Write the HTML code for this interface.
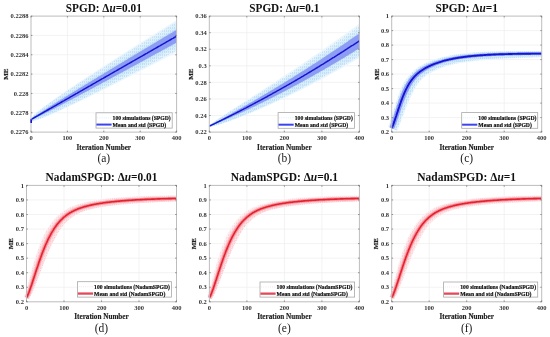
<!DOCTYPE html>
<html><head><meta charset="utf-8"><title>Figure</title><style>
html,body{margin:0;padding:0;background:#fff;}
svg{display:block;}
text{font-family:"Liberation Serif", serif;fill:#222;}
.tk{font-size:6.5px;font-weight:bold;fill:#333;}
.xl{font-size:7.2px;font-weight:bold;fill:#222;stroke:#222;stroke-width:0.15px;}
.yl{font-size:7px;font-weight:bold;fill:#222;stroke:#222;stroke-width:0.2px;}
.ti{font-size:11.9px;font-weight:bold;fill:#111;}
.lg{font-size:5.7px;font-weight:bold;fill:#111;stroke:#111;stroke-width:0.18px;}
.sc{font-size:11.5px;fill:#1a1a1a;}
</style></head>
<body><svg width="550" height="337" viewBox="0 0 550 337">
<defs><pattern id="dotblue" width="2" height="3" patternUnits="userSpaceOnUse"><rect x="0" y="0" width="1" height="2" fill="#8ec6ee"/></pattern><pattern id="dotred" width="2" height="3" patternUnits="userSpaceOnUse"><rect x="0" y="0" width="1" height="2" fill="#f4a6ae"/></pattern></defs>
<rect width="550" height="337" fill="#fff"/>
<rect x="31.0" y="16.1" width="145.60" height="116.00" fill="#fff"/>
<path d="M67.40,16.1V132.1M103.80,16.1V132.1M140.20,16.1V132.1M31.0,112.77H176.6M31.0,93.43H176.6M31.0,74.10H176.6M31.0,54.77H176.6M31.0,35.43H176.6" stroke="#eeeeee" stroke-width="0.7" fill="none"/>
<polygon points="31.0,122.8 31.7,117.6 32.5,116.7 33.2,115.9 33.9,115.1 34.6,114.4 35.4,113.7 36.1,113.1 36.8,112.4 37.6,111.8 38.3,111.2 39.0,110.6 39.7,110.0 40.5,109.4 41.2,108.9 41.9,108.3 42.6,107.7 43.4,107.2 44.1,106.6 44.8,106.1 45.6,105.5 46.3,105.0 47.0,104.4 47.7,103.9 48.5,103.4 49.2,102.8 49.9,102.3 50.7,101.8 51.4,101.2 52.1,100.7 52.8,100.2 53.6,99.7 54.3,99.2 55.0,98.7 55.8,98.1 56.5,97.6 57.2,97.1 57.9,96.6 58.7,96.1 59.4,95.6 60.1,95.1 60.8,94.6 61.6,94.1 62.3,93.6 63.0,93.1 63.8,92.6 64.5,92.1 65.2,91.6 65.9,91.1 66.7,90.6 67.4,90.1 68.1,89.6 68.9,89.1 69.6,88.6 70.3,88.1 71.0,87.6 71.8,87.2 72.5,86.7 73.2,86.2 74.0,85.7 74.7,85.2 75.4,84.7 76.1,84.2 76.9,83.7 77.6,83.3 78.3,82.8 79.0,82.3 79.8,81.8 80.5,81.3 81.2,80.8 82.0,80.4 82.7,79.9 83.4,79.4 84.1,78.9 84.9,78.4 85.6,78.0 86.3,77.5 87.1,77.0 87.8,76.5 88.5,76.1 89.2,75.6 90.0,75.1 90.7,74.6 91.4,74.2 92.2,73.7 92.9,73.2 93.6,72.7 94.3,72.3 95.1,71.8 95.8,71.3 96.5,70.8 97.2,70.4 98.0,69.9 98.7,69.4 99.4,68.9 100.2,68.5 100.9,68.0 101.6,67.5 102.3,67.1 103.1,66.6 103.8,66.1 104.5,65.7 105.3,65.2 106.0,64.7 106.7,64.2 107.4,63.8 108.2,63.3 108.9,62.8 109.6,62.4 110.4,61.9 111.1,61.4 111.8,61.0 112.5,60.5 113.3,60.0 114.0,59.6 114.7,59.1 115.4,58.6 116.2,58.2 116.9,57.7 117.6,57.3 118.4,56.8 119.1,56.3 119.8,55.9 120.5,55.4 121.3,54.9 122.0,54.5 122.7,54.0 123.5,53.5 124.2,53.1 124.9,52.6 125.6,52.2 126.4,51.7 127.1,51.2 127.8,50.8 128.6,50.3 129.3,49.8 130.0,49.4 130.7,48.9 131.5,48.5 132.2,48.0 132.9,47.5 133.6,47.1 134.4,46.6 135.1,46.2 135.8,45.7 136.6,45.2 137.3,44.8 138.0,44.3 138.7,43.9 139.5,43.4 140.2,42.9 140.9,42.5 141.7,42.0 142.4,41.6 143.1,41.1 143.8,40.6 144.6,40.2 145.3,39.7 146.0,39.3 146.8,38.8 147.5,38.4 148.2,37.9 148.9,37.4 149.7,37.0 150.4,36.5 151.1,36.1 151.8,35.6 152.6,35.2 153.3,34.7 154.0,34.2 154.8,33.8 155.5,33.3 156.2,32.9 156.9,32.4 157.7,32.0 158.4,31.5 159.1,31.1 159.9,30.6 160.6,30.1 161.3,29.7 162.0,29.2 162.8,28.8 163.5,28.3 164.2,27.9 165.0,27.4 165.7,27.0 166.4,26.5 167.1,26.1 167.9,25.6 168.6,25.1 169.3,24.7 170.0,24.2 170.8,23.8 171.5,23.3 172.2,22.9 173.0,22.4 173.7,22.0 174.4,21.5 175.1,21.1 175.9,20.6 176.6,20.2 176.6,52.3 175.9,52.6 175.1,53.0 174.4,53.4 173.7,53.8 173.0,54.2 172.2,54.5 171.5,54.9 170.8,55.3 170.0,55.7 169.3,56.1 168.6,56.4 167.9,56.8 167.1,57.2 166.4,57.6 165.7,57.9 165.0,58.3 164.2,58.7 163.5,59.1 162.8,59.5 162.0,59.8 161.3,60.2 160.6,60.6 159.9,61.0 159.1,61.4 158.4,61.7 157.7,62.1 156.9,62.5 156.2,62.9 155.5,63.2 154.8,63.6 154.0,64.0 153.3,64.4 152.6,64.8 151.8,65.1 151.1,65.5 150.4,65.9 149.7,66.3 148.9,66.6 148.2,67.0 147.5,67.4 146.8,67.8 146.0,68.1 145.3,68.5 144.6,68.9 143.8,69.3 143.1,69.6 142.4,70.0 141.7,70.4 140.9,70.8 140.2,71.1 139.5,71.5 138.7,71.9 138.0,72.3 137.3,72.6 136.6,73.0 135.8,73.4 135.1,73.8 134.4,74.1 133.6,74.5 132.9,74.9 132.2,75.2 131.5,75.6 130.7,76.0 130.0,76.4 129.3,76.7 128.6,77.1 127.8,77.5 127.1,77.8 126.4,78.2 125.6,78.6 124.9,79.0 124.2,79.3 123.5,79.7 122.7,80.1 122.0,80.4 121.3,80.8 120.5,81.2 119.8,81.6 119.1,81.9 118.4,82.3 117.6,82.7 116.9,83.0 116.2,83.4 115.4,83.8 114.7,84.1 114.0,84.5 113.3,84.9 112.5,85.2 111.8,85.6 111.1,86.0 110.4,86.3 109.6,86.7 108.9,87.1 108.2,87.4 107.4,87.8 106.7,88.2 106.0,88.5 105.3,88.9 104.5,89.3 103.8,89.6 103.1,90.0 102.3,90.3 101.6,90.7 100.9,91.1 100.2,91.4 99.4,91.8 98.7,92.2 98.0,92.5 97.2,92.9 96.5,93.2 95.8,93.6 95.1,94.0 94.3,94.3 93.6,94.7 92.9,95.0 92.2,95.4 91.4,95.8 90.7,96.1 90.0,96.5 89.2,96.8 88.5,97.2 87.8,97.5 87.1,97.9 86.3,98.3 85.6,98.6 84.9,99.0 84.1,99.3 83.4,99.7 82.7,100.0 82.0,100.4 81.2,100.7 80.5,101.1 79.8,101.4 79.0,101.8 78.3,102.1 77.6,102.5 76.9,102.8 76.1,103.2 75.4,103.5 74.7,103.9 74.0,104.2 73.2,104.6 72.5,104.9 71.8,105.3 71.0,105.6 70.3,105.9 69.6,106.3 68.9,106.6 68.1,107.0 67.4,107.3 66.7,107.6 65.9,108.0 65.2,108.3 64.5,108.7 63.8,109.0 63.0,109.3 62.3,109.7 61.6,110.0 60.8,110.3 60.1,110.6 59.4,111.0 58.7,111.3 57.9,111.6 57.2,112.0 56.5,112.3 55.8,112.6 55.0,112.9 54.3,113.2 53.6,113.6 52.8,113.9 52.1,114.2 51.4,114.5 50.7,114.8 49.9,115.1 49.2,115.4 48.5,115.7 47.7,116.0 47.0,116.3 46.3,116.6 45.6,116.9 44.8,117.2 44.1,117.5 43.4,117.7 42.6,118.0 41.9,118.3 41.2,118.5 40.5,118.8 39.7,119.1 39.0,119.3 38.3,119.5 37.6,119.8 36.8,120.0 36.1,120.2 35.4,120.3 34.6,120.5 33.9,120.6 33.2,120.7 32.5,120.7 31.7,120.6 31.0,122.8" fill="#ebf6fd"/>
<polygon points="31.0,122.8 31.7,118.0 32.5,117.2 33.2,116.5 33.9,115.8 34.6,115.2 35.4,114.6 36.1,114.0 36.8,113.4 37.6,112.8 38.3,112.3 39.0,111.7 39.7,111.2 40.5,110.6 41.2,110.1 41.9,109.6 42.6,109.1 43.4,108.5 44.1,108.0 44.8,107.5 45.6,107.0 46.3,106.5 47.0,106.0 47.7,105.5 48.5,105.0 49.2,104.5 49.9,104.0 50.7,103.5 51.4,103.0 52.1,102.5 52.8,102.0 53.6,101.5 54.3,101.0 55.0,100.5 55.8,100.0 56.5,99.5 57.2,99.0 57.9,98.6 58.7,98.1 59.4,97.6 60.1,97.1 60.8,96.6 61.6,96.2 62.3,95.7 63.0,95.2 63.8,94.7 64.5,94.2 65.2,93.8 65.9,93.3 66.7,92.8 67.4,92.3 68.1,91.9 68.9,91.4 69.6,90.9 70.3,90.4 71.0,90.0 71.8,89.5 72.5,89.0 73.2,88.6 74.0,88.1 74.7,87.6 75.4,87.2 76.1,86.7 76.9,86.2 77.6,85.8 78.3,85.3 79.0,84.8 79.8,84.4 80.5,83.9 81.2,83.4 82.0,83.0 82.7,82.5 83.4,82.0 84.1,81.6 84.9,81.1 85.6,80.6 86.3,80.2 87.1,79.7 87.8,79.3 88.5,78.8 89.2,78.3 90.0,77.9 90.7,77.4 91.4,77.0 92.2,76.5 92.9,76.0 93.6,75.6 94.3,75.1 95.1,74.7 95.8,74.2 96.5,73.7 97.2,73.3 98.0,72.8 98.7,72.4 99.4,71.9 100.2,71.5 100.9,71.0 101.6,70.5 102.3,70.1 103.1,69.6 103.8,69.2 104.5,68.7 105.3,68.3 106.0,67.8 106.7,67.4 107.4,66.9 108.2,66.4 108.9,66.0 109.6,65.5 110.4,65.1 111.1,64.6 111.8,64.2 112.5,63.7 113.3,63.3 114.0,62.8 114.7,62.4 115.4,61.9 116.2,61.5 116.9,61.0 117.6,60.6 118.4,60.1 119.1,59.6 119.8,59.2 120.5,58.7 121.3,58.3 122.0,57.8 122.7,57.4 123.5,56.9 124.2,56.5 124.9,56.0 125.6,55.6 126.4,55.1 127.1,54.7 127.8,54.2 128.6,53.8 129.3,53.3 130.0,52.9 130.7,52.4 131.5,52.0 132.2,51.5 132.9,51.1 133.6,50.6 134.4,50.2 135.1,49.7 135.8,49.3 136.6,48.8 137.3,48.4 138.0,48.0 138.7,47.5 139.5,47.1 140.2,46.6 140.9,46.2 141.7,45.7 142.4,45.3 143.1,44.8 143.8,44.4 144.6,43.9 145.3,43.5 146.0,43.0 146.8,42.6 147.5,42.1 148.2,41.7 148.9,41.2 149.7,40.8 150.4,40.3 151.1,39.9 151.8,39.5 152.6,39.0 153.3,38.6 154.0,38.1 154.8,37.7 155.5,37.2 156.2,36.8 156.9,36.3 157.7,35.9 158.4,35.4 159.1,35.0 159.9,34.5 160.6,34.1 161.3,33.7 162.0,33.2 162.8,32.8 163.5,32.3 164.2,31.9 165.0,31.4 165.7,31.0 166.4,30.5 167.1,30.1 167.9,29.7 168.6,29.2 169.3,28.8 170.0,28.3 170.8,27.9 171.5,27.4 172.2,27.0 173.0,26.5 173.7,26.1 174.4,25.7 175.1,25.2 175.9,24.8 176.6,24.3 176.6,48.1 175.9,48.5 175.1,48.9 174.4,49.3 173.7,49.6 173.0,50.0 172.2,50.4 171.5,50.8 170.8,51.2 170.0,51.6 169.3,52.0 168.6,52.4 167.9,52.8 167.1,53.1 166.4,53.5 165.7,53.9 165.0,54.3 164.2,54.7 163.5,55.1 162.8,55.5 162.0,55.9 161.3,56.3 160.6,56.6 159.9,57.0 159.1,57.4 158.4,57.8 157.7,58.2 156.9,58.6 156.2,59.0 155.5,59.4 154.8,59.7 154.0,60.1 153.3,60.5 152.6,60.9 151.8,61.3 151.1,61.7 150.4,62.1 149.7,62.5 148.9,62.8 148.2,63.2 147.5,63.6 146.8,64.0 146.0,64.4 145.3,64.8 144.6,65.2 143.8,65.5 143.1,65.9 142.4,66.3 141.7,66.7 140.9,67.1 140.2,67.5 139.5,67.9 138.7,68.2 138.0,68.6 137.3,69.0 136.6,69.4 135.8,69.8 135.1,70.2 134.4,70.5 133.6,70.9 132.9,71.3 132.2,71.7 131.5,72.1 130.7,72.5 130.0,72.9 129.3,73.2 128.6,73.6 127.8,74.0 127.1,74.4 126.4,74.8 125.6,75.2 124.9,75.5 124.2,75.9 123.5,76.3 122.7,76.7 122.0,77.1 121.3,77.4 120.5,77.8 119.8,78.2 119.1,78.6 118.4,79.0 117.6,79.4 116.9,79.7 116.2,80.1 115.4,80.5 114.7,80.9 114.0,81.3 113.3,81.6 112.5,82.0 111.8,82.4 111.1,82.8 110.4,83.2 109.6,83.5 108.9,83.9 108.2,84.3 107.4,84.7 106.7,85.1 106.0,85.4 105.3,85.8 104.5,86.2 103.8,86.6 103.1,86.9 102.3,87.3 101.6,87.7 100.9,88.1 100.2,88.4 99.4,88.8 98.7,89.2 98.0,89.6 97.2,90.0 96.5,90.3 95.8,90.7 95.1,91.1 94.3,91.5 93.6,91.8 92.9,92.2 92.2,92.6 91.4,92.9 90.7,93.3 90.0,93.7 89.2,94.1 88.5,94.4 87.8,94.8 87.1,95.2 86.3,95.6 85.6,95.9 84.9,96.3 84.1,96.7 83.4,97.0 82.7,97.4 82.0,97.8 81.2,98.1 80.5,98.5 79.8,98.9 79.0,99.2 78.3,99.6 77.6,100.0 76.9,100.3 76.1,100.7 75.4,101.1 74.7,101.4 74.0,101.8 73.2,102.2 72.5,102.5 71.8,102.9 71.0,103.3 70.3,103.6 69.6,104.0 68.9,104.3 68.1,104.7 67.4,105.1 66.7,105.4 65.9,105.8 65.2,106.1 64.5,106.5 63.8,106.9 63.0,107.2 62.3,107.6 61.6,107.9 60.8,108.3 60.1,108.6 59.4,109.0 58.7,109.3 57.9,109.7 57.2,110.0 56.5,110.4 55.8,110.7 55.0,111.1 54.3,111.4 53.6,111.7 52.8,112.1 52.1,112.4 51.4,112.8 50.7,113.1 49.9,113.4 49.2,113.8 48.5,114.1 47.7,114.4 47.0,114.8 46.3,115.1 45.6,115.4 44.8,115.7 44.1,116.1 43.4,116.4 42.6,116.7 41.9,117.0 41.2,117.3 40.5,117.6 39.7,117.9 39.0,118.2 38.3,118.5 37.6,118.7 36.8,119.0 36.1,119.2 35.4,119.5 34.6,119.7 33.9,119.9 33.2,120.1 32.5,120.2 31.7,120.2 31.0,122.8" fill="#ddeffb"/>
<polygon points="31.0,122.8 31.7,118.4 32.5,117.7 33.2,117.1 33.9,116.5 34.6,115.9 35.4,115.4 36.1,114.8 36.8,114.3 37.6,113.8 38.3,113.3 39.0,112.8 39.7,112.3 40.5,111.8 41.2,111.3 41.9,110.8 42.6,110.3 43.4,109.8 44.1,109.3 44.8,108.8 45.6,108.4 46.3,107.9 47.0,107.4 47.7,106.9 48.5,106.4 49.2,106.0 49.9,105.5 50.7,105.0 51.4,104.6 52.1,104.1 52.8,103.6 53.6,103.2 54.3,102.7 55.0,102.2 55.8,101.8 56.5,101.3 57.2,100.8 57.9,100.4 58.7,99.9 59.4,99.4 60.1,99.0 60.8,98.5 61.6,98.1 62.3,97.6 63.0,97.1 63.8,96.7 64.5,96.2 65.2,95.8 65.9,95.3 66.7,94.9 67.4,94.4 68.1,93.9 68.9,93.5 69.6,93.0 70.3,92.6 71.0,92.1 71.8,91.7 72.5,91.2 73.2,90.8 74.0,90.3 74.7,89.9 75.4,89.4 76.1,89.0 76.9,88.5 77.6,88.1 78.3,87.6 79.0,87.2 79.8,86.7 80.5,86.3 81.2,85.8 82.0,85.4 82.7,84.9 83.4,84.5 84.1,84.0 84.9,83.6 85.6,83.1 86.3,82.7 87.1,82.2 87.8,81.8 88.5,81.3 89.2,80.9 90.0,80.4 90.7,80.0 91.4,79.6 92.2,79.1 92.9,78.7 93.6,78.2 94.3,77.8 95.1,77.3 95.8,76.9 96.5,76.4 97.2,76.0 98.0,75.5 98.7,75.1 99.4,74.7 100.2,74.2 100.9,73.8 101.6,73.3 102.3,72.9 103.1,72.4 103.8,72.0 104.5,71.6 105.3,71.1 106.0,70.7 106.7,70.2 107.4,69.8 108.2,69.3 108.9,68.9 109.6,68.5 110.4,68.0 111.1,67.6 111.8,67.1 112.5,66.7 113.3,66.2 114.0,65.8 114.7,65.4 115.4,64.9 116.2,64.5 116.9,64.0 117.6,63.6 118.4,63.2 119.1,62.7 119.8,62.3 120.5,61.8 121.3,61.4 122.0,61.0 122.7,60.5 123.5,60.1 124.2,59.6 124.9,59.2 125.6,58.8 126.4,58.3 127.1,57.9 127.8,57.4 128.6,57.0 129.3,56.6 130.0,56.1 130.7,55.7 131.5,55.2 132.2,54.8 132.9,54.4 133.6,53.9 134.4,53.5 135.1,53.1 135.8,52.6 136.6,52.2 137.3,51.7 138.0,51.3 138.7,50.9 139.5,50.4 140.2,50.0 140.9,49.6 141.7,49.1 142.4,48.7 143.1,48.2 143.8,47.8 144.6,47.4 145.3,46.9 146.0,46.5 146.8,46.1 147.5,45.6 148.2,45.2 148.9,44.7 149.7,44.3 150.4,43.9 151.1,43.4 151.8,43.0 152.6,42.6 153.3,42.1 154.0,41.7 154.8,41.2 155.5,40.8 156.2,40.4 156.9,39.9 157.7,39.5 158.4,39.1 159.1,38.6 159.9,38.2 160.6,37.8 161.3,37.3 162.0,36.9 162.8,36.5 163.5,36.0 164.2,35.6 165.0,35.1 165.7,34.7 166.4,34.3 167.1,33.8 167.9,33.4 168.6,33.0 169.3,32.5 170.0,32.1 170.8,31.7 171.5,31.2 172.2,30.8 173.0,30.4 173.7,29.9 174.4,29.5 175.1,29.1 175.9,28.6 176.6,28.2 176.6,44.2 175.9,44.6 175.1,45.0 174.4,45.4 173.7,45.8 173.0,46.2 172.2,46.6 171.5,47.0 170.8,47.4 170.0,47.8 169.3,48.2 168.6,48.6 167.9,49.0 167.1,49.4 166.4,49.8 165.7,50.2 165.0,50.6 164.2,51.0 163.5,51.4 162.8,51.8 162.0,52.2 161.3,52.6 160.6,53.0 159.9,53.4 159.1,53.8 158.4,54.2 157.7,54.6 156.9,55.0 156.2,55.4 155.5,55.8 154.8,56.2 154.0,56.6 153.3,57.0 152.6,57.4 151.8,57.8 151.1,58.1 150.4,58.5 149.7,58.9 148.9,59.3 148.2,59.7 147.5,60.1 146.8,60.5 146.0,60.9 145.3,61.3 144.6,61.7 143.8,62.1 143.1,62.5 142.4,62.9 141.7,63.3 140.9,63.7 140.2,64.1 139.5,64.5 138.7,64.9 138.0,65.3 137.3,65.7 136.6,66.1 135.8,66.5 135.1,66.9 134.4,67.2 133.6,67.6 132.9,68.0 132.2,68.4 131.5,68.8 130.7,69.2 130.0,69.6 129.3,70.0 128.6,70.4 127.8,70.8 127.1,71.2 126.4,71.6 125.6,72.0 124.9,72.4 124.2,72.8 123.5,73.2 122.7,73.6 122.0,73.9 121.3,74.3 120.5,74.7 119.8,75.1 119.1,75.5 118.4,75.9 117.6,76.3 116.9,76.7 116.2,77.1 115.4,77.5 114.7,77.9 114.0,78.3 113.3,78.7 112.5,79.1 111.8,79.4 111.1,79.8 110.4,80.2 109.6,80.6 108.9,81.0 108.2,81.4 107.4,81.8 106.7,82.2 106.0,82.6 105.3,83.0 104.5,83.4 103.8,83.7 103.1,84.1 102.3,84.5 101.6,84.9 100.9,85.3 100.2,85.7 99.4,86.1 98.7,86.5 98.0,86.9 97.2,87.2 96.5,87.6 95.8,88.0 95.1,88.4 94.3,88.8 93.6,89.2 92.9,89.6 92.2,90.0 91.4,90.4 90.7,90.7 90.0,91.1 89.2,91.5 88.5,91.9 87.8,92.3 87.1,92.7 86.3,93.1 85.6,93.4 84.9,93.8 84.1,94.2 83.4,94.6 82.7,95.0 82.0,95.4 81.2,95.8 80.5,96.1 79.8,96.5 79.0,96.9 78.3,97.3 77.6,97.7 76.9,98.1 76.1,98.4 75.4,98.8 74.7,99.2 74.0,99.6 73.2,100.0 72.5,100.3 71.8,100.7 71.0,101.1 70.3,101.5 69.6,101.9 68.9,102.2 68.1,102.6 67.4,103.0 66.7,103.4 65.9,103.8 65.2,104.1 64.5,104.5 63.8,104.9 63.0,105.3 62.3,105.6 61.6,106.0 60.8,106.4 60.1,106.8 59.4,107.1 58.7,107.5 57.9,107.9 57.2,108.2 56.5,108.6 55.8,109.0 55.0,109.4 54.3,109.7 53.6,110.1 52.8,110.5 52.1,110.8 51.4,111.2 50.7,111.5 49.9,111.9 49.2,112.3 48.5,112.6 47.7,113.0 47.0,113.3 46.3,113.7 45.6,114.0 44.8,114.4 44.1,114.7 43.4,115.1 42.6,115.4 41.9,115.8 41.2,116.1 40.5,116.5 39.7,116.8 39.0,117.1 38.3,117.5 37.6,117.8 36.8,118.1 36.1,118.4 35.4,118.7 34.6,119.0 33.9,119.2 33.2,119.5 32.5,119.7 31.7,119.9 31.0,122.8" fill="#cfe7f9"/>
<polygon points="31.0,122.8 31.7,117.8 32.5,116.9 33.2,116.1 33.9,115.4 34.6,114.7 35.4,114.1 36.1,113.4 36.8,112.8 37.6,112.2 38.3,111.6 39.0,111.0 39.7,110.5 40.5,109.9 41.2,109.3 41.9,108.8 42.6,108.2 43.4,107.7 44.1,107.1 44.8,106.6 45.6,106.1 46.3,105.5 47.0,105.0 47.7,104.5 48.5,104.0 49.2,103.5 49.9,102.9 50.7,102.4 51.4,101.9 52.1,101.4 52.8,100.9 53.6,100.4 54.3,99.9 55.0,99.4 55.8,98.9 56.5,98.4 57.2,97.9 57.9,97.4 58.7,96.9 59.4,96.4 60.1,95.9 60.8,95.4 61.6,94.9 62.3,94.4 63.0,93.9 63.8,93.4 64.5,92.9 65.2,92.4 65.9,91.9 66.7,91.4 67.4,91.0 68.1,90.5 68.9,90.0 69.6,89.5 70.3,89.0 71.0,88.5 71.8,88.1 72.5,87.6 73.2,87.1 74.0,86.6 74.7,86.1 75.4,85.7 76.1,85.2 76.9,84.7 77.6,84.2 78.3,83.7 79.0,83.3 79.8,82.8 80.5,82.3 81.2,81.8 82.0,81.4 82.7,80.9 83.4,80.4 84.1,79.9 84.9,79.5 85.6,79.0 86.3,78.5 87.1,78.1 87.8,77.6 88.5,77.1 89.2,76.6 90.0,76.2 90.7,75.7 91.4,75.2 92.2,74.8 92.9,74.3 93.6,73.8 94.3,73.4 95.1,72.9 95.8,72.4 96.5,72.0 97.2,71.5 98.0,71.0 98.7,70.6 99.4,70.1 100.2,69.6 100.9,69.2 101.6,68.7 102.3,68.2 103.1,67.8 103.8,67.3 104.5,66.8 105.3,66.4 106.0,65.9 106.7,65.4 107.4,65.0 108.2,64.5 108.9,64.1 109.6,63.6 110.4,63.1 111.1,62.7 111.8,62.2 112.5,61.7 113.3,61.3 114.0,60.8 114.7,60.4 115.4,59.9 116.2,59.4 116.9,59.0 117.6,58.5 118.4,58.1 119.1,57.6 119.8,57.1 120.5,56.7 121.3,56.2 122.0,55.8 122.7,55.3 123.5,54.8 124.2,54.4 124.9,53.9 125.6,53.5 126.4,53.0 127.1,52.6 127.8,52.1 128.6,51.6 129.3,51.2 130.0,50.7 130.7,50.3 131.5,49.8 132.2,49.4 132.9,48.9 133.6,48.4 134.4,48.0 135.1,47.5 135.8,47.1 136.6,46.6 137.3,46.2 138.0,45.7 138.7,45.3 139.5,44.8 140.2,44.3 140.9,43.9 141.7,43.4 142.4,43.0 143.1,42.5 143.8,42.1 144.6,41.6 145.3,41.2 146.0,40.7 146.8,40.3 147.5,39.8 148.2,39.4 148.9,38.9 149.7,38.5 150.4,38.0 151.1,37.5 151.8,37.1 152.6,36.6 153.3,36.2 154.0,35.7 154.8,35.3 155.5,34.8 156.2,34.4 156.9,33.9 157.7,33.5 158.4,33.0 159.1,32.6 159.9,32.1 160.6,31.7 161.3,31.2 162.0,30.8 162.8,30.3 163.5,29.9 164.2,29.4 165.0,29.0 165.7,28.5 166.4,28.1 167.1,27.6 167.9,27.2 168.6,26.7 169.3,26.3 170.0,25.8 170.8,25.4 171.5,24.9 172.2,24.5 173.0,24.0 173.7,23.6 174.4,23.1 175.1,22.7 175.9,22.2 176.6,21.8 176.6,50.6 175.9,51.0 175.1,51.4 174.4,51.8 173.7,52.2 173.0,52.6 172.2,53.0 171.5,53.3 170.8,53.7 170.0,54.1 169.3,54.5 168.6,54.9 167.9,55.3 167.1,55.6 166.4,56.0 165.7,56.4 165.0,56.8 164.2,57.2 163.5,57.5 162.8,57.9 162.0,58.3 161.3,58.7 160.6,59.1 159.9,59.5 159.1,59.8 158.4,60.2 157.7,60.6 156.9,61.0 156.2,61.4 155.5,61.7 154.8,62.1 154.0,62.5 153.3,62.9 152.6,63.3 151.8,63.7 151.1,64.0 150.4,64.4 149.7,64.8 148.9,65.2 148.2,65.6 147.5,65.9 146.8,66.3 146.0,66.7 145.3,67.1 144.6,67.5 143.8,67.8 143.1,68.2 142.4,68.6 141.7,69.0 140.9,69.3 140.2,69.7 139.5,70.1 138.7,70.5 138.0,70.9 137.3,71.2 136.6,71.6 135.8,72.0 135.1,72.4 134.4,72.8 133.6,73.1 132.9,73.5 132.2,73.9 131.5,74.3 130.7,74.6 130.0,75.0 129.3,75.4 128.6,75.8 127.8,76.1 127.1,76.5 126.4,76.9 125.6,77.3 124.9,77.6 124.2,78.0 123.5,78.4 122.7,78.8 122.0,79.1 121.3,79.5 120.5,79.9 119.8,80.3 119.1,80.6 118.4,81.0 117.6,81.4 116.9,81.8 116.2,82.1 115.4,82.5 114.7,82.9 114.0,83.3 113.3,83.6 112.5,84.0 111.8,84.4 111.1,84.7 110.4,85.1 109.6,85.5 108.9,85.9 108.2,86.2 107.4,86.6 106.7,87.0 106.0,87.3 105.3,87.7 104.5,88.1 103.8,88.4 103.1,88.8 102.3,89.2 101.6,89.5 100.9,89.9 100.2,90.3 99.4,90.7 98.7,91.0 98.0,91.4 97.2,91.8 96.5,92.1 95.8,92.5 95.1,92.9 94.3,93.2 93.6,93.6 92.9,93.9 92.2,94.3 91.4,94.7 90.7,95.0 90.0,95.4 89.2,95.8 88.5,96.1 87.8,96.5 87.1,96.9 86.3,97.2 85.6,97.6 84.9,97.9 84.1,98.3 83.4,98.7 82.7,99.0 82.0,99.4 81.2,99.7 80.5,100.1 79.8,100.4 79.0,100.8 78.3,101.2 77.6,101.5 76.9,101.9 76.1,102.2 75.4,102.6 74.7,102.9 74.0,103.3 73.2,103.6 72.5,104.0 71.8,104.3 71.0,104.7 70.3,105.0 69.6,105.4 68.9,105.7 68.1,106.1 67.4,106.4 66.7,106.8 65.9,107.1 65.2,107.5 64.5,107.8 63.8,108.2 63.0,108.5 62.3,108.8 61.6,109.2 60.8,109.5 60.1,109.9 59.4,110.2 58.7,110.5 57.9,110.9 57.2,111.2 56.5,111.5 55.8,111.9 55.0,112.2 54.3,112.5 53.6,112.9 52.8,113.2 52.1,113.5 51.4,113.8 50.7,114.1 49.9,114.5 49.2,114.8 48.5,115.1 47.7,115.4 47.0,115.7 46.3,116.0 45.6,116.3 44.8,116.6 44.1,116.9 43.4,117.2 42.6,117.5 41.9,117.8 41.2,118.1 40.5,118.3 39.7,118.6 39.0,118.9 38.3,119.1 37.6,119.4 36.8,119.6 36.1,119.8 35.4,120.0 34.6,120.2 33.9,120.4 33.2,120.5 32.5,120.5 31.7,120.4 31.0,122.8" fill="url(#dotblue)" opacity="0.35"/>
<polyline points="31.0,122.8 32.8,117.8 34.6,116.5 36.5,115.3 38.3,114.1 40.1,112.9 41.9,111.7 43.7,110.6 45.6,109.4 47.4,108.3 49.2,107.1 51.0,106.0 52.8,104.9 54.7,103.8 56.5,102.7 58.3,101.5 60.1,100.4 61.9,99.3 63.8,98.2 65.6,97.1 67.4,96.0 69.2,94.9 71.0,93.8 72.9,92.7 74.7,91.6 76.5,90.5 78.3,89.4 80.1,88.3 82.0,87.2 83.8,86.1 85.6,85.0 87.4,84.0 89.2,82.9 91.1,81.8 92.9,80.7 94.7,79.6 96.5,78.5 98.3,77.4 100.2,76.4 102.0,75.3 103.8,74.2 105.6,73.1 107.4,72.0 109.3,70.9 111.1,69.9 112.9,68.8 114.7,67.7 116.5,66.6 118.4,65.5 120.2,64.5 122.0,63.4 123.8,62.3 125.6,61.2 127.5,60.1 129.3,59.1 131.1,58.0 132.9,56.9 134.7,55.8 136.6,54.8 138.4,53.7 140.2,52.6 142.0,51.5 143.8,50.5 145.7,49.4 147.5,48.3 149.3,47.2 151.1,46.2 152.9,45.1 154.8,44.0 156.6,43.0 158.4,41.9 160.2,40.8 162.0,39.7 163.9,38.7 165.7,37.6 167.5,36.5 169.3,35.5 171.1,34.4 173.0,33.3 174.8,32.2 176.6,31.2" fill="none" stroke="#a8d6f4" stroke-width="0.5" stroke-dasharray="0.6 1.2"/>
<polyline points="31.0,122.8 32.8,118.8 34.6,117.8 36.5,116.9 38.3,115.9 40.1,114.9 41.9,113.9 43.7,112.9 45.6,111.9 47.4,110.9 49.2,109.9 51.0,108.9 52.8,107.9 54.7,106.9 56.5,105.8 58.3,104.8 60.1,103.8 61.9,102.8 63.8,101.8 65.6,100.8 67.4,99.7 69.2,98.7 71.0,97.7 72.9,96.7 74.7,95.7 76.5,94.7 78.3,93.6 80.1,92.6 82.0,91.6 83.8,90.6 85.6,89.5 87.4,88.5 89.2,87.5 91.1,86.5 92.9,85.4 94.7,84.4 96.5,83.4 98.3,82.4 100.2,81.4 102.0,80.3 103.8,79.3 105.6,78.3 107.4,77.2 109.3,76.2 111.1,75.2 112.9,74.2 114.7,73.1 116.5,72.1 118.4,71.1 120.2,70.1 122.0,69.0 123.8,68.0 125.6,67.0 127.5,66.0 129.3,64.9 131.1,63.9 132.9,62.9 134.7,61.8 136.6,60.8 138.4,59.8 140.2,58.8 142.0,57.7 143.8,56.7 145.7,55.7 147.5,54.6 149.3,53.6 151.1,52.6 152.9,51.6 154.8,50.5 156.6,49.5 158.4,48.5 160.2,47.4 162.0,46.4 163.9,45.4 165.7,44.3 167.5,43.3 169.3,42.3 171.1,41.3 173.0,40.2 174.8,39.2 176.6,38.2" fill="none" stroke="#a8d6f4" stroke-width="0.5" stroke-dasharray="0.6 1.2"/>
<polyline points="31.0,122.8 32.8,118.4 34.6,117.3 36.5,116.3 38.3,115.2 40.1,114.2 41.9,113.1 43.7,112.1 45.6,111.0 47.4,109.9 49.2,108.9 51.0,107.8 52.8,106.8 54.7,105.7 56.5,104.7 58.3,103.6 60.1,102.6 61.9,101.5 63.8,100.5 65.6,99.4 67.4,98.4 69.2,97.4 71.0,96.3 72.9,95.3 74.7,94.2 76.5,93.2 78.3,92.1 80.1,91.1 82.0,90.0 83.8,89.0 85.6,87.9 87.4,86.9 89.2,85.8 91.1,84.8 92.9,83.7 94.7,82.7 96.5,81.6 98.3,80.6 100.2,79.6 102.0,78.5 103.8,77.5 105.6,76.4 107.4,75.4 109.3,74.3 111.1,73.3 112.9,72.2 114.7,71.2 116.5,70.1 118.4,69.1 120.2,68.0 122.0,67.0 123.8,66.0 125.6,64.9 127.5,63.9 129.3,62.8 131.1,61.8 132.9,60.7 134.7,59.7 136.6,58.6 138.4,57.6 140.2,56.5 142.0,55.5 143.8,54.5 145.7,53.4 147.5,52.4 149.3,51.3 151.1,50.3 152.9,49.2 154.8,48.2 156.6,47.1 158.4,46.1 160.2,45.0 162.0,44.0 163.9,43.0 165.7,41.9 167.5,40.9 169.3,39.8 171.1,38.8 173.0,37.7 174.8,36.7 176.6,35.6" fill="none" stroke="#a8d6f4" stroke-width="0.5" stroke-dasharray="0.6 1.2"/>
<polyline points="31.0,122.8 32.8,116.6 34.6,114.8 36.5,113.3 38.3,111.8 40.1,110.4 41.9,109.0 43.7,107.6 45.6,106.3 47.4,105.0 49.2,103.7 51.0,102.4 52.8,101.1 54.7,99.9 56.5,98.6 58.3,97.4 60.1,96.2 61.9,94.9 63.8,93.7 65.6,92.5 67.4,91.3 69.2,90.1 71.0,88.9 72.9,87.7 74.7,86.5 76.5,85.3 78.3,84.1 80.1,82.9 82.0,81.8 83.8,80.6 85.6,79.4 87.4,78.2 89.2,77.1 91.1,75.9 92.9,74.7 94.7,73.6 96.5,72.4 98.3,71.2 100.2,70.1 102.0,68.9 103.8,67.8 105.6,66.6 107.4,65.4 109.3,64.3 111.1,63.1 112.9,62.0 114.7,60.8 116.5,59.7 118.4,58.6 120.2,57.4 122.0,56.3 123.8,55.1 125.6,54.0 127.5,52.8 129.3,51.7 131.1,50.6 132.9,49.4 134.7,48.3 136.6,47.2 138.4,46.0 140.2,44.9 142.0,43.8 143.8,42.6 145.7,41.5 147.5,40.4 149.3,39.2 151.1,38.1 152.9,37.0 154.8,35.9 156.6,34.7 158.4,33.6 160.2,32.5 162.0,31.4 163.9,30.2 165.7,29.1 167.5,28.0 169.3,26.9 171.1,25.7 173.0,24.6 174.8,23.5 176.6,22.4" fill="none" stroke="#a8d6f4" stroke-width="0.5" stroke-dasharray="0.6 1.2"/>
<polyline points="31.0,122.8 32.8,119.8 34.6,119.2 36.5,118.5 38.3,117.8 40.1,117.0 41.9,116.2 43.7,115.3 45.6,114.5 47.4,113.6 49.2,112.7 51.0,111.9 52.8,111.0 54.7,110.1 56.5,109.2 58.3,108.3 60.1,107.3 61.9,106.4 63.8,105.5 65.6,104.6 67.4,103.7 69.2,102.7 71.0,101.8 72.9,100.9 74.7,99.9 76.5,99.0 78.3,98.0 80.1,97.1 82.0,96.1 83.8,95.2 85.6,94.2 87.4,93.3 89.2,92.3 91.1,91.4 92.9,90.4 94.7,89.5 96.5,88.5 98.3,87.5 100.2,86.6 102.0,85.6 103.8,84.6 105.6,83.7 107.4,82.7 109.3,81.7 111.1,80.8 112.9,79.8 114.7,78.8 116.5,77.9 118.4,76.9 120.2,75.9 122.0,74.9 123.8,74.0 125.6,73.0 127.5,72.0 129.3,71.0 131.1,70.1 132.9,69.1 134.7,68.1 136.6,67.1 138.4,66.1 140.2,65.2 142.0,64.2 143.8,63.2 145.7,62.2 147.5,61.2 149.3,60.3 151.1,59.3 152.9,58.3 154.8,57.3 156.6,56.3 158.4,55.3 160.2,54.3 162.0,53.4 163.9,52.4 165.7,51.4 167.5,50.4 169.3,49.4 171.1,48.4 173.0,47.4 174.8,46.4 176.6,45.5" fill="none" stroke="#a8d6f4" stroke-width="0.5" stroke-dasharray="0.6 1.2"/>
<polyline points="31.0,122.8 32.8,117.5 34.6,116.1 36.5,114.8 38.3,113.5 40.1,112.3 41.9,111.1 43.7,109.9 45.6,108.7 47.4,107.5 49.2,106.3 51.0,105.2 52.8,104.0 54.7,102.8 56.5,101.7 58.3,100.6 60.1,99.4 61.9,98.3 63.8,97.1 65.6,96.0 67.4,94.9 69.2,93.8 71.0,92.6 72.9,91.5 74.7,90.4 76.5,89.3 78.3,88.2 80.1,87.0 82.0,85.9 83.8,84.8 85.6,83.7 87.4,82.6 89.2,81.5 91.1,80.4 92.9,79.3 94.7,78.2 96.5,77.1 98.3,76.0 100.2,74.9 102.0,73.8 103.8,72.7 105.6,71.6 107.4,70.5 109.3,69.4 111.1,68.3 112.9,67.2 114.7,66.1 116.5,65.0 118.4,63.9 120.2,62.8 122.0,61.7 123.8,60.6 125.6,59.5 127.5,58.4 129.3,57.3 131.1,56.2 132.9,55.1 134.7,54.0 136.6,53.0 138.4,51.9 140.2,50.8 142.0,49.7 143.8,48.6 145.7,47.5 147.5,46.4 149.3,45.3 151.1,44.3 152.9,43.2 154.8,42.1 156.6,41.0 158.4,39.9 160.2,38.8 162.0,37.7 163.9,36.7 165.7,35.6 167.5,34.5 169.3,33.4 171.1,32.3 173.0,31.2 174.8,30.2 176.6,29.1" fill="none" stroke="#a8d6f4" stroke-width="0.5" stroke-dasharray="0.6 1.2"/>
<polyline points="31.0,122.8 32.8,120.4 34.6,120.0 36.5,119.5 38.3,118.9 40.1,118.2 41.9,117.5 43.7,116.7 45.6,116.0 47.4,115.2 49.2,114.4 51.0,113.6 52.8,112.8 54.7,111.9 56.5,111.1 58.3,110.3 60.1,109.4 61.9,108.5 63.8,107.7 65.6,106.8 67.4,105.9 69.2,105.0 71.0,104.2 72.9,103.3 74.7,102.4 76.5,101.5 78.3,100.6 80.1,99.7 82.0,98.8 83.8,97.9 85.6,97.0 87.4,96.0 89.2,95.1 91.1,94.2 92.9,93.3 94.7,92.4 96.5,91.4 98.3,90.5 100.2,89.6 102.0,88.7 103.8,87.7 105.6,86.8 107.4,85.9 109.3,84.9 111.1,84.0 112.9,83.1 114.7,82.1 116.5,81.2 118.4,80.2 120.2,79.3 122.0,78.4 123.8,77.4 125.6,76.5 127.5,75.5 129.3,74.6 131.1,73.6 132.9,72.7 134.7,71.7 136.6,70.8 138.4,69.8 140.2,68.9 142.0,67.9 143.8,67.0 145.7,66.0 147.5,65.1 149.3,64.1 151.1,63.2 152.9,62.2 154.8,61.2 156.6,60.3 158.4,59.3 160.2,58.4 162.0,57.4 163.9,56.4 165.7,55.5 167.5,54.5 169.3,53.5 171.1,52.6 173.0,51.6 174.8,50.7 176.6,49.7" fill="none" stroke="#a8d6f4" stroke-width="0.5" stroke-dasharray="0.6 1.2"/>
<polyline points="31.0,122.8 32.8,120.3 34.6,119.9 36.5,119.4 38.3,118.8 40.1,118.1 41.9,117.3 43.7,116.6 45.6,115.8 47.4,115.0 49.2,114.2 51.0,113.4 52.8,112.6 54.7,111.7 56.5,110.9 58.3,110.0 60.1,109.2 61.9,108.3 63.8,107.4 65.6,106.6 67.4,105.7 69.2,104.8 71.0,103.9 72.9,103.0 74.7,102.1 76.5,101.2 78.3,100.3 80.1,99.4 82.0,98.5 83.8,97.6 85.6,96.7 87.4,95.7 89.2,94.8 91.1,93.9 92.9,93.0 94.7,92.1 96.5,91.1 98.3,90.2 100.2,89.3 102.0,88.3 103.8,87.4 105.6,86.5 107.4,85.5 109.3,84.6 111.1,83.7 112.9,82.7 114.7,81.8 116.5,80.8 118.4,79.9 120.2,78.9 122.0,78.0 123.8,77.1 125.6,76.1 127.5,75.2 129.3,74.2 131.1,73.3 132.9,72.3 134.7,71.3 136.6,70.4 138.4,69.4 140.2,68.5 142.0,67.5 143.8,66.6 145.7,65.6 147.5,64.7 149.3,63.7 151.1,62.7 152.9,61.8 154.8,60.8 156.6,59.9 158.4,58.9 160.2,57.9 162.0,57.0 163.9,56.0 165.7,55.0 167.5,54.1 169.3,53.1 171.1,52.1 173.0,51.2 174.8,50.2 176.6,49.2" fill="none" stroke="#a8d6f4" stroke-width="0.5" stroke-dasharray="0.6 1.2"/>
<polyline points="31.0,122.8 32.8,119.1 34.6,118.3 36.5,117.4 38.3,116.5 40.1,115.6 41.9,114.6 43.7,113.7 45.6,112.7 47.4,111.8 49.2,110.8 51.0,109.8 52.8,108.9 54.7,107.9 56.5,106.9 58.3,105.9 60.1,105.0 61.9,104.0 63.8,103.0 65.6,102.0 67.4,101.0 69.2,100.0 71.0,99.0 72.9,98.0 74.7,97.1 76.5,96.1 78.3,95.1 80.1,94.1 82.0,93.1 83.8,92.1 85.6,91.1 87.4,90.1 89.2,89.1 91.1,88.1 92.9,87.1 94.7,86.1 96.5,85.1 98.3,84.1 100.2,83.1 102.0,82.0 103.8,81.0 105.6,80.0 107.4,79.0 109.3,78.0 111.1,77.0 112.9,76.0 114.7,75.0 116.5,74.0 118.4,73.0 120.2,72.0 122.0,71.0 123.8,69.9 125.6,68.9 127.5,67.9 129.3,66.9 131.1,65.9 132.9,64.9 134.7,63.9 136.6,62.9 138.4,61.9 140.2,60.8 142.0,59.8 143.8,58.8 145.7,57.8 147.5,56.8 149.3,55.8 151.1,54.8 152.9,53.7 154.8,52.7 156.6,51.7 158.4,50.7 160.2,49.7 162.0,48.7 163.9,47.7 165.7,46.6 167.5,45.6 169.3,44.6 171.1,43.6 173.0,42.6 174.8,41.6 176.6,40.5" fill="none" stroke="#a8d6f4" stroke-width="0.5" stroke-dasharray="0.6 1.2"/>
<polyline points="31.0,122.8 32.8,117.7 34.6,116.4 36.5,115.2 38.3,114.0 40.1,112.8 41.9,111.6 43.7,110.4 45.6,109.3 47.4,108.1 49.2,107.0 51.0,105.9 52.8,104.7 54.7,103.6 56.5,102.5 58.3,101.4 60.1,100.2 61.9,99.1 63.8,98.0 65.6,96.9 67.4,95.8 69.2,94.7 71.0,93.6 72.9,92.5 74.7,91.4 76.5,90.3 78.3,89.2 80.1,88.1 82.0,87.0 83.8,85.9 85.6,84.8 87.4,83.7 89.2,82.6 91.1,81.5 92.9,80.4 94.7,79.4 96.5,78.3 98.3,77.2 100.2,76.1 102.0,75.0 103.8,73.9 105.6,72.8 107.4,71.7 109.3,70.7 111.1,69.6 112.9,68.5 114.7,67.4 116.5,66.3 118.4,65.2 120.2,64.2 122.0,63.1 123.8,62.0 125.6,60.9 127.5,59.8 129.3,58.8 131.1,57.7 132.9,56.6 134.7,55.5 136.6,54.4 138.4,53.4 140.2,52.3 142.0,51.2 143.8,50.1 145.7,49.1 147.5,48.0 149.3,46.9 151.1,45.8 152.9,44.8 154.8,43.7 156.6,42.6 158.4,41.5 160.2,40.5 162.0,39.4 163.9,38.3 165.7,37.2 167.5,36.2 169.3,35.1 171.1,34.0 173.0,32.9 174.8,31.9 176.6,30.8" fill="none" stroke="#a8d6f4" stroke-width="0.5" stroke-dasharray="0.6 1.2"/>
<polyline points="31.0,122.8 32.8,116.7 34.6,115.0 36.5,113.5 38.3,112.0 40.1,110.7 41.9,109.3 43.7,108.0 45.6,106.7 47.4,105.4 49.2,104.1 51.0,102.8 52.8,101.6 54.7,100.3 56.5,99.1 58.3,97.9 60.1,96.7 61.9,95.5 63.8,94.2 65.6,93.0 67.4,91.8 69.2,90.7 71.0,89.5 72.9,88.3 74.7,87.1 76.5,85.9 78.3,84.7 80.1,83.6 82.0,82.4 83.8,81.2 85.6,80.1 87.4,78.9 89.2,77.7 91.1,76.6 92.9,75.4 94.7,74.3 96.5,73.1 98.3,72.0 100.2,70.8 102.0,69.7 103.8,68.5 105.6,67.4 107.4,66.2 109.3,65.1 111.1,63.9 112.9,62.8 114.7,61.7 116.5,60.5 118.4,59.4 120.2,58.2 122.0,57.1 123.8,56.0 125.6,54.8 127.5,53.7 129.3,52.6 131.1,51.4 132.9,50.3 134.7,49.2 136.6,48.1 138.4,46.9 140.2,45.8 142.0,44.7 143.8,43.6 145.7,42.4 147.5,41.3 149.3,40.2 151.1,39.1 152.9,37.9 154.8,36.8 156.6,35.7 158.4,34.6 160.2,33.5 162.0,32.3 163.9,31.2 165.7,30.1 167.5,29.0 169.3,27.9 171.1,26.8 173.0,25.6 174.8,24.5 176.6,23.4" fill="none" stroke="#a8d6f4" stroke-width="0.5" stroke-dasharray="0.6 1.2"/>
<polyline points="31.0,122.8 32.8,119.8 34.6,119.3 36.5,118.6 38.3,117.9 40.1,117.1 41.9,116.3 43.7,115.4 45.6,114.6 47.4,113.7 49.2,112.9 51.0,112.0 52.8,111.1 54.7,110.2 56.5,109.3 58.3,108.4 60.1,107.5 61.9,106.6 63.8,105.7 65.6,104.7 67.4,103.8 69.2,102.9 71.0,102.0 72.9,101.0 74.7,100.1 76.5,99.2 78.3,98.2 80.1,97.3 82.0,96.3 83.8,95.4 85.6,94.4 87.4,93.5 89.2,92.5 91.1,91.6 92.9,90.6 94.7,89.7 96.5,88.7 98.3,87.8 100.2,86.8 102.0,85.8 103.8,84.9 105.6,83.9 107.4,82.9 109.3,82.0 111.1,81.0 112.9,80.0 114.7,79.1 116.5,78.1 118.4,77.1 120.2,76.2 122.0,75.2 123.8,74.2 125.6,73.2 127.5,72.3 129.3,71.3 131.1,70.3 132.9,69.3 134.7,68.4 136.6,67.4 138.4,66.4 140.2,65.4 142.0,64.5 143.8,63.5 145.7,62.5 147.5,61.5 149.3,60.5 151.1,59.6 152.9,58.6 154.8,57.6 156.6,56.6 158.4,55.6 160.2,54.6 162.0,53.7 163.9,52.7 165.7,51.7 167.5,50.7 169.3,49.7 171.1,48.7 173.0,47.7 174.8,46.8 176.6,45.8" fill="none" stroke="#a8d6f4" stroke-width="0.5" stroke-dasharray="0.6 1.2"/>
<polygon points="31.0,122.8 31.7,118.8 32.5,118.2 33.2,117.7 33.9,117.1 34.6,116.6 35.4,116.1 36.1,115.6 36.8,115.1 37.6,114.6 38.3,114.1 39.0,113.7 39.7,113.2 40.5,112.7 41.2,112.2 41.9,111.7 42.6,111.3 43.4,110.8 44.1,110.3 44.8,109.9 45.6,109.4 46.3,108.9 47.0,108.5 47.7,108.0 48.5,107.5 49.2,107.1 49.9,106.6 50.7,106.2 51.4,105.7 52.1,105.2 52.8,104.8 53.6,104.3 54.3,103.9 55.0,103.4 55.8,103.0 56.5,102.5 57.2,102.1 57.9,101.6 58.7,101.1 59.4,100.7 60.1,100.2 60.8,99.8 61.6,99.3 62.3,98.9 63.0,98.4 63.8,98.0 64.5,97.5 65.2,97.1 65.9,96.6 66.7,96.2 67.4,95.7 68.1,95.3 68.9,94.8 69.6,94.4 70.3,93.9 71.0,93.5 71.8,93.0 72.5,92.6 73.2,92.1 74.0,91.7 74.7,91.2 75.4,90.8 76.1,90.4 76.9,89.9 77.6,89.5 78.3,89.0 79.0,88.6 79.8,88.1 80.5,87.7 81.2,87.2 82.0,86.8 82.7,86.3 83.4,85.9 84.1,85.5 84.9,85.0 85.6,84.6 86.3,84.1 87.1,83.7 87.8,83.2 88.5,82.8 89.2,82.3 90.0,81.9 90.7,81.5 91.4,81.0 92.2,80.6 92.9,80.1 93.6,79.7 94.3,79.2 95.1,78.8 95.8,78.4 96.5,77.9 97.2,77.5 98.0,77.0 98.7,76.6 99.4,76.2 100.2,75.7 100.9,75.3 101.6,74.8 102.3,74.4 103.1,74.0 103.8,73.5 104.5,73.1 105.3,72.6 106.0,72.2 106.7,71.8 107.4,71.3 108.2,70.9 108.9,70.4 109.6,70.0 110.4,69.6 111.1,69.1 111.8,68.7 112.5,68.2 113.3,67.8 114.0,67.4 114.7,66.9 115.4,66.5 116.2,66.0 116.9,65.6 117.6,65.2 118.4,64.7 119.1,64.3 119.8,63.8 120.5,63.4 121.3,63.0 122.0,62.5 122.7,62.1 123.5,61.7 124.2,61.2 124.9,60.8 125.6,60.3 126.4,59.9 127.1,59.5 127.8,59.0 128.6,58.6 129.3,58.1 130.0,57.7 130.7,57.3 131.5,56.8 132.2,56.4 132.9,56.0 133.6,55.5 134.4,55.1 135.1,54.6 135.8,54.2 136.6,53.8 137.3,53.3 138.0,52.9 138.7,52.5 139.5,52.0 140.2,51.6 140.9,51.2 141.7,50.7 142.4,50.3 143.1,49.8 143.8,49.4 144.6,49.0 145.3,48.5 146.0,48.1 146.8,47.7 147.5,47.2 148.2,46.8 148.9,46.4 149.7,45.9 150.4,45.5 151.1,45.0 151.8,44.6 152.6,44.2 153.3,43.7 154.0,43.3 154.8,42.9 155.5,42.4 156.2,42.0 156.9,41.6 157.7,41.1 158.4,40.7 159.1,40.3 159.9,39.8 160.6,39.4 161.3,39.0 162.0,38.5 162.8,38.1 163.5,37.6 164.2,37.2 165.0,36.8 165.7,36.3 166.4,35.9 167.1,35.5 167.9,35.0 168.6,34.6 169.3,34.2 170.0,33.7 170.8,33.3 171.5,32.9 172.2,32.4 173.0,32.0 173.7,31.6 174.4,31.1 175.1,30.7 175.9,30.3 176.6,29.8 176.6,42.6 175.9,43.0 175.1,43.4 174.4,43.8 173.7,44.2 173.0,44.6 172.2,45.0 171.5,45.4 170.8,45.8 170.0,46.2 169.3,46.6 168.6,47.0 167.9,47.4 167.1,47.8 166.4,48.2 165.7,48.6 165.0,49.0 164.2,49.4 163.5,49.8 162.8,50.2 162.0,50.6 161.3,51.0 160.6,51.4 159.9,51.8 159.1,52.2 158.4,52.6 157.7,52.9 156.9,53.3 156.2,53.7 155.5,54.1 154.8,54.5 154.0,54.9 153.3,55.3 152.6,55.7 151.8,56.1 151.1,56.5 150.4,56.9 149.7,57.3 148.9,57.7 148.2,58.1 147.5,58.5 146.8,58.9 146.0,59.3 145.3,59.7 144.6,60.1 143.8,60.5 143.1,60.9 142.4,61.3 141.7,61.7 140.9,62.1 140.2,62.5 139.5,62.9 138.7,63.3 138.0,63.7 137.3,64.1 136.6,64.5 135.8,64.9 135.1,65.3 134.4,65.7 133.6,66.1 132.9,66.4 132.2,66.8 131.5,67.2 130.7,67.6 130.0,68.0 129.3,68.4 128.6,68.8 127.8,69.2 127.1,69.6 126.4,70.0 125.6,70.4 124.9,70.8 124.2,71.2 123.5,71.6 122.7,72.0 122.0,72.4 121.3,72.8 120.5,73.2 119.8,73.6 119.1,74.0 118.4,74.4 117.6,74.7 116.9,75.1 116.2,75.5 115.4,75.9 114.7,76.3 114.0,76.7 113.3,77.1 112.5,77.5 111.8,77.9 111.1,78.3 110.4,78.7 109.6,79.1 108.9,79.5 108.2,79.9 107.4,80.3 106.7,80.7 106.0,81.0 105.3,81.4 104.5,81.8 103.8,82.2 103.1,82.6 102.3,83.0 101.6,83.4 100.9,83.8 100.2,84.2 99.4,84.6 98.7,85.0 98.0,85.4 97.2,85.8 96.5,86.1 95.8,86.5 95.1,86.9 94.3,87.3 93.6,87.7 92.9,88.1 92.2,88.5 91.4,88.9 90.7,89.3 90.0,89.7 89.2,90.1 88.5,90.4 87.8,90.8 87.1,91.2 86.3,91.6 85.6,92.0 84.9,92.4 84.1,92.8 83.4,93.2 82.7,93.6 82.0,94.0 81.2,94.3 80.5,94.7 79.8,95.1 79.0,95.5 78.3,95.9 77.6,96.3 76.9,96.7 76.1,97.1 75.4,97.4 74.7,97.8 74.0,98.2 73.2,98.6 72.5,99.0 71.8,99.4 71.0,99.8 70.3,100.1 69.6,100.5 68.9,100.9 68.1,101.3 67.4,101.7 66.7,102.1 65.9,102.4 65.2,102.8 64.5,103.2 63.8,103.6 63.0,104.0 62.3,104.4 61.6,104.7 60.8,105.1 60.1,105.5 59.4,105.9 58.7,106.3 57.9,106.6 57.2,107.0 56.5,107.4 55.8,107.8 55.0,108.2 54.3,108.5 53.6,108.9 52.8,109.3 52.1,109.7 51.4,110.0 50.7,110.4 49.9,110.8 49.2,111.2 48.5,111.5 47.7,111.9 47.0,112.3 46.3,112.6 45.6,113.0 44.8,113.4 44.1,113.7 43.4,114.1 42.6,114.5 41.9,114.8 41.2,115.2 40.5,115.5 39.7,115.9 39.0,116.2 38.3,116.6 37.6,116.9 36.8,117.3 36.1,117.6 35.4,118.0 34.6,118.3 33.9,118.6 33.2,118.9 32.5,119.2 31.7,119.5 31.0,122.8" fill="#8e9df4"/>
<polyline points="31.0,122.8 31.0,119.5 31.7,119.1 32.5,118.7 33.2,118.3 33.9,117.9 34.6,117.5 35.4,117.0 36.1,116.6 36.8,116.2 37.6,115.8 38.3,115.4 39.0,115.0 39.7,114.5 40.5,114.1 41.2,113.7 41.9,113.3 42.6,112.9 43.4,112.5 44.1,112.0 44.8,111.6 45.6,111.2 46.3,110.8 47.0,110.4 47.7,110.0 48.5,109.5 49.2,109.1 49.9,108.7 50.7,108.3 51.4,107.9 52.1,107.5 52.8,107.0 53.6,106.6 54.3,106.2 55.0,105.8 55.8,105.4 56.5,105.0 57.2,104.5 57.9,104.1 58.7,103.7 59.4,103.3 60.1,102.9 60.8,102.5 61.6,102.0 62.3,101.6 63.0,101.2 63.8,100.8 64.5,100.4 65.2,100.0 65.9,99.5 66.7,99.1 67.4,98.7 68.1,98.3 68.9,97.9 69.6,97.5 70.3,97.0 71.0,96.6 71.8,96.2 72.5,95.8 73.2,95.4 74.0,95.0 74.7,94.5 75.4,94.1 76.1,93.7 76.9,93.3 77.6,92.9 78.3,92.5 79.0,92.0 79.8,91.6 80.5,91.2 81.2,90.8 82.0,90.4 82.7,90.0 83.4,89.5 84.1,89.1 84.9,88.7 85.6,88.3 86.3,87.9 87.1,87.5 87.8,87.0 88.5,86.6 89.2,86.2 90.0,85.8 90.7,85.4 91.4,85.0 92.2,84.5 92.9,84.1 93.6,83.7 94.3,83.3 95.1,82.9 95.8,82.5 96.5,82.0 97.2,81.6 98.0,81.2 98.7,80.8 99.4,80.4 100.2,80.0 100.9,79.5 101.6,79.1 102.3,78.7 103.1,78.3 103.8,77.9 104.5,77.5 105.3,77.0 106.0,76.6 106.7,76.2 107.4,75.8 108.2,75.4 108.9,75.0 109.6,74.5 110.4,74.1 111.1,73.7 111.8,73.3 112.5,72.9 113.3,72.5 114.0,72.0 114.7,71.6 115.4,71.2 116.2,70.8 116.9,70.4 117.6,70.0 118.4,69.5 119.1,69.1 119.8,68.7 120.5,68.3 121.3,67.9 122.0,67.5 122.7,67.0 123.5,66.6 124.2,66.2 124.9,65.8 125.6,65.4 126.4,65.0 127.1,64.5 127.8,64.1 128.6,63.7 129.3,63.3 130.0,62.9 130.7,62.5 131.5,62.0 132.2,61.6 132.9,61.2 133.6,60.8 134.4,60.4 135.1,60.0 135.8,59.5 136.6,59.1 137.3,58.7 138.0,58.3 138.7,57.9 139.5,57.5 140.2,57.0 140.9,56.6 141.7,56.2 142.4,55.8 143.1,55.4 143.8,55.0 144.6,54.5 145.3,54.1 146.0,53.7 146.8,53.3 147.5,52.9 148.2,52.5 148.9,52.0 149.7,51.6 150.4,51.2 151.1,50.8 151.8,50.4 152.6,50.0 153.3,49.5 154.0,49.1 154.8,48.7 155.5,48.3 156.2,47.9 156.9,47.5 157.7,47.0 158.4,46.6 159.1,46.2 159.9,45.8 160.6,45.4 161.3,45.0 162.0,44.5 162.8,44.1 163.5,43.7 164.2,43.3 165.0,42.9 165.7,42.5 166.4,42.0 167.1,41.6 167.9,41.2 168.6,40.8 169.3,40.4 170.0,40.0 170.8,39.5 171.5,39.1 172.2,38.7 173.0,38.3 173.7,37.9 174.4,37.5 175.1,37.0 175.9,36.6 176.6,36.2" fill="none" stroke="#1414d2" stroke-width="1.5" stroke-linejoin="round"/>
<rect x="31.0" y="16.1" width="145.60" height="116.00" fill="none" stroke="#bdbdbd" stroke-width="1"/>
<path d="M31.30,123.12V119.53" stroke="#1414d2" stroke-width="1.4"/>
<path d="M31.00,132.1v-1.4M31.00,16.1v1.4M67.40,132.1v-1.4M67.40,16.1v1.4M103.80,132.1v-1.4M103.80,16.1v1.4M140.20,132.1v-1.4M140.20,16.1v1.4M176.60,132.1v-1.4M176.60,16.1v1.4M31.0,132.10h1.4M176.6,132.10h-1.4M31.0,112.77h1.4M176.6,112.77h-1.4M31.0,93.43h1.4M176.6,93.43h-1.4M31.0,74.10h1.4M176.6,74.10h-1.4M31.0,54.77h1.4M176.6,54.77h-1.4M31.0,35.43h1.4M176.6,35.43h-1.4M31.0,16.10h1.4M176.6,16.10h-1.4" stroke="#555" stroke-width="0.6" fill="none"/>
<text x="28.40" y="134.30" text-anchor="end" class="tk">0.2276</text>
<text x="28.40" y="114.97" text-anchor="end" class="tk">0.2278</text>
<text x="28.40" y="95.63" text-anchor="end" class="tk">0.228</text>
<text x="28.40" y="76.30" text-anchor="end" class="tk">0.2282</text>
<text x="28.40" y="56.97" text-anchor="end" class="tk">0.2284</text>
<text x="28.40" y="37.63" text-anchor="end" class="tk">0.2286</text>
<text x="28.40" y="18.30" text-anchor="end" class="tk">0.2288</text>
<text x="31.00" y="140.30" text-anchor="middle" class="tk">0</text>
<text x="67.40" y="140.30" text-anchor="middle" class="tk">100</text>
<text x="103.80" y="140.30" text-anchor="middle" class="tk">200</text>
<text x="140.20" y="140.30" text-anchor="middle" class="tk">300</text>
<text x="176.60" y="140.30" text-anchor="middle" class="tk">400</text>
<text x="103.80" y="149.50" text-anchor="middle" class="xl">Iteration Number</text>
<text transform="translate(7.60,74.10) rotate(-90)" text-anchor="middle" class="yl">ME</text>
<text x="103.80" y="11.70" text-anchor="middle" class="ti" textLength="76.0" lengthAdjust="spacingAndGlyphs">SPGD: Δ<tspan font-style="italic">u</tspan>=0.01</text>
<rect x="96.0" y="112.8" width="76.20" height="15.30" fill="#fff" stroke="#a8a8a8" stroke-width="0.8"/>
<path d="M97.20,117.85h14" stroke="#cde6f8" stroke-width="0.8" stroke-dasharray="0.8 1.4"/>
<path d="M96.40,124.58h15.2" stroke="#3c44ee" stroke-width="2.0"/>
<text x="112.60" y="119.75" class="lg">100 simulations (SPGD)</text>
<text x="112.60" y="126.88" class="lg">Mean and std (SPGD)</text>
<text x="103.80" y="161.80" text-anchor="middle" class="sc">(a)</text>
<rect x="209.3" y="16.1" width="150.10" height="116.00" fill="#fff"/>
<path d="M246.82,16.1V132.1M284.35,16.1V132.1M321.88,16.1V132.1M209.3,115.53H359.4M209.3,98.96H359.4M209.3,82.39H359.4M209.3,65.81H359.4M209.3,49.24H359.4M209.3,32.67H359.4" stroke="#eeeeee" stroke-width="0.7" fill="none"/>
<polygon points="209.3,126.1 210.1,125.1 210.8,124.4 211.6,123.8 212.3,123.2 213.1,122.6 213.8,122.0 214.6,121.4 215.3,120.9 216.1,120.4 216.8,119.8 217.6,119.3 218.3,118.8 219.1,118.3 219.8,117.7 220.6,117.2 221.3,116.7 222.1,116.2 222.8,115.7 223.6,115.2 224.3,114.7 225.1,114.2 225.8,113.7 226.6,113.2 227.3,112.7 228.1,112.2 228.8,111.7 229.6,111.3 230.3,110.8 231.1,110.3 231.8,109.8 232.6,109.3 233.3,108.8 234.1,108.3 234.8,107.8 235.6,107.4 236.3,106.9 237.1,106.4 237.8,105.9 238.6,105.4 239.3,104.9 240.1,104.5 240.8,104.0 241.6,103.5 242.3,103.0 243.1,102.5 243.8,102.1 244.6,101.6 245.3,101.1 246.1,100.6 246.8,100.1 247.6,99.6 248.3,99.2 249.1,98.7 249.8,98.2 250.6,97.7 251.3,97.2 252.1,96.8 252.8,96.3 253.6,95.8 254.3,95.3 255.1,94.8 255.8,94.3 256.6,93.9 257.3,93.4 258.1,92.9 258.8,92.4 259.6,91.9 260.3,91.4 261.1,91.0 261.8,90.5 262.6,90.0 263.3,89.5 264.1,89.0 264.8,88.5 265.6,88.0 266.3,87.6 267.1,87.1 267.8,86.6 268.6,86.1 269.3,85.6 270.1,85.1 270.8,84.6 271.6,84.1 272.3,83.6 273.1,83.2 273.8,82.7 274.6,82.2 275.3,81.7 276.1,81.2 276.8,80.7 277.6,80.2 278.3,79.7 279.1,79.2 279.8,78.7 280.6,78.2 281.3,77.7 282.1,77.3 282.8,76.8 283.6,76.3 284.4,75.8 285.1,75.3 285.9,74.8 286.6,74.3 287.4,73.8 288.1,73.3 288.9,72.8 289.6,72.3 290.4,71.8 291.1,71.3 291.9,70.8 292.6,70.3 293.4,69.8 294.1,69.3 294.9,68.8 295.6,68.3 296.4,67.8 297.1,67.3 297.9,66.8 298.6,66.3 299.4,65.8 300.1,65.3 300.9,64.8 301.6,64.2 302.4,63.7 303.1,63.2 303.9,62.7 304.6,62.2 305.4,61.7 306.1,61.2 306.9,60.7 307.6,60.2 308.4,59.7 309.1,59.2 309.9,58.7 310.6,58.1 311.4,57.6 312.1,57.1 312.9,56.6 313.6,56.1 314.4,55.6 315.1,55.1 315.9,54.5 316.6,54.0 317.4,53.5 318.1,53.0 318.9,52.5 319.6,52.0 320.4,51.4 321.1,50.9 321.9,50.4 322.6,49.9 323.4,49.4 324.1,48.8 324.9,48.3 325.6,47.8 326.4,47.3 327.1,46.7 327.9,46.2 328.6,45.7 329.4,45.2 330.1,44.6 330.9,44.1 331.6,43.6 332.4,43.1 333.1,42.5 333.9,42.0 334.6,41.5 335.4,40.9 336.1,40.4 336.9,39.9 337.6,39.3 338.4,38.8 339.1,38.3 339.9,37.7 340.6,37.2 341.4,36.7 342.1,36.1 342.9,35.6 343.6,35.1 344.4,34.5 345.1,34.0 345.9,33.5 346.6,32.9 347.4,32.4 348.1,31.8 348.9,31.3 349.6,30.8 350.4,30.2 351.1,29.7 351.9,29.1 352.6,28.6 353.4,28.0 354.1,27.5 354.9,27.0 355.6,26.4 356.4,25.9 357.1,25.3 357.9,24.8 358.6,24.2 359.4,23.7 359.4,58.0 358.6,58.4 357.9,58.9 357.1,59.3 356.4,59.7 355.6,60.2 354.9,60.6 354.1,61.1 353.4,61.5 352.6,61.9 351.9,62.4 351.1,62.8 350.4,63.2 349.6,63.7 348.9,64.1 348.1,64.5 347.4,65.0 346.6,65.4 345.9,65.8 345.1,66.2 344.4,66.7 343.6,67.1 342.9,67.5 342.1,67.9 341.4,68.4 340.6,68.8 339.9,69.2 339.1,69.6 338.4,70.1 337.6,70.5 336.9,70.9 336.1,71.3 335.4,71.7 334.6,72.1 333.9,72.6 333.1,73.0 332.4,73.4 331.6,73.8 330.9,74.2 330.1,74.6 329.4,75.0 328.6,75.4 327.9,75.9 327.1,76.3 326.4,76.7 325.6,77.1 324.9,77.5 324.1,77.9 323.4,78.3 322.6,78.7 321.9,79.1 321.1,79.5 320.4,79.9 319.6,80.3 318.9,80.7 318.1,81.1 317.4,81.5 316.6,81.9 315.9,82.3 315.1,82.7 314.4,83.1 313.6,83.5 312.9,83.9 312.1,84.2 311.4,84.6 310.6,85.0 309.9,85.4 309.1,85.8 308.4,86.2 307.6,86.6 306.9,87.0 306.1,87.3 305.4,87.7 304.6,88.1 303.9,88.5 303.1,88.9 302.4,89.2 301.6,89.6 300.9,90.0 300.1,90.4 299.4,90.8 298.6,91.1 297.9,91.5 297.1,91.9 296.4,92.3 295.6,92.6 294.9,93.0 294.1,93.4 293.4,93.7 292.6,94.1 291.9,94.5 291.1,94.8 290.4,95.2 289.6,95.6 288.9,95.9 288.1,96.3 287.4,96.7 286.6,97.0 285.9,97.4 285.1,97.7 284.4,98.1 283.6,98.4 282.8,98.8 282.1,99.2 281.3,99.5 280.6,99.9 279.8,100.2 279.1,100.6 278.3,100.9 277.6,101.3 276.8,101.6 276.1,102.0 275.3,102.3 274.6,102.7 273.8,103.0 273.1,103.3 272.3,103.7 271.6,104.0 270.8,104.4 270.1,104.7 269.3,105.0 268.6,105.4 267.8,105.7 267.1,106.0 266.3,106.4 265.6,106.7 264.8,107.0 264.1,107.4 263.3,107.7 262.6,108.0 261.8,108.4 261.1,108.7 260.3,109.0 259.6,109.3 258.8,109.7 258.1,110.0 257.3,110.3 256.6,110.6 255.8,110.9 255.1,111.2 254.3,111.6 253.6,111.9 252.8,112.2 252.1,112.5 251.3,112.8 250.6,113.1 249.8,113.4 249.1,113.7 248.3,114.0 247.6,114.3 246.8,114.6 246.1,114.9 245.3,115.2 244.6,115.5 243.8,115.8 243.1,116.1 242.3,116.4 241.6,116.7 240.8,117.0 240.1,117.3 239.3,117.6 238.6,117.9 237.8,118.2 237.1,118.4 236.3,118.7 235.6,119.0 234.8,119.3 234.1,119.6 233.3,119.8 232.6,120.1 231.8,120.4 231.1,120.6 230.3,120.9 229.6,121.2 228.8,121.4 228.1,121.7 227.3,121.9 226.6,122.2 225.8,122.5 225.1,122.7 224.3,122.9 223.6,123.2 222.8,123.4 222.1,123.7 221.3,123.9 220.6,124.1 219.8,124.3 219.1,124.6 218.3,124.8 217.6,125.0 216.8,125.2 216.1,125.4 215.3,125.6 214.6,125.7 213.8,125.9 213.1,126.1 212.3,126.2 211.6,126.3 210.8,126.4 210.1,126.4 209.3,126.1" fill="#ebf6fd"/>
<polygon points="209.3,126.1 210.1,125.3 210.8,124.7 211.6,124.1 212.3,123.6 213.1,123.0 213.8,122.5 214.6,122.0 215.3,121.5 216.1,121.0 216.8,120.5 217.6,120.0 218.3,119.6 219.1,119.1 219.8,118.6 220.6,118.1 221.3,117.7 222.1,117.2 222.8,116.7 223.6,116.3 224.3,115.8 225.1,115.3 225.8,114.9 226.6,114.4 227.3,113.9 228.1,113.5 228.8,113.0 229.6,112.5 230.3,112.1 231.1,111.6 231.8,111.2 232.6,110.7 233.3,110.3 234.1,109.8 234.8,109.3 235.6,108.9 236.3,108.4 237.1,108.0 237.8,107.5 238.6,107.0 239.3,106.6 240.1,106.1 240.8,105.7 241.6,105.2 242.3,104.8 243.1,104.3 243.8,103.8 244.6,103.4 245.3,102.9 246.1,102.5 246.8,102.0 247.6,101.6 248.3,101.1 249.1,100.6 249.8,100.2 250.6,99.7 251.3,99.3 252.1,98.8 252.8,98.3 253.6,97.9 254.3,97.4 255.1,97.0 255.8,96.5 256.6,96.0 257.3,95.6 258.1,95.1 258.8,94.6 259.6,94.2 260.3,93.7 261.1,93.3 261.8,92.8 262.6,92.3 263.3,91.9 264.1,91.4 264.8,90.9 265.6,90.5 266.3,90.0 267.1,89.5 267.8,89.1 268.6,88.6 269.3,88.1 270.1,87.7 270.8,87.2 271.6,86.7 272.3,86.3 273.1,85.8 273.8,85.3 274.6,84.8 275.3,84.4 276.1,83.9 276.8,83.4 277.6,83.0 278.3,82.5 279.1,82.0 279.8,81.5 280.6,81.1 281.3,80.6 282.1,80.1 282.8,79.6 283.6,79.1 284.4,78.7 285.1,78.2 285.9,77.7 286.6,77.2 287.4,76.8 288.1,76.3 288.9,75.8 289.6,75.3 290.4,74.8 291.1,74.4 291.9,73.9 292.6,73.4 293.4,72.9 294.1,72.4 294.9,71.9 295.6,71.4 296.4,71.0 297.1,70.5 297.9,70.0 298.6,69.5 299.4,69.0 300.1,68.5 300.9,68.0 301.6,67.5 302.4,67.1 303.1,66.6 303.9,66.1 304.6,65.6 305.4,65.1 306.1,64.6 306.9,64.1 307.6,63.6 308.4,63.1 309.1,62.6 309.9,62.1 310.6,61.6 311.4,61.1 312.1,60.6 312.9,60.1 313.6,59.6 314.4,59.1 315.1,58.6 315.9,58.1 316.6,57.6 317.4,57.1 318.1,56.6 318.9,56.1 319.6,55.6 320.4,55.1 321.1,54.6 321.9,54.1 322.6,53.6 323.4,53.1 324.1,52.6 324.9,52.1 325.6,51.6 326.4,51.1 327.1,50.6 327.9,50.1 328.6,49.6 329.4,49.0 330.1,48.5 330.9,48.0 331.6,47.5 332.4,47.0 333.1,46.5 333.9,46.0 334.6,45.5 335.4,44.9 336.1,44.4 336.9,43.9 337.6,43.4 338.4,42.9 339.1,42.4 339.9,41.8 340.6,41.3 341.4,40.8 342.1,40.3 342.9,39.8 343.6,39.2 344.4,38.7 345.1,38.2 345.9,37.7 346.6,37.1 347.4,36.6 348.1,36.1 348.9,35.6 349.6,35.0 350.4,34.5 351.1,34.0 351.9,33.5 352.6,32.9 353.4,32.4 354.1,31.9 354.9,31.3 355.6,30.8 356.4,30.3 357.1,29.7 357.9,29.2 358.6,28.7 359.4,28.1 359.4,53.5 358.6,54.0 357.9,54.4 357.1,54.9 356.4,55.3 355.6,55.8 354.9,56.2 354.1,56.7 353.4,57.1 352.6,57.6 351.9,58.0 351.1,58.5 350.4,58.9 349.6,59.4 348.9,59.8 348.1,60.3 347.4,60.7 346.6,61.2 345.9,61.6 345.1,62.0 344.4,62.5 343.6,62.9 342.9,63.4 342.1,63.8 341.4,64.2 340.6,64.7 339.9,65.1 339.1,65.6 338.4,66.0 337.6,66.4 336.9,66.9 336.1,67.3 335.4,67.7 334.6,68.2 333.9,68.6 333.1,69.0 332.4,69.4 331.6,69.9 330.9,70.3 330.1,70.7 329.4,71.1 328.6,71.6 327.9,72.0 327.1,72.4 326.4,72.8 325.6,73.3 324.9,73.7 324.1,74.1 323.4,74.5 322.6,74.9 321.9,75.4 321.1,75.8 320.4,76.2 319.6,76.6 318.9,77.0 318.1,77.4 317.4,77.8 316.6,78.3 315.9,78.7 315.1,79.1 314.4,79.5 313.6,79.9 312.9,80.3 312.1,80.7 311.4,81.1 310.6,81.5 309.9,81.9 309.1,82.3 308.4,82.7 307.6,83.1 306.9,83.5 306.1,83.9 305.4,84.3 304.6,84.7 303.9,85.1 303.1,85.5 302.4,85.9 301.6,86.3 300.9,86.7 300.1,87.1 299.4,87.5 298.6,87.9 297.9,88.3 297.1,88.7 296.4,89.1 295.6,89.5 294.9,89.8 294.1,90.2 293.4,90.6 292.6,91.0 291.9,91.4 291.1,91.8 290.4,92.2 289.6,92.5 288.9,92.9 288.1,93.3 287.4,93.7 286.6,94.1 285.9,94.4 285.1,94.8 284.4,95.2 283.6,95.6 282.8,95.9 282.1,96.3 281.3,96.7 280.6,97.1 279.8,97.4 279.1,97.8 278.3,98.2 277.6,98.5 276.8,98.9 276.1,99.3 275.3,99.6 274.6,100.0 273.8,100.4 273.1,100.7 272.3,101.1 271.6,101.4 270.8,101.8 270.1,102.2 269.3,102.5 268.6,102.9 267.8,103.2 267.1,103.6 266.3,103.9 265.6,104.3 264.8,104.6 264.1,105.0 263.3,105.3 262.6,105.7 261.8,106.0 261.1,106.4 260.3,106.7 259.6,107.1 258.8,107.4 258.1,107.8 257.3,108.1 256.6,108.4 255.8,108.8 255.1,109.1 254.3,109.4 253.6,109.8 252.8,110.1 252.1,110.5 251.3,110.8 250.6,111.1 249.8,111.4 249.1,111.8 248.3,112.1 247.6,112.4 246.8,112.8 246.1,113.1 245.3,113.4 244.6,113.7 243.8,114.1 243.1,114.4 242.3,114.7 241.6,115.0 240.8,115.3 240.1,115.6 239.3,115.9 238.6,116.3 237.8,116.6 237.1,116.9 236.3,117.2 235.6,117.5 234.8,117.8 234.1,118.1 233.3,118.4 232.6,118.7 231.8,119.0 231.1,119.3 230.3,119.6 229.6,119.9 228.8,120.2 228.1,120.5 227.3,120.7 226.6,121.0 225.8,121.3 225.1,121.6 224.3,121.9 223.6,122.1 222.8,122.4 222.1,122.7 221.3,123.0 220.6,123.2 219.8,123.5 219.1,123.7 218.3,124.0 217.6,124.2 216.8,124.5 216.1,124.7 215.3,125.0 214.6,125.2 213.8,125.4 213.1,125.6 212.3,125.8 211.6,126.0 210.8,126.1 210.1,126.2 209.3,126.1" fill="#ddeffb"/>
<polygon points="209.3,126.1 210.1,125.4 210.8,124.9 211.6,124.4 212.3,123.9 213.1,123.4 213.8,123.0 214.6,122.5 215.3,122.1 216.1,121.6 216.8,121.2 217.6,120.7 218.3,120.3 219.1,119.8 219.8,119.4 220.6,119.0 221.3,118.5 222.1,118.1 222.8,117.6 223.6,117.2 224.3,116.8 225.1,116.3 225.8,115.9 226.6,115.5 227.3,115.0 228.1,114.6 228.8,114.2 229.6,113.7 230.3,113.3 231.1,112.9 231.8,112.4 232.6,112.0 233.3,111.6 234.1,111.1 234.8,110.7 235.6,110.3 236.3,109.8 237.1,109.4 237.8,109.0 238.6,108.5 239.3,108.1 240.1,107.7 240.8,107.2 241.6,106.8 242.3,106.4 243.1,105.9 243.8,105.5 244.6,105.1 245.3,104.6 246.1,104.2 246.8,103.8 247.6,103.3 248.3,102.9 249.1,102.4 249.8,102.0 250.6,101.6 251.3,101.1 252.1,100.7 252.8,100.2 253.6,99.8 254.3,99.4 255.1,98.9 255.8,98.5 256.6,98.0 257.3,97.6 258.1,97.2 258.8,96.7 259.6,96.3 260.3,95.8 261.1,95.4 261.8,94.9 262.6,94.5 263.3,94.0 264.1,93.6 264.8,93.2 265.6,92.7 266.3,92.3 267.1,91.8 267.8,91.4 268.6,90.9 269.3,90.5 270.1,90.0 270.8,89.6 271.6,89.1 272.3,88.7 273.1,88.2 273.8,87.8 274.6,87.3 275.3,86.8 276.1,86.4 276.8,85.9 277.6,85.5 278.3,85.0 279.1,84.6 279.8,84.1 280.6,83.6 281.3,83.2 282.1,82.7 282.8,82.3 283.6,81.8 284.4,81.3 285.1,80.9 285.9,80.4 286.6,80.0 287.4,79.5 288.1,79.0 288.9,78.6 289.6,78.1 290.4,77.6 291.1,77.2 291.9,76.7 292.6,76.2 293.4,75.8 294.1,75.3 294.9,74.8 295.6,74.4 296.4,73.9 297.1,73.4 297.9,73.0 298.6,72.5 299.4,72.0 300.1,71.5 300.9,71.1 301.6,70.6 302.4,70.1 303.1,69.6 303.9,69.2 304.6,68.7 305.4,68.2 306.1,67.7 306.9,67.3 307.6,66.8 308.4,66.3 309.1,65.8 309.9,65.3 310.6,64.9 311.4,64.4 312.1,63.9 312.9,63.4 313.6,62.9 314.4,62.4 315.1,62.0 315.9,61.5 316.6,61.0 317.4,60.5 318.1,60.0 318.9,59.5 319.6,59.0 320.4,58.5 321.1,58.1 321.9,57.6 322.6,57.1 323.4,56.6 324.1,56.1 324.9,55.6 325.6,55.1 326.4,54.6 327.1,54.1 327.9,53.6 328.6,53.1 329.4,52.6 330.1,52.1 330.9,51.6 331.6,51.1 332.4,50.6 333.1,50.1 333.9,49.6 334.6,49.1 335.4,48.6 336.1,48.1 336.9,47.6 337.6,47.1 338.4,46.6 339.1,46.1 339.9,45.6 340.6,45.1 341.4,44.6 342.1,44.1 342.9,43.6 343.6,43.1 344.4,42.6 345.1,42.1 345.9,41.5 346.6,41.0 347.4,40.5 348.1,40.0 348.9,39.5 349.6,39.0 350.4,38.5 351.1,38.0 351.9,37.4 352.6,36.9 353.4,36.4 354.1,35.9 354.9,35.4 355.6,34.9 356.4,34.3 357.1,33.8 357.9,33.3 358.6,32.8 359.4,32.2 359.4,49.4 358.6,49.9 357.9,50.3 357.1,50.8 356.4,51.3 355.6,51.7 354.9,52.2 354.1,52.7 353.4,53.1 352.6,53.6 351.9,54.1 351.1,54.5 350.4,55.0 349.6,55.4 348.9,55.9 348.1,56.4 347.4,56.8 346.6,57.3 345.9,57.7 345.1,58.2 344.4,58.6 343.6,59.1 342.9,59.5 342.1,60.0 341.4,60.4 340.6,60.9 339.9,61.3 339.1,61.8 338.4,62.2 337.6,62.7 336.9,63.1 336.1,63.6 335.4,64.0 334.6,64.5 333.9,64.9 333.1,65.4 332.4,65.8 331.6,66.2 330.9,66.7 330.1,67.1 329.4,67.6 328.6,68.0 327.9,68.4 327.1,68.9 326.4,69.3 325.6,69.8 324.9,70.2 324.1,70.6 323.4,71.1 322.6,71.5 321.9,71.9 321.1,72.3 320.4,72.8 319.6,73.2 318.9,73.6 318.1,74.1 317.4,74.5 316.6,74.9 315.9,75.3 315.1,75.8 314.4,76.2 313.6,76.6 312.9,77.0 312.1,77.5 311.4,77.9 310.6,78.3 309.9,78.7 309.1,79.1 308.4,79.6 307.6,80.0 306.9,80.4 306.1,80.8 305.4,81.2 304.6,81.6 303.9,82.0 303.1,82.5 302.4,82.9 301.6,83.3 300.9,83.7 300.1,84.1 299.4,84.5 298.6,84.9 297.9,85.3 297.1,85.7 296.4,86.1 295.6,86.5 294.9,86.9 294.1,87.3 293.4,87.7 292.6,88.1 291.9,88.6 291.1,88.9 290.4,89.3 289.6,89.7 288.9,90.1 288.1,90.5 287.4,90.9 286.6,91.3 285.9,91.7 285.1,92.1 284.4,92.5 283.6,92.9 282.8,93.3 282.1,93.7 281.3,94.1 280.6,94.5 279.8,94.8 279.1,95.2 278.3,95.6 277.6,96.0 276.8,96.4 276.1,96.8 275.3,97.2 274.6,97.5 273.8,97.9 273.1,98.3 272.3,98.7 271.6,99.1 270.8,99.4 270.1,99.8 269.3,100.2 268.6,100.6 267.8,100.9 267.1,101.3 266.3,101.7 265.6,102.0 264.8,102.4 264.1,102.8 263.3,103.2 262.6,103.5 261.8,103.9 261.1,104.2 260.3,104.6 259.6,105.0 258.8,105.3 258.1,105.7 257.3,106.1 256.6,106.4 255.8,106.8 255.1,107.1 254.3,107.5 253.6,107.9 252.8,108.2 252.1,108.6 251.3,108.9 250.6,109.3 249.8,109.6 249.1,110.0 248.3,110.3 247.6,110.7 246.8,111.0 246.1,111.4 245.3,111.7 244.6,112.1 243.8,112.4 243.1,112.7 242.3,113.1 241.6,113.4 240.8,113.8 240.1,114.1 239.3,114.4 238.6,114.8 237.8,115.1 237.1,115.4 236.3,115.8 235.6,116.1 234.8,116.4 234.1,116.8 233.3,117.1 232.6,117.4 231.8,117.7 231.1,118.1 230.3,118.4 229.6,118.7 228.8,119.0 228.1,119.3 227.3,119.6 226.6,120.0 225.8,120.3 225.1,120.6 224.3,120.9 223.6,121.2 222.8,121.5 222.1,121.8 221.3,122.1 220.6,122.4 219.8,122.7 219.1,123.0 218.3,123.3 217.6,123.6 216.8,123.8 216.1,124.1 215.3,124.4 214.6,124.7 213.8,124.9 213.1,125.2 212.3,125.4 211.6,125.7 210.8,125.9 210.1,126.1 209.3,126.1" fill="#cfe7f9"/>
<polygon points="209.3,126.1 210.1,125.2 210.8,124.5 211.6,123.9 212.3,123.3 213.1,122.7 213.8,122.2 214.6,121.7 215.3,121.1 216.1,120.6 216.8,120.1 217.6,119.6 218.3,119.1 219.1,118.6 219.8,118.1 220.6,117.6 221.3,117.1 222.1,116.6 222.8,116.1 223.6,115.6 224.3,115.1 225.1,114.6 225.8,114.2 226.6,113.7 227.3,113.2 228.1,112.7 228.8,112.2 229.6,111.8 230.3,111.3 231.1,110.8 231.8,110.3 232.6,109.8 233.3,109.4 234.1,108.9 234.8,108.4 235.6,107.9 236.3,107.5 237.1,107.0 237.8,106.5 238.6,106.1 239.3,105.6 240.1,105.1 240.8,104.6 241.6,104.2 242.3,103.7 243.1,103.2 243.8,102.7 244.6,102.3 245.3,101.8 246.1,101.3 246.8,100.9 247.6,100.4 248.3,99.9 249.1,99.4 249.8,99.0 250.6,98.5 251.3,98.0 252.1,97.5 252.8,97.1 253.6,96.6 254.3,96.1 255.1,95.6 255.8,95.2 256.6,94.7 257.3,94.2 258.1,93.7 258.8,93.3 259.6,92.8 260.3,92.3 261.1,91.8 261.8,91.4 262.6,90.9 263.3,90.4 264.1,89.9 264.8,89.4 265.6,89.0 266.3,88.5 267.1,88.0 267.8,87.5 268.6,87.1 269.3,86.6 270.1,86.1 270.8,85.6 271.6,85.1 272.3,84.6 273.1,84.2 273.8,83.7 274.6,83.2 275.3,82.7 276.1,82.2 276.8,81.8 277.6,81.3 278.3,80.8 279.1,80.3 279.8,79.8 280.6,79.3 281.3,78.8 282.1,78.3 282.8,77.9 283.6,77.4 284.4,76.9 285.1,76.4 285.9,75.9 286.6,75.4 287.4,74.9 288.1,74.4 288.9,73.9 289.6,73.5 290.4,73.0 291.1,72.5 291.9,72.0 292.6,71.5 293.4,71.0 294.1,70.5 294.9,70.0 295.6,69.5 296.4,69.0 297.1,68.5 297.9,68.0 298.6,67.5 299.4,67.0 300.1,66.5 300.9,66.0 301.6,65.5 302.4,65.0 303.1,64.5 303.9,64.0 304.6,63.5 305.4,63.0 306.1,62.5 306.9,62.0 307.6,61.5 308.4,61.0 309.1,60.5 309.9,60.0 310.6,59.5 311.4,59.0 312.1,58.5 312.9,58.0 313.6,57.5 314.4,56.9 315.1,56.4 315.9,55.9 316.6,55.4 317.4,54.9 318.1,54.4 318.9,53.9 319.6,53.4 320.4,52.9 321.1,52.3 321.9,51.8 322.6,51.3 323.4,50.8 324.1,50.3 324.9,49.8 325.6,49.2 326.4,48.7 327.1,48.2 327.9,47.7 328.6,47.2 329.4,46.7 330.1,46.1 330.9,45.6 331.6,45.1 332.4,44.6 333.1,44.0 333.9,43.5 334.6,43.0 335.4,42.5 336.1,42.0 336.9,41.4 337.6,40.9 338.4,40.4 339.1,39.8 339.9,39.3 340.6,38.8 341.4,38.3 342.1,37.7 342.9,37.2 343.6,36.7 344.4,36.1 345.1,35.6 345.9,35.1 346.6,34.5 347.4,34.0 348.1,33.5 348.9,32.9 349.6,32.4 350.4,31.9 351.1,31.3 351.9,30.8 352.6,30.3 353.4,29.7 354.1,29.2 354.9,28.6 355.6,28.1 356.4,27.6 357.1,27.0 357.9,26.5 358.6,25.9 359.4,25.4 359.4,56.3 358.6,56.7 357.9,57.2 357.1,57.6 356.4,58.0 355.6,58.5 354.9,58.9 354.1,59.4 353.4,59.8 352.6,60.3 351.9,60.7 351.1,61.1 350.4,61.6 349.6,62.0 348.9,62.5 348.1,62.9 347.4,63.3 346.6,63.8 345.9,64.2 345.1,64.6 344.4,65.1 343.6,65.5 342.9,65.9 342.1,66.4 341.4,66.8 340.6,67.2 339.9,67.6 339.1,68.1 338.4,68.5 337.6,68.9 336.9,69.3 336.1,69.8 335.4,70.2 334.6,70.6 333.9,71.0 333.1,71.4 332.4,71.9 331.6,72.3 330.9,72.7 330.1,73.1 329.4,73.5 328.6,74.0 327.9,74.4 327.1,74.8 326.4,75.2 325.6,75.6 324.9,76.0 324.1,76.4 323.4,76.8 322.6,77.2 321.9,77.7 321.1,78.1 320.4,78.5 319.6,78.9 318.9,79.3 318.1,79.7 317.4,80.1 316.6,80.5 315.9,80.9 315.1,81.3 314.4,81.7 313.6,82.1 312.9,82.5 312.1,82.9 311.4,83.3 310.6,83.7 309.9,84.1 309.1,84.5 308.4,84.9 307.6,85.3 306.9,85.6 306.1,86.0 305.4,86.4 304.6,86.8 303.9,87.2 303.1,87.6 302.4,88.0 301.6,88.4 300.9,88.7 300.1,89.1 299.4,89.5 298.6,89.9 297.9,90.3 297.1,90.7 296.4,91.0 295.6,91.4 294.9,91.8 294.1,92.2 293.4,92.5 292.6,92.9 291.9,93.3 291.1,93.7 290.4,94.0 289.6,94.4 288.9,94.8 288.1,95.1 287.4,95.5 286.6,95.9 285.9,96.2 285.1,96.6 284.4,97.0 283.6,97.3 282.8,97.7 282.1,98.1 281.3,98.4 280.6,98.8 279.8,99.1 279.1,99.5 278.3,99.9 277.6,100.2 276.8,100.6 276.1,100.9 275.3,101.3 274.6,101.6 273.8,102.0 273.1,102.3 272.3,102.7 271.6,103.0 270.8,103.4 270.1,103.7 269.3,104.1 268.6,104.4 267.8,104.8 267.1,105.1 266.3,105.4 265.6,105.8 264.8,106.1 264.1,106.5 263.3,106.8 262.6,107.1 261.8,107.5 261.1,107.8 260.3,108.1 259.6,108.5 258.8,108.8 258.1,109.1 257.3,109.4 256.6,109.8 255.8,110.1 255.1,110.4 254.3,110.8 253.6,111.1 252.8,111.4 252.1,111.7 251.3,112.0 250.6,112.4 249.8,112.7 249.1,113.0 248.3,113.3 247.6,113.6 246.8,113.9 246.1,114.2 245.3,114.5 244.6,114.8 243.8,115.2 243.1,115.5 242.3,115.8 241.6,116.1 240.8,116.4 240.1,116.7 239.3,117.0 238.6,117.3 237.8,117.6 237.1,117.8 236.3,118.1 235.6,118.4 234.8,118.7 234.1,119.0 233.3,119.3 232.6,119.6 231.8,119.8 231.1,120.1 230.3,120.4 229.6,120.7 228.8,120.9 228.1,121.2 227.3,121.5 226.6,121.8 225.8,122.0 225.1,122.3 224.3,122.5 223.6,122.8 222.8,123.0 222.1,123.3 221.3,123.5 220.6,123.8 219.8,124.0 219.1,124.2 218.3,124.5 217.6,124.7 216.8,124.9 216.1,125.1 215.3,125.3 214.6,125.5 213.8,125.7 213.1,125.9 212.3,126.0 211.6,126.2 210.8,126.3 210.1,126.3 209.3,126.1" fill="url(#dotblue)" opacity="0.35"/>
<polyline points="209.3,126.1 211.2,124.3 213.1,122.9 214.9,121.6 216.8,120.4 218.7,119.1 220.6,117.9 222.4,116.7 224.3,115.5 226.2,114.4 228.1,113.2 229.9,112.0 231.8,110.9 233.7,109.7 235.6,108.5 237.4,107.4 239.3,106.2 241.2,105.1 243.1,103.9 244.9,102.7 246.8,101.6 248.7,100.4 250.6,99.3 252.5,98.1 254.3,96.9 256.2,95.8 258.1,94.6 260.0,93.4 261.8,92.3 263.7,91.1 265.6,89.9 267.5,88.7 269.3,87.6 271.2,86.4 273.1,85.2 275.0,84.0 276.8,82.8 278.7,81.6 280.6,80.4 282.5,79.2 284.4,78.0 286.2,76.8 288.1,75.6 290.0,74.4 291.9,73.2 293.7,72.0 295.6,70.7 297.5,69.5 299.4,68.3 301.2,67.1 303.1,65.8 305.0,64.6 306.9,63.3 308.7,62.1 310.6,60.8 312.5,59.6 314.4,58.3 316.2,57.1 318.1,55.8 320.0,54.6 321.9,53.3 323.8,52.0 325.6,50.7 327.5,49.5 329.4,48.2 331.3,46.9 333.1,45.6 335.0,44.3 336.9,43.0 338.8,41.7 340.6,40.4 342.5,39.1 344.4,37.8 346.3,36.5 348.1,35.1 350.0,33.8 351.9,32.5 353.8,31.1 355.6,29.8 357.5,28.5 359.4,27.1" fill="none" stroke="#a8d6f4" stroke-width="0.5" stroke-dasharray="0.6 1.2"/>
<polyline points="209.3,126.1 211.2,124.5 213.1,123.2 214.9,122.0 216.8,120.8 218.7,119.6 220.6,118.5 222.4,117.4 224.3,116.2 226.2,115.1 228.1,114.0 229.9,112.9 231.8,111.7 233.7,110.6 235.6,109.5 237.4,108.4 239.3,107.3 241.2,106.2 243.1,105.0 244.9,103.9 246.8,102.8 248.7,101.7 250.6,100.5 252.5,99.4 254.3,98.3 256.2,97.2 258.1,96.0 260.0,94.9 261.8,93.8 263.7,92.6 265.6,91.5 267.5,90.3 269.3,89.2 271.2,88.0 273.1,86.9 275.0,85.7 276.8,84.5 278.7,83.4 280.6,82.2 282.5,81.0 284.4,79.9 286.2,78.7 288.1,77.5 290.0,76.3 291.9,75.1 293.7,74.0 295.6,72.8 297.5,71.6 299.4,70.4 301.2,69.2 303.1,67.9 305.0,66.7 306.9,65.5 308.7,64.3 310.6,63.1 312.5,61.9 314.4,60.6 316.2,59.4 318.1,58.2 320.0,56.9 321.9,55.7 323.8,54.4 325.6,53.2 327.5,51.9 329.4,50.7 331.3,49.4 333.1,48.1 335.0,46.9 336.9,45.6 338.8,44.3 340.6,43.0 342.5,41.7 344.4,40.4 346.3,39.1 348.1,37.8 350.0,36.5 351.9,35.2 353.8,33.9 355.6,32.6 357.5,31.3 359.4,30.0" fill="none" stroke="#a8d6f4" stroke-width="0.5" stroke-dasharray="0.6 1.2"/>
<polyline points="209.3,126.1 211.2,126.1 213.1,125.7 214.9,125.1 216.8,124.6 218.7,124.0 220.6,123.3 222.4,122.7 224.3,122.0 226.2,121.3 228.1,120.6 229.9,119.9 231.8,119.2 233.7,118.4 235.6,117.7 237.4,116.9 239.3,116.1 241.2,115.4 243.1,114.6 244.9,113.8 246.8,113.0 248.7,112.2 250.6,111.4 252.5,110.5 254.3,109.7 256.2,108.9 258.1,108.0 260.0,107.2 261.8,106.3 263.7,105.4 265.6,104.6 267.5,103.7 269.3,102.8 271.2,101.9 273.1,101.0 275.0,100.1 276.8,99.2 278.7,98.3 280.6,97.4 282.5,96.5 284.4,95.5 286.2,94.6 288.1,93.6 290.0,92.7 291.9,91.7 293.7,90.8 295.6,89.8 297.5,88.9 299.4,87.9 301.2,86.9 303.1,85.9 305.0,84.9 306.9,83.9 308.7,82.9 310.6,81.9 312.5,80.9 314.4,79.9 316.2,78.9 318.1,77.9 320.0,76.8 321.9,75.8 323.8,74.8 325.6,73.7 327.5,72.7 329.4,71.6 331.3,70.5 333.1,69.5 335.0,68.4 336.9,67.3 338.8,66.2 340.6,65.2 342.5,64.1 344.4,63.0 346.3,61.9 348.1,60.8 350.0,59.7 351.9,58.5 353.8,57.4 355.6,56.3 357.5,55.2 359.4,54.0" fill="none" stroke="#a8d6f4" stroke-width="0.5" stroke-dasharray="0.6 1.2"/>
<polyline points="209.3,126.1 211.2,125.6 213.1,125.0 214.9,124.3 216.8,123.5 218.7,122.7 220.6,122.0 222.4,121.2 224.3,120.4 226.2,119.6 228.1,118.7 229.9,117.9 231.8,117.1 233.7,116.2 235.6,115.4 237.4,114.5 239.3,113.6 241.2,112.8 243.1,111.9 244.9,111.0 246.8,110.1 248.7,109.2 250.6,108.3 252.5,107.4 254.3,106.5 256.2,105.6 258.1,104.6 260.0,103.7 261.8,102.8 263.7,101.8 265.6,100.9 267.5,99.9 269.3,99.0 271.2,98.0 273.1,97.0 275.0,96.1 276.8,95.1 278.7,94.1 280.6,93.1 282.5,92.1 284.4,91.1 286.2,90.1 288.1,89.1 290.0,88.1 291.9,87.1 293.7,86.1 295.6,85.0 297.5,84.0 299.4,83.0 301.2,81.9 303.1,80.9 305.0,79.8 306.9,78.8 308.7,77.7 310.6,76.6 312.5,75.6 314.4,74.5 316.2,73.4 318.1,72.3 320.0,71.2 321.9,70.1 323.8,69.0 325.6,67.9 327.5,66.8 329.4,65.7 331.3,64.6 333.1,63.5 335.0,62.3 336.9,61.2 338.8,60.1 340.6,58.9 342.5,57.8 344.4,56.6 346.3,55.5 348.1,54.3 350.0,53.2 351.9,52.0 353.8,50.8 355.6,49.6 357.5,48.5 359.4,47.3" fill="none" stroke="#a8d6f4" stroke-width="0.5" stroke-dasharray="0.6 1.2"/>
<polyline points="209.3,126.1 211.2,126.1 213.1,125.6 214.9,125.1 216.8,124.5 218.7,123.9 220.6,123.2 222.4,122.6 224.3,121.9 226.2,121.2 228.1,120.5 229.9,119.8 231.8,119.0 233.7,118.3 235.6,117.5 237.4,116.7 239.3,116.0 241.2,115.2 243.1,114.4 244.9,113.6 246.8,112.8 248.7,112.0 250.6,111.1 252.5,110.3 254.3,109.5 256.2,108.6 258.1,107.8 260.0,106.9 261.8,106.1 263.7,105.2 265.6,104.3 267.5,103.4 269.3,102.5 271.2,101.7 273.1,100.8 275.0,99.8 276.8,98.9 278.7,98.0 280.6,97.1 282.5,96.2 284.4,95.2 286.2,94.3 288.1,93.3 290.0,92.4 291.9,91.4 293.7,90.5 295.6,89.5 297.5,88.5 299.4,87.6 301.2,86.6 303.1,85.6 305.0,84.6 306.9,83.6 308.7,82.6 310.6,81.6 312.5,80.6 314.4,79.5 316.2,78.5 318.1,77.5 320.0,76.5 321.9,75.4 323.8,74.4 325.6,73.3 327.5,72.3 329.4,71.2 331.3,70.1 333.1,69.1 335.0,68.0 336.9,66.9 338.8,65.8 340.6,64.7 342.5,63.6 344.4,62.6 346.3,61.4 348.1,60.3 350.0,59.2 351.9,58.1 353.8,57.0 355.6,55.9 357.5,54.7 359.4,53.6" fill="none" stroke="#a8d6f4" stroke-width="0.5" stroke-dasharray="0.6 1.2"/>
<polyline points="209.3,126.1 211.2,125.5 213.1,124.8 214.9,124.0 216.8,123.2 218.7,122.4 220.6,121.6 222.4,120.8 224.3,119.9 226.2,119.1 228.1,118.2 229.9,117.4 231.8,116.5 233.7,115.6 235.6,114.8 237.4,113.9 239.3,113.0 241.2,112.1 243.1,111.2 244.9,110.3 246.8,109.3 248.7,108.4 250.6,107.5 252.5,106.6 254.3,105.6 256.2,104.7 258.1,103.7 260.0,102.8 261.8,101.8 263.7,100.9 265.6,99.9 267.5,98.9 269.3,97.9 271.2,97.0 273.1,96.0 275.0,95.0 276.8,94.0 278.7,93.0 280.6,92.0 282.5,91.0 284.4,89.9 286.2,88.9 288.1,87.9 290.0,86.9 291.9,85.8 293.7,84.8 295.6,83.7 297.5,82.7 299.4,81.6 301.2,80.6 303.1,79.5 305.0,78.4 306.9,77.4 308.7,76.3 310.6,75.2 312.5,74.1 314.4,73.0 316.2,71.9 318.1,70.8 320.0,69.7 321.9,68.6 323.8,67.5 325.6,66.4 327.5,65.3 329.4,64.1 331.3,63.0 333.1,61.9 335.0,60.7 336.9,59.6 338.8,58.4 340.6,57.3 342.5,56.1 344.4,54.9 346.3,53.8 348.1,52.6 350.0,51.4 351.9,50.2 353.8,49.0 355.6,47.9 357.5,46.7 359.4,45.5" fill="none" stroke="#a8d6f4" stroke-width="0.5" stroke-dasharray="0.6 1.2"/>
<polyline points="209.3,126.1 211.2,125.7 213.1,125.0 214.9,124.3 216.8,123.6 218.7,122.8 220.6,122.0 222.4,121.3 224.3,120.5 226.2,119.7 228.1,118.8 229.9,118.0 231.8,117.2 233.7,116.3 235.6,115.5 237.4,114.6 239.3,113.8 241.2,112.9 243.1,112.0 244.9,111.2 246.8,110.3 248.7,109.4 250.6,108.5 252.5,107.6 254.3,106.7 256.2,105.7 258.1,104.8 260.0,103.9 261.8,103.0 263.7,102.0 265.6,101.1 267.5,100.1 269.3,99.2 271.2,98.2 273.1,97.2 275.0,96.3 276.8,95.3 278.7,94.3 280.6,93.3 282.5,92.4 284.4,91.4 286.2,90.4 288.1,89.4 290.0,88.3 291.9,87.3 293.7,86.3 295.6,85.3 297.5,84.3 299.4,83.2 301.2,82.2 303.1,81.1 305.0,80.1 306.9,79.0 308.7,78.0 310.6,76.9 312.5,75.8 314.4,74.8 316.2,73.7 318.1,72.6 320.0,71.5 321.9,70.4 323.8,69.3 325.6,68.2 327.5,67.1 329.4,66.0 331.3,64.9 333.1,63.8 335.0,62.7 336.9,61.5 338.8,60.4 340.6,59.3 342.5,58.1 344.4,57.0 346.3,55.8 348.1,54.7 350.0,53.5 351.9,52.3 353.8,51.2 355.6,50.0 357.5,48.8 359.4,47.6" fill="none" stroke="#a8d6f4" stroke-width="0.5" stroke-dasharray="0.6 1.2"/>
<polyline points="209.3,126.1 211.2,126.1 213.1,125.7 214.9,125.2 216.8,124.7 218.7,124.1 220.6,123.5 222.4,122.9 224.3,122.2 226.2,121.5 228.1,120.8 229.9,120.1 231.8,119.4 233.7,118.7 235.6,117.9 237.4,117.2 239.3,116.4 241.2,115.7 243.1,114.9 244.9,114.1 246.8,113.3 248.7,112.5 250.6,111.7 252.5,110.9 254.3,110.1 256.2,109.3 258.1,108.4 260.0,107.6 261.8,106.7 263.7,105.9 265.6,105.0 267.5,104.1 269.3,103.3 271.2,102.4 273.1,101.5 275.0,100.6 276.8,99.7 278.7,98.8 280.6,97.9 282.5,97.0 284.4,96.1 286.2,95.1 288.1,94.2 290.0,93.3 291.9,92.3 293.7,91.4 295.6,90.4 297.5,89.4 299.4,88.5 301.2,87.5 303.1,86.5 305.0,85.5 306.9,84.6 308.7,83.6 310.6,82.6 312.5,81.6 314.4,80.6 316.2,79.5 318.1,78.5 320.0,77.5 321.9,76.5 323.8,75.4 325.6,74.4 327.5,73.4 329.4,72.3 331.3,71.3 333.1,70.2 335.0,69.1 336.9,68.1 338.8,67.0 340.6,65.9 342.5,64.8 344.4,63.7 346.3,62.6 348.1,61.5 350.0,60.4 351.9,59.3 353.8,58.2 355.6,57.1 357.5,56.0 359.4,54.8" fill="none" stroke="#a8d6f4" stroke-width="0.5" stroke-dasharray="0.6 1.2"/>
<polyline points="209.3,126.1 211.2,125.6 213.1,125.0 214.9,124.3 216.8,123.5 218.7,122.8 220.6,122.0 222.4,121.2 224.3,120.4 226.2,119.6 228.1,118.7 229.9,117.9 231.8,117.1 233.7,116.2 235.6,115.4 237.4,114.5 239.3,113.7 241.2,112.8 243.1,111.9 244.9,111.0 246.8,110.1 248.7,109.2 250.6,108.3 252.5,107.4 254.3,106.5 256.2,105.6 258.1,104.7 260.0,103.7 261.8,102.8 263.7,101.8 265.6,100.9 267.5,99.9 269.3,99.0 271.2,98.0 273.1,97.1 275.0,96.1 276.8,95.1 278.7,94.1 280.6,93.1 282.5,92.1 284.4,91.1 286.2,90.1 288.1,89.1 290.0,88.1 291.9,87.1 293.7,86.1 295.6,85.0 297.5,84.0 299.4,83.0 301.2,81.9 303.1,80.9 305.0,79.8 306.9,78.8 308.7,77.7 310.6,76.6 312.5,75.6 314.4,74.5 316.2,73.4 318.1,72.3 320.0,71.2 321.9,70.2 323.8,69.1 325.6,68.0 327.5,66.8 329.4,65.7 331.3,64.6 333.1,63.5 335.0,62.4 336.9,61.2 338.8,60.1 340.6,59.0 342.5,57.8 344.4,56.7 346.3,55.5 348.1,54.3 350.0,53.2 351.9,52.0 353.8,50.8 355.6,49.7 357.5,48.5 359.4,47.3" fill="none" stroke="#a8d6f4" stroke-width="0.5" stroke-dasharray="0.6 1.2"/>
<polyline points="209.3,126.1 211.2,125.4 213.1,124.6 214.9,123.8 216.8,123.0 218.7,122.2 220.6,121.3 222.4,120.5 224.3,119.6 226.2,118.7 228.1,117.9 229.9,117.0 231.8,116.1 233.7,115.2 235.6,114.3 237.4,113.4 239.3,112.5 241.2,111.6 243.1,110.6 244.9,109.7 246.8,108.8 248.7,107.8 250.6,106.9 252.5,105.9 254.3,105.0 256.2,104.0 258.1,103.1 260.0,102.1 261.8,101.1 263.7,100.1 265.6,99.2 267.5,98.2 269.3,97.2 271.2,96.2 273.1,95.2 275.0,94.2 276.8,93.2 278.7,92.1 280.6,91.1 282.5,90.1 284.4,89.1 286.2,88.0 288.1,87.0 290.0,85.9 291.9,84.9 293.7,83.8 295.6,82.8 297.5,81.7 299.4,80.6 301.2,79.6 303.1,78.5 305.0,77.4 306.9,76.3 308.7,75.2 310.6,74.1 312.5,73.0 314.4,71.9 316.2,70.8 318.1,69.7 320.0,68.6 321.9,67.5 323.8,66.3 325.6,65.2 327.5,64.1 329.4,62.9 331.3,61.8 333.1,60.6 335.0,59.5 336.9,58.3 338.8,57.2 340.6,56.0 342.5,54.8 344.4,53.7 346.3,52.5 348.1,51.3 350.0,50.1 351.9,48.9 353.8,47.7 355.6,46.5 357.5,45.3 359.4,44.1" fill="none" stroke="#a8d6f4" stroke-width="0.5" stroke-dasharray="0.6 1.2"/>
<polyline points="209.3,126.1 211.2,125.9 213.1,125.4 214.9,124.8 216.8,124.2 218.7,123.5 220.6,122.8 222.4,122.1 224.3,121.4 226.2,120.6 228.1,119.9 229.9,119.1 231.8,118.4 233.7,117.6 235.6,116.8 237.4,116.0 239.3,115.2 241.2,114.4 243.1,113.6 244.9,112.7 246.8,111.9 248.7,111.1 250.6,110.2 252.5,109.3 254.3,108.5 256.2,107.6 258.1,106.7 260.0,105.9 261.8,105.0 263.7,104.1 265.6,103.2 267.5,102.3 269.3,101.4 271.2,100.4 273.1,99.5 275.0,98.6 276.8,97.7 278.7,96.7 280.6,95.8 282.5,94.8 284.4,93.9 286.2,92.9 288.1,91.9 290.0,91.0 291.9,90.0 293.7,89.0 295.6,88.0 297.5,87.0 299.4,86.0 301.2,85.0 303.1,84.0 305.0,83.0 306.9,82.0 308.7,81.0 310.6,79.9 312.5,78.9 314.4,77.9 316.2,76.8 318.1,75.8 320.0,74.7 321.9,73.7 323.8,72.6 325.6,71.5 327.5,70.5 329.4,69.4 331.3,68.3 333.1,67.2 335.0,66.1 336.9,65.0 338.8,63.9 340.6,62.8 342.5,61.7 344.4,60.6 346.3,59.5 348.1,58.3 350.0,57.2 351.9,56.1 353.8,54.9 355.6,53.8 357.5,52.6 359.4,51.5" fill="none" stroke="#a8d6f4" stroke-width="0.5" stroke-dasharray="0.6 1.2"/>
<polyline points="209.3,126.1 211.2,126.2 213.1,125.8 214.9,125.3 216.8,124.8 218.7,124.2 220.6,123.6 222.4,123.0 224.3,122.4 226.2,121.7 228.1,121.0 229.9,120.3 231.8,119.6 233.7,118.9 235.6,118.2 237.4,117.4 239.3,116.7 241.2,115.9 243.1,115.2 244.9,114.4 246.8,113.6 248.7,112.8 250.6,112.0 252.5,111.2 254.3,110.4 256.2,109.6 258.1,108.8 260.0,107.9 261.8,107.1 263.7,106.2 265.6,105.4 267.5,104.5 269.3,103.7 271.2,102.8 273.1,101.9 275.0,101.0 276.8,100.1 278.7,99.2 280.6,98.3 282.5,97.4 284.4,96.5 286.2,95.6 288.1,94.7 290.0,93.7 291.9,92.8 293.7,91.8 295.6,90.9 297.5,89.9 299.4,89.0 301.2,88.0 303.1,87.0 305.0,86.1 306.9,85.1 308.7,84.1 310.6,83.1 312.5,82.1 314.4,81.1 316.2,80.1 318.1,79.1 320.0,78.1 321.9,77.0 323.8,76.0 325.6,75.0 327.5,74.0 329.4,72.9 331.3,71.9 333.1,70.8 335.0,69.7 336.9,68.7 338.8,67.6 340.6,66.5 342.5,65.5 344.4,64.4 346.3,63.3 348.1,62.2 350.0,61.1 351.9,60.0 353.8,58.9 355.6,57.8 357.5,56.7 359.4,55.5" fill="none" stroke="#a8d6f4" stroke-width="0.5" stroke-dasharray="0.6 1.2"/>
<polygon points="209.3,126.1 210.1,125.6 210.8,125.2 211.6,124.7 212.3,124.3 213.1,123.9 213.8,123.5 214.6,123.0 215.3,122.6 216.1,122.2 216.8,121.8 217.6,121.3 218.3,120.9 219.1,120.5 219.8,120.1 220.6,119.7 221.3,119.2 222.1,118.8 222.8,118.4 223.6,118.0 224.3,117.6 225.1,117.1 225.8,116.7 226.6,116.3 227.3,115.9 228.1,115.5 228.8,115.0 229.6,114.6 230.3,114.2 231.1,113.8 231.8,113.4 232.6,112.9 233.3,112.5 234.1,112.1 234.8,111.7 235.6,111.2 236.3,110.8 237.1,110.4 237.8,110.0 238.6,109.5 239.3,109.1 240.1,108.7 240.8,108.3 241.6,107.8 242.3,107.4 243.1,107.0 243.8,106.5 244.6,106.1 245.3,105.7 246.1,105.3 246.8,104.8 247.6,104.4 248.3,104.0 249.1,103.5 249.8,103.1 250.6,102.7 251.3,102.2 252.1,101.8 252.8,101.4 253.6,100.9 254.3,100.5 255.1,100.0 255.8,99.6 256.6,99.2 257.3,98.7 258.1,98.3 258.8,97.9 259.6,97.4 260.3,97.0 261.1,96.5 261.8,96.1 262.6,95.6 263.3,95.2 264.1,94.8 264.8,94.3 265.6,93.9 266.3,93.4 267.1,93.0 267.8,92.5 268.6,92.1 269.3,91.6 270.1,91.2 270.8,90.7 271.6,90.3 272.3,89.8 273.1,89.4 273.8,88.9 274.6,88.5 275.3,88.0 276.1,87.6 276.8,87.1 277.6,86.7 278.3,86.2 279.1,85.8 279.8,85.3 280.6,84.8 281.3,84.4 282.1,83.9 282.8,83.5 283.6,83.0 284.4,82.6 285.1,82.1 285.9,81.6 286.6,81.2 287.4,80.7 288.1,80.2 288.9,79.8 289.6,79.3 290.4,78.9 291.1,78.4 291.9,77.9 292.6,77.5 293.4,77.0 294.1,76.5 294.9,76.1 295.6,75.6 296.4,75.1 297.1,74.6 297.9,74.2 298.6,73.7 299.4,73.2 300.1,72.8 300.9,72.3 301.6,71.8 302.4,71.3 303.1,70.9 303.9,70.4 304.6,69.9 305.4,69.4 306.1,69.0 306.9,68.5 307.6,68.0 308.4,67.5 309.1,67.0 309.9,66.6 310.6,66.1 311.4,65.6 312.1,65.1 312.9,64.6 313.6,64.1 314.4,63.7 315.1,63.2 315.9,62.7 316.6,62.2 317.4,61.7 318.1,61.2 318.9,60.7 319.6,60.2 320.4,59.7 321.1,59.3 321.9,58.8 322.6,58.3 323.4,57.8 324.1,57.3 324.9,56.8 325.6,56.3 326.4,55.8 327.1,55.3 327.9,54.8 328.6,54.3 329.4,53.8 330.1,53.3 330.9,52.8 331.6,52.3 332.4,51.8 333.1,51.3 333.9,50.8 334.6,50.3 335.4,49.8 336.1,49.3 336.9,48.8 337.6,48.3 338.4,47.8 339.1,47.3 339.9,46.8 340.6,46.3 341.4,45.8 342.1,45.3 342.9,44.7 343.6,44.2 344.4,43.7 345.1,43.2 345.9,42.7 346.6,42.2 347.4,41.7 348.1,41.2 348.9,40.6 349.6,40.1 350.4,39.6 351.1,39.1 351.9,38.6 352.6,38.1 353.4,37.5 354.1,37.0 354.9,36.5 355.6,36.0 356.4,35.5 357.1,34.9 357.9,34.4 358.6,33.9 359.4,33.4 359.4,48.3 358.6,48.7 357.9,49.2 357.1,49.7 356.4,50.1 355.6,50.6 354.9,51.1 354.1,51.5 353.4,52.0 352.6,52.5 351.9,52.9 351.1,53.4 350.4,53.8 349.6,54.3 348.9,54.7 348.1,55.2 347.4,55.7 346.6,56.1 345.9,56.6 345.1,57.0 344.4,57.5 343.6,57.9 342.9,58.4 342.1,58.8 341.4,59.3 340.6,59.7 339.9,60.2 339.1,60.6 338.4,61.1 337.6,61.5 336.9,62.0 336.1,62.4 335.4,62.9 334.6,63.3 333.9,63.7 333.1,64.2 332.4,64.6 331.6,65.1 330.9,65.5 330.1,65.9 329.4,66.4 328.6,66.8 327.9,67.3 327.1,67.7 326.4,68.1 325.6,68.6 324.9,69.0 324.1,69.4 323.4,69.9 322.6,70.3 321.9,70.7 321.1,71.1 320.4,71.6 319.6,72.0 318.9,72.4 318.1,72.9 317.4,73.3 316.6,73.7 315.9,74.1 315.1,74.6 314.4,75.0 313.6,75.4 312.9,75.8 312.1,76.2 311.4,76.7 310.6,77.1 309.9,77.5 309.1,77.9 308.4,78.3 307.6,78.8 306.9,79.2 306.1,79.6 305.4,80.0 304.6,80.4 303.9,80.8 303.1,81.2 302.4,81.7 301.6,82.1 300.9,82.5 300.1,82.9 299.4,83.3 298.6,83.7 297.9,84.1 297.1,84.5 296.4,84.9 295.6,85.3 294.9,85.7 294.1,86.1 293.4,86.5 292.6,86.9 291.9,87.3 291.1,87.7 290.4,88.1 289.6,88.5 288.9,88.9 288.1,89.3 287.4,89.7 286.6,90.1 285.9,90.5 285.1,90.9 284.4,91.3 283.6,91.7 282.8,92.1 282.1,92.5 281.3,92.9 280.6,93.3 279.8,93.6 279.1,94.0 278.3,94.4 277.6,94.8 276.8,95.2 276.1,95.6 275.3,96.0 274.6,96.3 273.8,96.7 273.1,97.1 272.3,97.5 271.6,97.9 270.8,98.2 270.1,98.6 269.3,99.0 268.6,99.4 267.8,99.8 267.1,100.1 266.3,100.5 265.6,100.9 264.8,101.3 264.1,101.6 263.3,102.0 262.6,102.4 261.8,102.7 261.1,103.1 260.3,103.5 259.6,103.8 258.8,104.2 258.1,104.6 257.3,104.9 256.6,105.3 255.8,105.7 255.1,106.0 254.3,106.4 253.6,106.7 252.8,107.1 252.1,107.5 251.3,107.8 250.6,108.2 249.8,108.5 249.1,108.9 248.3,109.2 247.6,109.6 246.8,110.0 246.1,110.3 245.3,110.7 244.6,111.0 243.8,111.4 243.1,111.7 242.3,112.0 241.6,112.4 240.8,112.7 240.1,113.1 239.3,113.4 238.6,113.8 237.8,114.1 237.1,114.5 236.3,114.8 235.6,115.1 234.8,115.5 234.1,115.8 233.3,116.1 232.6,116.5 231.8,116.8 231.1,117.1 230.3,117.5 229.6,117.8 228.8,118.1 228.1,118.5 227.3,118.8 226.6,119.1 225.8,119.4 225.1,119.8 224.3,120.1 223.6,120.4 222.8,120.7 222.1,121.1 221.3,121.4 220.6,121.7 219.8,122.0 219.1,122.3 218.3,122.6 217.6,122.9 216.8,123.2 216.1,123.6 215.3,123.9 214.6,124.2 213.8,124.5 213.1,124.8 212.3,125.0 211.6,125.3 210.8,125.6 210.1,125.9 209.3,126.1" fill="#8e9df4"/>
<polyline points="209.3,126.1 210.1,125.8 210.8,125.4 211.6,125.0 212.3,124.7 213.1,124.3 213.8,124.0 214.6,123.6 215.3,123.2 216.1,122.9 216.8,122.5 217.6,122.1 218.3,121.8 219.1,121.4 219.8,121.0 220.6,120.7 221.3,120.3 222.1,119.9 222.8,119.6 223.6,119.2 224.3,118.8 225.1,118.5 225.8,118.1 226.6,117.7 227.3,117.3 228.1,117.0 228.8,116.6 229.6,116.2 230.3,115.8 231.1,115.5 231.8,115.1 232.6,114.7 233.3,114.3 234.1,113.9 234.8,113.6 235.6,113.2 236.3,112.8 237.1,112.4 237.8,112.0 238.6,111.7 239.3,111.3 240.1,110.9 240.8,110.5 241.6,110.1 242.3,109.7 243.1,109.3 243.8,108.9 244.6,108.6 245.3,108.2 246.1,107.8 246.8,107.4 247.6,107.0 248.3,106.6 249.1,106.2 249.8,105.8 250.6,105.4 251.3,105.0 252.1,104.6 252.8,104.2 253.6,103.8 254.3,103.4 255.1,103.0 255.8,102.6 256.6,102.2 257.3,101.8 258.1,101.4 258.8,101.0 259.6,100.6 260.3,100.2 261.1,99.8 261.8,99.4 262.6,99.0 263.3,98.6 264.1,98.2 264.8,97.8 265.6,97.4 266.3,97.0 267.1,96.6 267.8,96.1 268.6,95.7 269.3,95.3 270.1,94.9 270.8,94.5 271.6,94.1 272.3,93.7 273.1,93.2 273.8,92.8 274.6,92.4 275.3,92.0 276.1,91.6 276.8,91.2 277.6,90.7 278.3,90.3 279.1,89.9 279.8,89.5 280.6,89.1 281.3,88.6 282.1,88.2 282.8,87.8 283.6,87.4 284.4,86.9 285.1,86.5 285.9,86.1 286.6,85.6 287.4,85.2 288.1,84.8 288.9,84.4 289.6,83.9 290.4,83.5 291.1,83.1 291.9,82.6 292.6,82.2 293.4,81.8 294.1,81.3 294.9,80.9 295.6,80.5 296.4,80.0 297.1,79.6 297.9,79.1 298.6,78.7 299.4,78.3 300.1,77.8 300.9,77.4 301.6,76.9 302.4,76.5 303.1,76.1 303.9,75.6 304.6,75.2 305.4,74.7 306.1,74.3 306.9,73.8 307.6,73.4 308.4,72.9 309.1,72.5 309.9,72.0 310.6,71.6 311.4,71.1 312.1,70.7 312.9,70.2 313.6,69.8 314.4,69.3 315.1,68.9 315.9,68.4 316.6,68.0 317.4,67.5 318.1,67.0 318.9,66.6 319.6,66.1 320.4,65.7 321.1,65.2 321.9,64.7 322.6,64.3 323.4,63.8 324.1,63.4 324.9,62.9 325.6,62.4 326.4,62.0 327.1,61.5 327.9,61.0 328.6,60.6 329.4,60.1 330.1,59.6 330.9,59.2 331.6,58.7 332.4,58.2 333.1,57.7 333.9,57.3 334.6,56.8 335.4,56.3 336.1,55.9 336.9,55.4 337.6,54.9 338.4,54.4 339.1,54.0 339.9,53.5 340.6,53.0 341.4,52.5 342.1,52.0 342.9,51.6 343.6,51.1 344.4,50.6 345.1,50.1 345.9,49.6 346.6,49.2 347.4,48.7 348.1,48.2 348.9,47.7 349.6,47.2 350.4,46.7 351.1,46.2 351.9,45.7 352.6,45.3 353.4,44.8 354.1,44.3 354.9,43.8 355.6,43.3 356.4,42.8 357.1,42.3 357.9,41.8 358.6,41.3 359.4,40.8" fill="none" stroke="#1414d2" stroke-width="1.5" stroke-linejoin="round"/>
<rect x="209.3" y="16.1" width="150.10" height="116.00" fill="none" stroke="#bdbdbd" stroke-width="1"/>
<path d="M209.30,132.1v-1.4M209.30,16.1v1.4M246.82,132.1v-1.4M246.82,16.1v1.4M284.35,132.1v-1.4M284.35,16.1v1.4M321.88,132.1v-1.4M321.88,16.1v1.4M359.40,132.1v-1.4M359.40,16.1v1.4M209.3,132.10h1.4M359.4,132.10h-1.4M209.3,115.53h1.4M359.4,115.53h-1.4M209.3,98.96h1.4M359.4,98.96h-1.4M209.3,82.39h1.4M359.4,82.39h-1.4M209.3,65.81h1.4M359.4,65.81h-1.4M209.3,49.24h1.4M359.4,49.24h-1.4M209.3,32.67h1.4M359.4,32.67h-1.4M209.3,16.10h1.4M359.4,16.10h-1.4" stroke="#555" stroke-width="0.6" fill="none"/>
<text x="206.70" y="134.30" text-anchor="end" class="tk">0.22</text>
<text x="206.70" y="117.73" text-anchor="end" class="tk">0.24</text>
<text x="206.70" y="101.16" text-anchor="end" class="tk">0.26</text>
<text x="206.70" y="84.59" text-anchor="end" class="tk">0.28</text>
<text x="206.70" y="68.01" text-anchor="end" class="tk">0.3</text>
<text x="206.70" y="51.44" text-anchor="end" class="tk">0.32</text>
<text x="206.70" y="34.87" text-anchor="end" class="tk">0.34</text>
<text x="206.70" y="18.30" text-anchor="end" class="tk">0.36</text>
<text x="209.30" y="140.30" text-anchor="middle" class="tk">0</text>
<text x="246.82" y="140.30" text-anchor="middle" class="tk">100</text>
<text x="284.35" y="140.30" text-anchor="middle" class="tk">200</text>
<text x="321.88" y="140.30" text-anchor="middle" class="tk">300</text>
<text x="359.40" y="140.30" text-anchor="middle" class="tk">400</text>
<text x="284.35" y="149.50" text-anchor="middle" class="xl">Iteration Number</text>
<text transform="translate(193.10,74.10) rotate(-90)" text-anchor="middle" class="yl">ME</text>
<text x="284.35" y="11.70" text-anchor="middle" class="ti" textLength="70.0" lengthAdjust="spacingAndGlyphs">SPGD: Δ<tspan font-style="italic">u</tspan>=0.1</text>
<rect x="278.1" y="112.6" width="76.40" height="15.70" fill="#fff" stroke="#a8a8a8" stroke-width="0.8"/>
<path d="M279.30,117.78h14" stroke="#cde6f8" stroke-width="0.8" stroke-dasharray="0.8 1.4"/>
<path d="M278.50,124.69h15.2" stroke="#3c44ee" stroke-width="2.0"/>
<text x="294.70" y="119.68" class="lg">100 simulations (SPGD)</text>
<text x="294.70" y="126.99" class="lg">Mean and std (SPGD)</text>
<text x="284.35" y="161.80" text-anchor="middle" class="sc">(b)</text>
<rect x="391.7" y="16.1" width="150.00" height="116.00" fill="#fff"/>
<path d="M429.20,16.1V132.1M466.70,16.1V132.1M504.20,16.1V132.1M391.7,117.60H541.7M391.7,103.10H541.7M391.7,88.60H541.7M391.7,74.10H541.7M391.7,59.60H541.7M391.7,45.10H541.7M391.7,30.60H541.7" stroke="#eeeeee" stroke-width="0.7" fill="none"/>
<polygon points="397.1,130.8 398.1,128.9 399.0,126.8 399.9,124.7 400.7,122.5 401.6,120.3 402.4,118.0 403.3,115.7 404.1,113.5 404.9,111.2 405.7,109.0 406.6,106.9 407.4,104.9 408.2,102.9 409.0,101.0 409.8,99.2 410.6,97.5 411.4,95.9 412.1,94.4 412.9,92.9 413.6,91.6 414.3,90.3 414.9,89.1 415.5,88.0 416.1,87.0 416.7,86.0 417.3,85.1 417.9,84.2 418.5,83.4 419.1,82.6 419.7,81.9 420.3,81.2 420.9,80.6 421.5,80.0 422.1,79.4 422.6,78.8 423.2,78.3 423.8,77.8 424.5,77.3 425.1,76.8 425.7,76.3 426.3,75.9 426.9,75.4 427.6,75.0 428.2,74.6 428.8,74.1 429.5,73.7 430.1,73.4 430.8,73.0 431.4,72.6 432.1,72.2 432.8,71.9 433.4,71.5 434.1,71.2 434.8,70.9 435.4,70.6 436.1,70.2 436.8,69.9 437.5,69.6 438.2,69.3 438.8,69.1 439.5,68.8 440.2,68.5 440.9,68.2 441.6,68.0 442.3,67.7 443.0,67.5 443.7,67.2 444.4,67.0 445.1,66.7 445.8,66.5 446.5,66.3 447.2,66.1 447.9,65.9 448.6,65.7 449.3,65.5 450.0,65.4 450.7,65.2 451.4,65.0 452.2,64.8 452.9,64.7 453.6,64.5 454.3,64.3 455.0,64.2 455.7,64.0 456.5,63.9 457.2,63.7 457.9,63.6 458.6,63.5 459.4,63.3 460.1,63.2 460.8,63.1 461.5,62.9 462.3,62.8 463.0,62.7 463.7,62.6 464.4,62.5 465.2,62.4 465.9,62.3 466.6,62.1 467.3,62.0 468.1,61.9 468.8,61.8 469.5,61.7 470.3,61.6 471.0,61.6 471.7,61.5 472.5,61.4 473.2,61.3 473.9,61.2 474.7,61.1 475.4,61.0 476.2,60.9 476.9,60.9 477.6,60.8 478.4,60.7 479.1,60.6 479.8,60.6 480.6,60.5 481.3,60.4 482.1,60.4 482.8,60.3 483.5,60.2 484.3,60.2 485.0,60.1 485.8,60.0 486.5,60.0 487.2,59.9 488.0,59.9 488.7,59.8 489.5,59.8 490.2,59.7 490.9,59.6 491.7,59.6 492.4,59.5 493.2,59.5 493.9,59.4 494.7,59.4 495.4,59.3 496.1,59.3 496.9,59.3 497.6,59.2 498.4,59.2 499.1,59.1 499.9,59.1 500.6,59.0 501.4,59.0 502.1,58.9 502.8,58.9 503.6,58.9 504.3,58.8 505.1,58.8 505.8,58.8 506.6,58.7 507.3,58.7 508.1,58.6 508.8,58.6 509.6,58.6 510.3,58.5 511.1,58.5 511.8,58.5 512.5,58.4 513.3,58.4 514.0,58.4 514.8,58.3 515.5,58.3 516.3,58.3 517.0,58.2 517.8,58.2 518.5,58.2 519.3,58.2 520.0,58.1 520.8,58.1 521.5,58.1 522.3,58.0 523.0,58.0 523.8,58.0 524.5,58.0 525.3,57.9 526.0,57.9 526.8,57.9 527.5,57.8 528.3,57.8 529.0,57.8 529.7,57.8 530.5,57.7 531.2,57.7 532.0,57.7 532.7,57.7 533.5,57.6 534.2,57.6 535.0,57.6 535.7,57.6 536.5,57.5 537.2,57.5 538.0,57.5 538.7,57.5 539.5,57.5 540.2,57.4 541.0,57.4 541.7,57.4 541.7,51.0 540.9,51.0 540.2,51.0 539.4,51.0 538.7,51.0 537.9,51.0 537.2,51.0 536.4,51.0 535.7,51.0 534.9,50.9 534.2,50.9 533.4,50.9 532.7,50.9 531.9,50.9 531.2,50.9 530.4,50.9 529.7,50.9 528.9,50.9 528.2,50.9 527.4,50.9 526.7,50.9 525.9,50.9 525.2,50.9 524.4,50.9 523.7,50.9 522.9,50.9 522.2,50.9 521.4,50.9 520.7,50.9 519.9,50.9 519.2,50.9 518.4,50.9 517.6,50.9 516.9,50.9 516.1,50.9 515.4,50.9 514.6,50.9 513.9,50.9 513.1,50.9 512.4,51.0 511.6,51.0 510.9,51.0 510.1,51.0 509.4,51.0 508.6,51.0 507.9,51.0 507.1,51.0 506.4,51.0 505.6,51.0 504.9,51.0 504.1,51.0 503.4,51.1 502.6,51.1 501.8,51.1 501.1,51.1 500.3,51.1 499.6,51.1 498.8,51.1 498.1,51.2 497.3,51.2 496.6,51.2 495.8,51.2 495.1,51.2 494.3,51.3 493.6,51.3 492.8,51.3 492.0,51.3 491.3,51.3 490.5,51.4 489.8,51.4 489.0,51.4 488.3,51.5 487.5,51.5 486.8,51.5 486.0,51.5 485.2,51.6 484.5,51.6 483.7,51.7 483.0,51.7 482.2,51.7 481.5,51.8 480.7,51.8 479.9,51.9 479.2,51.9 478.4,51.9 477.7,52.0 476.9,52.0 476.2,52.1 475.4,52.1 474.6,52.2 473.9,52.3 473.1,52.3 472.4,52.4 471.6,52.4 470.8,52.5 470.1,52.6 469.3,52.6 468.6,52.7 467.8,52.8 467.0,52.9 466.3,52.9 465.5,53.0 464.7,53.1 464.0,53.2 463.2,53.3 462.4,53.4 461.7,53.5 460.9,53.6 460.2,53.7 459.4,53.8 458.6,53.9 457.8,54.0 457.1,54.1 456.3,54.2 455.5,54.3 454.8,54.5 454.0,54.6 453.2,54.7 452.5,54.9 451.7,55.0 450.9,55.1 450.1,55.3 449.4,55.4 448.6,55.6 447.8,55.8 447.0,55.9 446.3,56.1 445.5,56.3 444.7,56.5 443.9,56.7 443.2,56.9 442.4,57.1 441.6,57.3 440.8,57.5 440.0,57.7 439.2,57.9 438.4,58.1 437.6,58.3 436.9,58.6 436.1,58.8 435.3,59.1 434.5,59.3 433.7,59.6 432.9,59.9 432.1,60.2 431.3,60.5 430.5,60.8 429.7,61.1 428.9,61.4 428.1,61.8 427.3,62.1 426.5,62.5 425.6,62.9 424.8,63.3 424.0,63.7 423.2,64.1 422.4,64.6 421.5,65.0 420.7,65.5 419.9,66.0 419.0,66.6 418.2,67.1 417.4,67.7 416.5,68.3 415.7,68.9 414.8,69.6 414.0,70.3 413.1,71.1 412.3,71.9 411.4,72.7 410.5,73.6 409.7,74.5 408.8,75.5 408.0,76.6 407.1,77.7 406.3,78.8 405.4,80.1 404.6,81.4 403.7,82.7 402.9,84.2 402.1,85.7 401.3,87.4 400.6,89.1 399.8,90.9 399.1,92.7 398.4,94.7 397.7,96.7 397.0,98.8 396.3,100.9 395.5,103.1 394.8,105.4 394.1,107.7 393.4,110.0 392.7,112.3 392.1,114.6 391.4,116.9 390.7,119.1 390.0,121.2 389.4,123.2 388.7,124.9 388.1,126.4" fill="#ebf6fd"/>
<polygon points="395.7,130.1 396.6,128.3 397.5,126.3 398.3,124.2 399.2,122.0 400.0,119.7 400.8,117.5 401.6,115.2 402.4,112.9 403.2,110.7 404.0,108.5 404.8,106.3 405.6,104.2 406.4,102.2 407.2,100.3 408.0,98.5 408.8,96.7 409.6,95.1 410.3,93.5 411.1,92.1 411.8,90.7 412.5,89.4 413.2,88.1 413.8,87.0 414.5,85.9 415.1,84.9 415.7,83.9 416.4,83.0 417.0,82.2 417.6,81.4 418.3,80.6 418.9,79.9 419.5,79.2 420.2,78.6 420.8,78.0 421.4,77.4 422.1,76.8 422.7,76.3 423.3,75.8 424.0,75.3 424.6,74.8 425.3,74.3 426.0,73.9 426.6,73.4 427.3,73.0 428.0,72.6 428.6,72.2 429.3,71.8 430.0,71.4 430.7,71.0 431.4,70.7 432.0,70.3 432.7,70.0 433.4,69.6 434.1,69.3 434.8,69.0 435.5,68.7 436.2,68.4 436.9,68.1 437.6,67.8 438.3,67.5 439.0,67.2 439.7,67.0 440.4,66.7 441.1,66.4 441.8,66.2 442.5,65.9 443.2,65.7 443.9,65.5 444.7,65.2 445.4,65.0 446.1,64.8 446.8,64.6 447.5,64.4 448.2,64.2 449.0,64.0 449.7,63.9 450.4,63.7 451.1,63.5 451.8,63.3 452.6,63.2 453.3,63.0 454.0,62.9 454.7,62.7 455.5,62.6 456.2,62.4 456.9,62.3 457.7,62.1 458.4,62.0 459.1,61.9 459.8,61.7 460.6,61.6 461.3,61.5 462.0,61.4 462.8,61.3 463.5,61.1 464.2,61.0 465.0,60.9 465.7,60.8 466.4,60.7 467.2,60.6 467.9,60.5 468.7,60.4 469.4,60.3 470.1,60.2 470.9,60.1 471.6,60.1 472.3,60.0 473.1,59.9 473.8,59.8 474.6,59.7 475.3,59.7 476.0,59.6 476.8,59.5 477.5,59.4 478.3,59.4 479.0,59.3 479.7,59.2 480.5,59.2 481.2,59.1 482.0,59.0 482.7,59.0 483.4,58.9 484.2,58.8 484.9,58.8 485.7,58.7 486.4,58.7 487.2,58.6 487.9,58.6 488.6,58.5 489.4,58.5 490.1,58.4 490.9,58.4 491.6,58.3 492.4,58.3 493.1,58.2 493.9,58.2 494.6,58.1 495.4,58.1 496.1,58.0 496.8,58.0 497.6,58.0 498.3,57.9 499.1,57.9 499.8,57.8 500.6,57.8 501.3,57.8 502.1,57.7 502.8,57.7 503.6,57.6 504.3,57.6 505.1,57.6 505.8,57.5 506.5,57.5 507.3,57.5 508.0,57.4 508.8,57.4 509.5,57.4 510.3,57.4 511.0,57.3 511.8,57.3 512.5,57.3 513.3,57.2 514.0,57.2 514.8,57.2 515.5,57.2 516.3,57.1 517.0,57.1 517.8,57.1 518.5,57.0 519.3,57.0 520.0,57.0 520.8,57.0 521.5,57.0 522.2,56.9 523.0,56.9 523.7,56.9 524.5,56.9 525.2,56.8 526.0,56.8 526.7,56.8 527.5,56.8 528.2,56.7 529.0,56.7 529.7,56.7 530.5,56.7 531.2,56.7 532.0,56.6 532.7,56.6 533.5,56.6 534.2,56.6 535.0,56.6 535.7,56.5 536.5,56.5 537.2,56.5 538.0,56.5 538.7,56.5 539.5,56.4 540.2,56.4 541.0,56.4 541.7,56.4 541.7,51.7 540.9,51.7 540.2,51.7 539.4,51.6 538.7,51.6 537.9,51.6 537.2,51.6 536.4,51.6 535.7,51.6 534.9,51.6 534.2,51.6 533.4,51.6 532.7,51.6 531.9,51.6 531.2,51.6 530.4,51.6 529.7,51.6 528.9,51.6 528.2,51.6 527.4,51.6 526.7,51.6 525.9,51.6 525.2,51.6 524.4,51.6 523.7,51.7 522.9,51.7 522.2,51.7 521.4,51.7 520.7,51.7 519.9,51.7 519.2,51.7 518.4,51.7 517.7,51.7 516.9,51.7 516.2,51.7 515.4,51.7 514.7,51.7 513.9,51.7 513.2,51.7 512.4,51.7 511.6,51.7 510.9,51.8 510.1,51.8 509.4,51.8 508.6,51.8 507.9,51.8 507.1,51.8 506.4,51.8 505.6,51.8 504.9,51.8 504.1,51.9 503.4,51.9 502.6,51.9 501.9,51.9 501.1,51.9 500.4,51.9 499.6,52.0 498.9,52.0 498.1,52.0 497.4,52.0 496.6,52.0 495.9,52.1 495.1,52.1 494.3,52.1 493.6,52.1 492.8,52.2 492.1,52.2 491.3,52.2 490.6,52.2 489.8,52.3 489.1,52.3 488.3,52.3 487.6,52.4 486.8,52.4 486.1,52.4 485.3,52.5 484.5,52.5 483.8,52.5 483.0,52.6 482.3,52.6 481.5,52.7 480.8,52.7 480.0,52.8 479.3,52.8 478.5,52.8 477.7,52.9 477.0,53.0 476.2,53.0 475.5,53.1 474.7,53.1 474.0,53.2 473.2,53.2 472.4,53.3 471.7,53.4 470.9,53.4 470.2,53.5 469.4,53.6 468.7,53.6 467.9,53.7 467.1,53.8 466.4,53.9 465.6,54.0 464.9,54.1 464.1,54.1 463.3,54.2 462.6,54.3 461.8,54.4 461.1,54.5 460.3,54.6 459.5,54.7 458.8,54.8 458.0,55.0 457.2,55.1 456.5,55.2 455.7,55.3 454.9,55.4 454.2,55.6 453.4,55.7 452.7,55.8 451.9,56.0 451.1,56.1 450.4,56.3 449.6,56.4 448.8,56.6 448.0,56.8 447.3,56.9 446.5,57.1 445.7,57.3 445.0,57.5 444.2,57.7 443.4,57.9 442.6,58.1 441.9,58.3 441.1,58.5 440.3,58.7 439.5,58.9 438.8,59.1 438.0,59.4 437.2,59.6 436.4,59.9 435.6,60.1 434.9,60.4 434.1,60.7 433.3,60.9 432.5,61.2 431.7,61.5 430.9,61.8 430.1,62.2 429.4,62.5 428.6,62.8 427.8,63.2 427.0,63.6 426.2,63.9 425.4,64.3 424.6,64.7 423.8,65.2 423.0,65.6 422.2,66.1 421.4,66.5 420.5,67.0 419.7,67.6 418.9,68.1 418.1,68.7 417.3,69.3 416.5,69.9 415.6,70.6 414.8,71.3 414.0,72.0 413.1,72.8 412.3,73.6 411.5,74.4 410.7,75.4 409.8,76.3 409.0,77.3 408.2,78.4 407.3,79.6 406.5,80.8 405.7,82.1 404.9,83.4 404.1,84.8 403.3,86.3 402.5,87.9 401.8,89.6 401.0,91.4 400.3,93.2 399.6,95.1 398.9,97.1 398.1,99.2 397.4,101.3 396.7,103.5 396.0,105.8 395.3,108.0 394.5,110.3 393.8,112.6 393.1,114.9 392.4,117.2 391.7,119.4 391.0,121.5 390.4,123.5 389.7,125.3 389.0,126.9" fill="#ddeffb"/>
<polygon points="394.4,129.5 395.3,127.7 396.1,125.7 396.9,123.6 397.7,121.5 398.5,119.2 399.3,117.0 400.1,114.7 400.9,112.4 401.7,110.2 402.5,107.9 403.3,105.8 404.0,103.7 404.8,101.6 405.6,99.7 406.4,97.8 407.1,96.1 407.9,94.4 408.7,92.8 409.4,91.3 410.2,89.9 410.9,88.5 411.6,87.2 412.2,86.0 412.9,84.9 413.6,83.8 414.3,82.8 414.9,81.9 415.6,81.0 416.3,80.2 417.0,79.4 417.6,78.7 418.3,78.0 419.0,77.3 419.6,76.7 420.3,76.1 421.0,75.5 421.6,74.9 422.3,74.4 423.0,73.9 423.7,73.4 424.4,72.9 425.1,72.4 425.8,72.0 426.4,71.6 427.1,71.1 427.8,70.7 428.5,70.3 429.2,70.0 429.9,69.6 430.7,69.2 431.4,68.9 432.1,68.5 432.8,68.2 433.5,67.9 434.2,67.5 434.9,67.2 435.6,66.9 436.3,66.6 437.1,66.3 437.8,66.1 438.5,65.8 439.2,65.5 439.9,65.3 440.6,65.0 441.4,64.8 442.1,64.5 442.8,64.3 443.5,64.1 444.3,63.8 445.0,63.6 445.7,63.4 446.4,63.2 447.2,63.0 447.9,62.8 448.6,62.7 449.4,62.5 450.1,62.3 450.8,62.1 451.6,62.0 452.3,61.8 453.0,61.7 453.8,61.5 454.5,61.3 455.2,61.2 456.0,61.1 456.7,60.9 457.4,60.8 458.2,60.7 458.9,60.5 459.6,60.4 460.4,60.3 461.1,60.2 461.9,60.0 462.6,59.9 463.3,59.8 464.1,59.7 464.8,59.6 465.5,59.5 466.3,59.4 467.0,59.3 467.8,59.2 468.5,59.1 469.2,59.0 470.0,58.9 470.7,58.9 471.5,58.8 472.2,58.7 473.0,58.6 473.7,58.5 474.4,58.5 475.2,58.4 475.9,58.3 476.7,58.2 477.4,58.2 478.2,58.1 478.9,58.0 479.6,58.0 480.4,57.9 481.1,57.8 481.9,57.8 482.6,57.7 483.4,57.7 484.1,57.6 484.9,57.6 485.6,57.5 486.3,57.5 487.1,57.4 487.8,57.4 488.6,57.3 489.3,57.3 490.1,57.2 490.8,57.2 491.6,57.1 492.3,57.1 493.1,57.0 493.8,57.0 494.6,57.0 495.3,56.9 496.0,56.9 496.8,56.8 497.5,56.8 498.3,56.8 499.0,56.7 499.8,56.7 500.5,56.7 501.3,56.6 502.0,56.6 502.8,56.6 503.5,56.5 504.3,56.5 505.0,56.5 505.8,56.4 506.5,56.4 507.3,56.4 508.0,56.3 508.8,56.3 509.5,56.3 510.3,56.3 511.0,56.2 511.8,56.2 512.5,56.2 513.2,56.2 514.0,56.1 514.7,56.1 515.5,56.1 516.2,56.1 517.0,56.0 517.7,56.0 518.5,56.0 519.2,56.0 520.0,56.0 520.7,55.9 521.5,55.9 522.2,55.9 523.0,55.9 523.7,55.9 524.5,55.8 525.2,55.8 526.0,55.8 526.7,55.8 527.5,55.8 528.2,55.8 529.0,55.7 529.7,55.7 530.5,55.7 531.2,55.7 532.0,55.7 532.7,55.7 533.5,55.6 534.2,55.6 535.0,55.6 535.7,55.6 536.5,55.6 537.2,55.6 538.0,55.5 538.7,55.5 539.5,55.5 540.2,55.5 541.0,55.5 541.7,55.5 541.7,52.3 540.9,52.3 540.2,52.3 539.4,52.3 538.7,52.3 537.9,52.3 537.2,52.3 536.4,52.3 535.7,52.3 534.9,52.3 534.2,52.3 533.4,52.3 532.7,52.3 531.9,52.3 531.2,52.3 530.4,52.3 529.7,52.3 528.9,52.3 528.2,52.3 527.4,52.3 526.7,52.3 525.9,52.3 525.2,52.3 524.4,52.3 523.7,52.3 522.9,52.3 522.2,52.3 521.4,52.3 520.7,52.4 519.9,52.4 519.2,52.4 518.4,52.4 517.7,52.4 516.9,52.4 516.2,52.4 515.4,52.4 514.7,52.4 513.9,52.4 513.2,52.4 512.4,52.5 511.7,52.5 510.9,52.5 510.2,52.5 509.4,52.5 508.7,52.5 507.9,52.5 507.2,52.5 506.4,52.6 505.7,52.6 504.9,52.6 504.2,52.6 503.4,52.6 502.7,52.6 501.9,52.7 501.1,52.7 500.4,52.7 499.6,52.7 498.9,52.7 498.1,52.8 497.4,52.8 496.6,52.8 495.9,52.8 495.1,52.9 494.4,52.9 493.6,52.9 492.9,52.9 492.1,53.0 491.4,53.0 490.6,53.0 489.9,53.1 489.1,53.1 488.4,53.1 487.6,53.2 486.9,53.2 486.1,53.2 485.3,53.3 484.6,53.3 483.8,53.4 483.1,53.4 482.3,53.4 481.6,53.5 480.8,53.5 480.1,53.6 479.3,53.6 478.6,53.7 477.8,53.7 477.1,53.8 476.3,53.8 475.5,53.9 474.8,54.0 474.0,54.0 473.3,54.1 472.5,54.2 471.8,54.2 471.0,54.3 470.3,54.4 469.5,54.4 468.8,54.5 468.0,54.6 467.2,54.7 466.5,54.8 465.7,54.8 465.0,54.9 464.2,55.0 463.5,55.1 462.7,55.2 461.9,55.3 461.2,55.4 460.4,55.5 459.7,55.6 458.9,55.7 458.1,55.8 457.4,56.0 456.6,56.1 455.9,56.2 455.1,56.3 454.4,56.5 453.6,56.6 452.8,56.8 452.1,56.9 451.3,57.0 450.5,57.2 449.8,57.4 449.0,57.5 448.3,57.7 447.5,57.9 446.7,58.0 446.0,58.2 445.2,58.4 444.4,58.6 443.7,58.8 442.9,59.0 442.1,59.2 441.4,59.4 440.6,59.6 439.8,59.9 439.1,60.1 438.3,60.3 437.5,60.6 436.8,60.8 436.0,61.1 435.2,61.3 434.4,61.6 433.7,61.9 432.9,62.2 432.1,62.5 431.3,62.8 430.6,63.1 429.8,63.5 429.0,63.8 428.2,64.2 427.5,64.5 426.7,64.9 425.9,65.3 425.1,65.7 424.3,66.1 423.5,66.6 422.7,67.0 422.0,67.5 421.2,68.0 420.4,68.5 419.6,69.0 418.8,69.6 418.0,70.2 417.2,70.8 416.4,71.5 415.6,72.1 414.8,72.9 414.0,73.6 413.2,74.4 412.4,75.2 411.6,76.1 410.8,77.1 410.0,78.1 409.2,79.1 408.4,80.3 407.6,81.4 406.8,82.7 406.0,84.0 405.2,85.4 404.4,86.9 403.6,88.5 402.9,90.1 402.1,91.9 401.4,93.7 400.7,95.6 399.9,97.5 399.2,99.6 398.5,101.7 397.7,103.9 397.0,106.1 396.3,108.4 395.6,110.7 394.8,113.0 394.1,115.3 393.4,117.5 392.7,119.8 392.0,121.9 391.3,123.9 390.6,125.7 389.9,127.3" fill="#cfe7f9"/>
<polygon points="396.6,130.5 397.5,128.6 398.4,126.6 399.3,124.5 400.1,122.3 401.0,120.1 401.8,117.8 402.6,115.5 403.4,113.2 404.3,111.0 405.1,108.8 405.9,106.7 406.7,104.6 407.5,102.6 408.3,100.7 409.1,98.9 409.9,97.2 410.7,95.6 411.4,94.0 412.2,92.6 413.0,91.3 413.6,90.0 414.2,88.8 414.9,87.6 415.5,86.5 416.1,85.6 416.7,84.6 417.3,83.7 417.9,82.9 418.6,82.2 419.2,81.4 419.8,80.7 420.4,80.1 421.0,79.5 421.6,78.9 422.2,78.3 422.8,77.7 423.4,77.2 424.0,76.7 424.7,76.2 425.3,75.7 425.9,75.3 426.6,74.8 427.2,74.4 427.8,74.0 428.5,73.5 429.2,73.1 429.8,72.8 430.5,72.4 431.1,72.0 431.8,71.6 432.5,71.3 433.2,70.9 433.8,70.6 434.5,70.3 435.2,70.0 435.9,69.6 436.6,69.3 437.3,69.0 437.9,68.7 438.6,68.5 439.3,68.2 440.0,67.9 440.7,67.6 441.4,67.4 442.1,67.1 442.8,66.9 443.5,66.6 444.2,66.4 444.9,66.2 445.6,65.9 446.3,65.7 447.0,65.5 447.7,65.3 448.5,65.1 449.2,65.0 449.9,64.8 450.6,64.6 451.3,64.4 452.0,64.3 452.8,64.1 453.5,63.9 454.2,63.8 454.9,63.6 455.6,63.5 456.4,63.3 457.1,63.2 457.8,63.0 458.5,62.9 459.3,62.8 460.0,62.6 460.7,62.5 461.4,62.4 462.2,62.3 462.9,62.1 463.6,62.0 464.4,61.9 465.1,61.8 465.8,61.7 466.6,61.6 467.3,61.5 468.0,61.4 468.7,61.3 469.5,61.2 470.2,61.1 471.0,61.0 471.7,60.9 472.4,60.8 473.2,60.7 473.9,60.7 474.6,60.6 475.4,60.5 476.1,60.4 476.8,60.3 477.6,60.3 478.3,60.2 479.1,60.1 479.8,60.1 480.5,60.0 481.3,59.9 482.0,59.8 482.8,59.8 483.5,59.7 484.2,59.7 485.0,59.6 485.7,59.5 486.5,59.5 487.2,59.4 487.9,59.4 488.7,59.3 489.4,59.3 490.2,59.2 490.9,59.2 491.7,59.1 492.4,59.0 493.2,59.0 493.9,59.0 494.6,58.9 495.4,58.9 496.1,58.8 496.9,58.8 497.6,58.7 498.4,58.7 499.1,58.6 499.9,58.6 500.6,58.6 501.3,58.5 502.1,58.5 502.8,58.4 503.6,58.4 504.3,58.4 505.1,58.3 505.8,58.3 506.6,58.3 507.3,58.2 508.1,58.2 508.8,58.1 509.6,58.1 510.3,58.1 511.0,58.0 511.8,58.0 512.5,58.0 513.3,58.0 514.0,57.9 514.8,57.9 515.5,57.9 516.3,57.8 517.0,57.8 517.8,57.8 518.5,57.7 519.3,57.7 520.0,57.7 520.8,57.7 521.5,57.6 522.3,57.6 523.0,57.6 523.8,57.6 524.5,57.5 525.3,57.5 526.0,57.5 526.7,57.5 527.5,57.4 528.2,57.4 529.0,57.4 529.7,57.4 530.5,57.3 531.2,57.3 532.0,57.3 532.7,57.3 533.5,57.2 534.2,57.2 535.0,57.2 535.7,57.2 536.5,57.2 537.2,57.1 538.0,57.1 538.7,57.1 539.5,57.1 540.2,57.0 541.0,57.0 541.7,57.0 541.7,51.2 540.9,51.2 540.2,51.2 539.4,51.2 538.7,51.2 537.9,51.2 537.2,51.2 536.4,51.2 535.7,51.2 534.9,51.2 534.2,51.2 533.4,51.2 532.7,51.2 531.9,51.2 531.2,51.2 530.4,51.2 529.7,51.2 528.9,51.2 528.2,51.2 527.4,51.2 526.7,51.2 525.9,51.2 525.2,51.2 524.4,51.2 523.7,51.2 522.9,51.2 522.2,51.2 521.4,51.2 520.7,51.2 519.9,51.2 519.2,51.2 518.4,51.2 517.7,51.2 516.9,51.2 516.1,51.2 515.4,51.2 514.6,51.2 513.9,51.2 513.1,51.2 512.4,51.3 511.6,51.3 510.9,51.3 510.1,51.3 509.4,51.3 508.6,51.3 507.9,51.3 507.1,51.3 506.4,51.3 505.6,51.3 504.9,51.3 504.1,51.4 503.4,51.4 502.6,51.4 501.9,51.4 501.1,51.4 500.4,51.4 499.6,51.4 498.8,51.5 498.1,51.5 497.3,51.5 496.6,51.5 495.8,51.5 495.1,51.6 494.3,51.6 493.6,51.6 492.8,51.6 492.1,51.7 491.3,51.7 490.6,51.7 489.8,51.7 489.0,51.8 488.3,51.8 487.5,51.8 486.8,51.9 486.0,51.9 485.3,51.9 484.5,52.0 483.8,52.0 483.0,52.0 482.2,52.1 481.5,52.1 480.7,52.2 480.0,52.2 479.2,52.2 478.5,52.3 477.7,52.3 476.9,52.4 476.2,52.4 475.4,52.5 474.7,52.6 473.9,52.6 473.2,52.7 472.4,52.7 471.6,52.8 470.9,52.9 470.1,52.9 469.4,53.0 468.6,53.1 467.8,53.1 467.1,53.2 466.3,53.3 465.5,53.4 464.8,53.5 464.0,53.6 463.3,53.6 462.5,53.7 461.7,53.8 461.0,53.9 460.2,54.0 459.4,54.1 458.7,54.2 457.9,54.4 457.1,54.5 456.4,54.6 455.6,54.7 454.8,54.8 454.1,55.0 453.3,55.1 452.5,55.2 451.8,55.4 451.0,55.5 450.2,55.7 449.5,55.8 448.7,56.0 447.9,56.2 447.1,56.3 446.4,56.5 445.6,56.7 444.8,56.9 444.0,57.1 443.3,57.3 442.5,57.4 441.7,57.6 440.9,57.9 440.1,58.1 439.3,58.3 438.6,58.5 437.8,58.7 437.0,59.0 436.2,59.2 435.4,59.5 434.6,59.7 433.8,60.0 433.0,60.3 432.2,60.6 431.5,60.9 430.7,61.2 429.9,61.5 429.1,61.9 428.3,62.2 427.5,62.6 426.7,62.9 425.8,63.3 425.0,63.7 424.2,64.1 423.4,64.5 422.6,65.0 421.8,65.4 421.0,65.9 420.1,66.4 419.3,66.9 418.5,67.5 417.6,68.1 416.8,68.7 416.0,69.3 415.1,70.0 414.3,70.7 413.4,71.4 412.6,72.2 411.7,73.0 410.9,73.9 410.0,74.8 409.2,75.8 408.4,76.9 407.5,78.0 406.7,79.1 405.8,80.3 405.0,81.6 404.2,83.0 403.4,84.4 402.5,86.0 401.8,87.6 401.0,89.3 400.3,91.1 399.6,92.9 398.9,94.8 398.1,96.9 397.4,98.9 396.7,101.1 396.0,103.3 395.3,105.5 394.6,107.8 393.9,110.1 393.2,112.4 392.5,114.7 391.8,117.0 391.1,119.2 390.4,121.3 389.7,123.3 389.1,125.1 388.5,126.6" fill="url(#dotblue)" opacity="0.35"/>
<polyline points="391.7,128.2 393.6,123.6 395.5,118.2 397.4,112.5 399.3,106.9 401.1,101.5 403.0,96.5 404.9,92.0 406.8,88.1 408.6,84.7 410.5,81.7 412.4,79.2 414.2,77.0 416.1,75.0 418.0,73.3 419.9,71.9 421.7,70.5 423.6,69.3 425.5,68.2 427.4,67.2 429.2,66.2 431.1,65.4 433.0,64.6 434.8,63.8 436.7,63.1 438.6,62.5 440.5,61.9 442.3,61.3 444.2,60.8 446.1,60.3 448.0,59.8 449.8,59.4 451.7,59.0 453.6,58.6 455.5,58.3 457.3,58.0 459.2,57.7 461.1,57.4 463.0,57.1 464.8,56.9 466.7,56.6 468.6,56.4 470.5,56.2 472.3,56.0 474.2,55.8 476.1,55.7 478.0,55.5 479.8,55.4 481.7,55.3 483.6,55.1 485.5,55.0 487.3,54.9 489.2,54.8 491.1,54.7 493.0,54.6 494.8,54.5 496.7,54.5 498.6,54.4 500.5,54.3 502.3,54.3 504.2,54.2 506.1,54.1 508.0,54.1 509.8,54.0 511.7,54.0 513.6,54.0 515.5,53.9 517.3,53.9 519.2,53.9 521.1,53.8 523.0,53.8 524.8,53.8 526.7,53.7 528.6,53.7 530.5,53.7 532.3,53.7 534.2,53.7 536.1,53.6 538.0,53.6 539.8,53.6 541.7,53.6" fill="none" stroke="#a8d6f4" stroke-width="0.5" stroke-dasharray="0.6 1.2"/>
<polyline points="392.2,128.4 394.1,123.8 396.0,118.4 397.9,112.7 399.8,107.1 401.7,101.7 403.6,96.7 405.5,92.3 407.4,88.4 409.2,85.0 411.1,82.1 412.9,79.6 414.7,77.4 416.6,75.5 418.4,73.8 420.2,72.4 422.1,71.0 423.9,69.8 425.8,68.7 427.6,67.7 429.5,66.8 431.3,65.9 433.2,65.1 435.1,64.4 436.9,63.7 438.8,63.0 440.6,62.4 442.5,61.8 444.4,61.3 446.2,60.8 448.1,60.3 449.9,59.9 451.8,59.5 453.7,59.1 455.5,58.8 457.4,58.5 459.3,58.1 461.2,57.9 463.0,57.6 464.9,57.3 466.8,57.1 468.6,56.9 470.5,56.7 472.4,56.5 474.2,56.3 476.1,56.1 478.0,56.0 479.9,55.8 481.7,55.7 483.6,55.6 485.5,55.5 487.4,55.4 489.2,55.2 491.1,55.1 493.0,55.1 494.8,55.0 496.7,54.9 498.6,54.8 500.5,54.7 502.3,54.7 504.2,54.6 506.1,54.6 508.0,54.5 509.8,54.5 511.7,54.4 513.6,54.4 515.5,54.3 517.3,54.3 519.2,54.2 521.1,54.2 523.0,54.2 524.8,54.1 526.7,54.1 528.6,54.1 530.5,54.1 532.3,54.0 534.2,54.0 536.1,54.0 538.0,54.0 539.8,53.9 541.7,53.9" fill="none" stroke="#a8d6f4" stroke-width="0.5" stroke-dasharray="0.6 1.2"/>
<polyline points="391.8,128.2 393.7,123.7 395.6,118.3 397.4,112.5 399.3,106.9 401.2,101.5 403.1,96.5 404.9,92.1 406.8,88.1 408.7,84.7 410.6,81.8 412.4,79.2 414.3,77.0 416.2,75.1 418.0,73.4 419.9,71.9 421.8,70.6 423.6,69.3 425.5,68.2 427.4,67.2 429.3,66.3 431.1,65.4 433.0,64.6 434.9,63.9 436.7,63.2 438.6,62.5 440.5,61.9 442.4,61.4 444.2,60.8 446.1,60.3 448.0,59.9 449.8,59.5 451.7,59.1 453.6,58.7 455.5,58.3 457.3,58.0 459.2,57.7 461.1,57.4 463.0,57.2 464.8,56.9 466.7,56.7 468.6,56.5 470.5,56.3 472.3,56.1 474.2,55.9 476.1,55.7 478.0,55.6 479.8,55.4 481.7,55.3 483.6,55.2 485.5,55.1 487.3,54.9 489.2,54.8 491.1,54.8 493.0,54.7 494.8,54.6 496.7,54.5 498.6,54.4 500.5,54.4 502.3,54.3 504.2,54.2 506.1,54.2 508.0,54.1 509.8,54.1 511.7,54.0 513.6,54.0 515.5,54.0 517.3,53.9 519.2,53.9 521.1,53.9 523.0,53.8 524.8,53.8 526.7,53.8 528.6,53.8 530.5,53.7 532.3,53.7 534.2,53.7 536.1,53.7 538.0,53.7 539.8,53.6 541.7,53.6" fill="none" stroke="#a8d6f4" stroke-width="0.5" stroke-dasharray="0.6 1.2"/>
<polyline points="395.5,130.0 397.7,125.1 399.8,119.7 401.8,114.0 403.8,108.4 405.8,103.2 407.8,98.4 409.7,94.2 411.6,90.6 413.3,87.4 414.9,84.7 416.5,82.4 418.1,80.5 419.7,78.7 421.3,77.2 422.9,75.9 424.5,74.6 426.2,73.5 427.9,72.4 429.5,71.4 431.3,70.5 433.0,69.6 434.7,68.8 436.5,68.0 438.2,67.3 440.0,66.6 441.8,66.0 443.5,65.4 445.3,64.8 447.1,64.3 448.9,63.9 450.7,63.4 452.5,63.0 454.3,62.6 456.2,62.2 458.0,61.9 459.8,61.6 461.7,61.3 463.5,61.0 465.3,60.7 467.2,60.4 469.0,60.2 470.8,60.0 472.7,59.8 474.5,59.6 476.4,59.4 478.2,59.2 480.1,59.0 481.9,58.9 483.8,58.7 485.7,58.6 487.5,58.4 489.4,58.3 491.2,58.2 493.1,58.1 495.0,57.9 496.8,57.8 498.7,57.7 500.6,57.6 502.4,57.6 504.3,57.5 506.2,57.4 508.0,57.3 509.9,57.2 511.8,57.2 513.6,57.1 515.5,57.0 517.4,56.9 519.3,56.9 521.1,56.8 523.0,56.8 524.9,56.7 526.7,56.7 528.6,56.6 530.5,56.6 532.4,56.5 534.2,56.5 536.1,56.4 538.0,56.4 539.8,56.3 541.7,56.3" fill="none" stroke="#a8d6f4" stroke-width="0.5" stroke-dasharray="0.6 1.2"/>
<polyline points="392.6,128.6 394.6,124.0 396.5,118.6 398.4,112.9 400.3,107.2 402.2,101.9 404.1,96.9 406.0,92.5 407.9,88.7 409.7,85.3 411.5,82.4 413.3,79.9 415.1,77.8 417.0,75.9 418.8,74.3 420.6,72.8 422.4,71.5 424.2,70.3 426.0,69.2 427.9,68.2 429.7,67.2 431.5,66.4 433.4,65.6 435.2,64.8 437.1,64.1 438.9,63.5 440.8,62.8 442.6,62.3 444.5,61.7 446.3,61.2 448.2,60.8 450.0,60.3 451.9,59.9 453.8,59.6 455.6,59.2 457.5,58.9 459.4,58.6 461.2,58.3 463.1,58.0 464.9,57.8 466.8,57.5 468.7,57.3 470.5,57.1 472.4,56.9 474.3,56.7 476.2,56.5 478.0,56.4 479.9,56.2 481.8,56.1 483.6,56.0 485.5,55.8 487.4,55.7 489.2,55.6 491.1,55.5 493.0,55.4 494.9,55.3 496.7,55.3 498.6,55.2 500.5,55.1 502.4,55.0 504.2,55.0 506.1,54.9 508.0,54.8 509.8,54.8 511.7,54.7 513.6,54.7 515.5,54.6 517.3,54.6 519.2,54.6 521.1,54.5 523.0,54.5 524.8,54.5 526.7,54.4 528.6,54.4 530.5,54.4 532.3,54.3 534.2,54.3 536.1,54.3 538.0,54.3 539.8,54.2 541.7,54.2" fill="none" stroke="#a8d6f4" stroke-width="0.5" stroke-dasharray="0.6 1.2"/>
<polyline points="392.3,128.4 394.2,123.8 396.1,118.4 398.0,112.7 399.9,107.1 401.8,101.7 403.6,96.8 405.5,92.3 407.4,88.4 409.3,85.1 411.1,82.1 412.9,79.6 414.8,77.4 416.6,75.5 418.4,73.9 420.3,72.4 422.1,71.1 424.0,69.9 425.8,68.8 427.6,67.7 429.5,66.8 431.4,65.9 433.2,65.1 435.1,64.4 436.9,63.7 438.8,63.0 440.6,62.4 442.5,61.9 444.4,61.3 446.2,60.8 448.1,60.4 450.0,59.9 451.8,59.5 453.7,59.2 455.6,58.8 457.4,58.5 459.3,58.2 461.2,57.9 463.0,57.6 464.9,57.4 466.8,57.1 468.6,56.9 470.5,56.7 472.4,56.5 474.2,56.3 476.1,56.2 478.0,56.0 479.9,55.9 481.7,55.7 483.6,55.6 485.5,55.5 487.4,55.4 489.2,55.3 491.1,55.2 493.0,55.1 494.8,55.0 496.7,54.9 498.6,54.8 500.5,54.8 502.3,54.7 504.2,54.6 506.1,54.6 508.0,54.5 509.8,54.5 511.7,54.4 513.6,54.4 515.5,54.3 517.3,54.3 519.2,54.3 521.1,54.2 523.0,54.2 524.8,54.2 526.7,54.1 528.6,54.1 530.5,54.1 532.3,54.0 534.2,54.0 536.1,54.0 538.0,54.0 539.8,54.0 541.7,53.9" fill="none" stroke="#a8d6f4" stroke-width="0.5" stroke-dasharray="0.6 1.2"/>
<polyline points="390.0,127.3 391.7,122.9 393.5,117.6 395.3,111.8 397.1,106.1 398.9,100.7 400.8,95.6 402.6,91.0 404.5,86.9 406.4,83.4 408.4,80.3 410.4,77.6 412.4,75.3 414.4,73.3 416.4,71.5 418.4,70.0 420.4,68.6 422.4,67.3 424.4,66.2 426.3,65.2 428.3,64.2 430.2,63.4 432.2,62.6 434.1,61.8 436.0,61.2 437.9,60.5 439.9,59.9 441.8,59.4 443.7,58.9 445.6,58.4 447.5,57.9 449.4,57.5 451.3,57.1 453.2,56.8 455.1,56.4 457.0,56.1 458.9,55.8 460.8,55.5 462.7,55.3 464.6,55.0 466.5,54.8 468.4,54.6 470.3,54.4 472.2,54.3 474.0,54.1 475.9,53.9 477.8,53.8 479.7,53.7 481.6,53.6 483.5,53.4 485.4,53.3 487.2,53.2 489.1,53.2 491.0,53.1 492.9,53.0 494.8,52.9 496.6,52.9 498.5,52.8 500.4,52.8 502.3,52.7 504.2,52.7 506.0,52.6 507.9,52.6 509.8,52.6 511.7,52.5 513.5,52.5 515.4,52.5 517.3,52.4 519.2,52.4 521.1,52.4 522.9,52.4 524.8,52.4 526.7,52.4 528.6,52.4 530.4,52.3 532.3,52.3 534.2,52.3 536.1,52.3 537.9,52.3 539.8,52.3 541.7,52.3" fill="none" stroke="#a8d6f4" stroke-width="0.5" stroke-dasharray="0.6 1.2"/>
<polyline points="392.1,128.4 394.1,123.8 396.0,118.4 397.8,112.7 399.7,107.0 401.6,101.6 403.5,96.7 405.4,92.3 407.3,88.4 409.1,85.0 411.0,82.0 412.8,79.5 414.7,77.3 416.5,75.4 418.3,73.8 420.2,72.3 422.0,70.9 423.9,69.7 425.7,68.6 427.6,67.6 429.4,66.7 431.3,65.8 433.2,65.0 435.0,64.3 436.9,63.6 438.7,62.9 440.6,62.3 442.5,61.7 444.3,61.2 446.2,60.7 448.1,60.2 449.9,59.8 451.8,59.4 453.7,59.0 455.5,58.7 457.4,58.4 459.3,58.1 461.1,57.8 463.0,57.5 464.9,57.3 466.8,57.0 468.6,56.8 470.5,56.6 472.4,56.4 474.2,56.2 476.1,56.1 478.0,55.9 479.9,55.8 481.7,55.6 483.6,55.5 485.5,55.4 487.3,55.3 489.2,55.2 491.1,55.1 493.0,55.0 494.8,54.9 496.7,54.8 498.6,54.7 500.5,54.7 502.3,54.6 504.2,54.5 506.1,54.5 508.0,54.4 509.8,54.4 511.7,54.3 513.6,54.3 515.5,54.2 517.3,54.2 519.2,54.2 521.1,54.1 523.0,54.1 524.8,54.1 526.7,54.0 528.6,54.0 530.5,54.0 532.3,54.0 534.2,53.9 536.1,53.9 538.0,53.9 539.8,53.9 541.7,53.9" fill="none" stroke="#a8d6f4" stroke-width="0.5" stroke-dasharray="0.6 1.2"/>
<polyline points="391.4,128.0 393.3,123.5 395.2,118.1 397.0,112.4 398.9,106.7 400.7,101.3 402.6,96.3 404.5,91.9 406.4,87.9 408.3,84.5 410.1,81.5 412.0,78.9 413.9,76.7 415.8,74.7 417.7,73.0 419.6,71.5 421.5,70.2 423.4,69.0 425.3,67.8 427.2,66.8 429.1,65.9 430.9,65.0 432.8,64.2 434.7,63.5 436.6,62.8 438.5,62.1 440.4,61.5 442.2,61.0 444.1,60.4 446.0,60.0 447.9,59.5 449.8,59.1 451.6,58.7 453.5,58.3 455.4,58.0 457.3,57.6 459.2,57.3 461.0,57.0 462.9,56.8 464.8,56.5 466.7,56.3 468.5,56.1 470.4,55.9 472.3,55.7 474.2,55.5 476.1,55.4 477.9,55.2 479.8,55.1 481.7,55.0 483.6,54.8 485.4,54.7 487.3,54.6 489.2,54.5 491.1,54.4 492.9,54.3 494.8,54.3 496.7,54.2 498.6,54.1 500.4,54.0 502.3,54.0 504.2,53.9 506.1,53.9 507.9,53.8 509.8,53.8 511.7,53.7 513.6,53.7 515.4,53.7 517.3,53.6 519.2,53.6 521.1,53.6 522.9,53.5 524.8,53.5 526.7,53.5 528.6,53.5 530.4,53.5 532.3,53.4 534.2,53.4 536.1,53.4 537.9,53.4 539.8,53.4 541.7,53.4" fill="none" stroke="#a8d6f4" stroke-width="0.5" stroke-dasharray="0.6 1.2"/>
<polyline points="392.6,128.6 394.5,124.0 396.5,118.6 398.4,112.9 400.3,107.2 402.2,101.8 404.1,96.9 406.0,92.5 407.8,88.7 409.7,85.3 411.5,82.4 413.3,79.9 415.1,77.7 416.9,75.9 418.7,74.2 420.5,72.7 422.4,71.4 424.2,70.2 426.0,69.1 427.8,68.1 429.7,67.2 431.5,66.3 433.4,65.5 435.2,64.8 437.1,64.1 438.9,63.4 440.8,62.8 442.6,62.2 444.5,61.7 446.3,61.2 448.2,60.7 450.0,60.3 451.9,59.9 453.8,59.5 455.6,59.2 457.5,58.8 459.3,58.5 461.2,58.2 463.1,58.0 464.9,57.7 466.8,57.5 468.7,57.3 470.5,57.1 472.4,56.9 474.3,56.7 476.1,56.5 478.0,56.3 479.9,56.2 481.8,56.1 483.6,55.9 485.5,55.8 487.4,55.7 489.2,55.6 491.1,55.5 493.0,55.4 494.9,55.3 496.7,55.2 498.6,55.1 500.5,55.1 502.3,55.0 504.2,54.9 506.1,54.9 508.0,54.8 509.8,54.8 511.7,54.7 513.6,54.7 515.5,54.6 517.3,54.6 519.2,54.5 521.1,54.5 523.0,54.5 524.8,54.4 526.7,54.4 528.6,54.4 530.5,54.3 532.3,54.3 534.2,54.3 536.1,54.3 538.0,54.2 539.8,54.2 541.7,54.2" fill="none" stroke="#a8d6f4" stroke-width="0.5" stroke-dasharray="0.6 1.2"/>
<polyline points="395.2,129.8 397.3,125.0 399.4,119.5 401.4,113.9 403.4,108.3 405.4,103.0 407.4,98.2 409.3,94.0 411.2,90.4 412.9,87.2 414.5,84.5 416.1,82.1 417.8,80.1 419.4,78.4 421.0,76.9 422.6,75.5 424.3,74.2 425.9,73.1 427.6,72.0 429.4,71.0 431.1,70.1 432.8,69.2 434.6,68.4 436.3,67.7 438.1,66.9 439.9,66.3 441.6,65.6 443.4,65.0 445.2,64.5 447.0,64.0 448.8,63.5 450.6,63.1 452.5,62.6 454.3,62.3 456.1,61.9 457.9,61.5 459.8,61.2 461.6,60.9 463.4,60.6 465.3,60.4 467.1,60.1 469.0,59.9 470.8,59.6 472.7,59.4 474.5,59.2 476.4,59.0 478.2,58.9 480.1,58.7 481.9,58.5 483.8,58.4 485.6,58.2 487.5,58.1 489.4,58.0 491.2,57.9 493.1,57.8 495.0,57.6 496.8,57.5 498.7,57.4 500.6,57.3 502.4,57.3 504.3,57.2 506.2,57.1 508.0,57.0 509.9,56.9 511.8,56.9 513.6,56.8 515.5,56.7 517.4,56.7 519.2,56.6 521.1,56.6 523.0,56.5 524.9,56.4 526.7,56.4 528.6,56.3 530.5,56.3 532.4,56.2 534.2,56.2 536.1,56.2 538.0,56.1 539.8,56.1 541.7,56.0" fill="none" stroke="#a8d6f4" stroke-width="0.5" stroke-dasharray="0.6 1.2"/>
<polyline points="389.6,127.2 391.3,122.8 393.1,117.4 394.9,111.7 396.7,106.0 398.5,100.5 400.3,95.4 402.2,90.8 404.1,86.7 406.0,83.2 408.0,80.1 410.1,77.4 412.1,75.0 414.1,73.0 416.2,71.2 418.2,69.6 420.2,68.2 422.2,67.0 424.2,65.8 426.1,64.8 428.1,63.9 430.0,63.0 432.0,62.2 433.9,61.5 435.9,60.8 437.8,60.2 439.7,59.6 441.7,59.0 443.6,58.5 445.5,58.0 447.4,57.6 449.3,57.2 451.3,56.8 453.2,56.4 455.1,56.1 457.0,55.8 458.9,55.5 460.8,55.2 462.7,54.9 464.6,54.7 466.5,54.5 468.3,54.3 470.2,54.1 472.1,53.9 474.0,53.8 475.9,53.6 477.8,53.5 479.7,53.4 481.6,53.2 483.5,53.1 485.3,53.0 487.2,52.9 489.1,52.9 491.0,52.8 492.9,52.7 494.7,52.6 496.6,52.6 498.5,52.5 500.4,52.5 502.3,52.4 504.1,52.4 506.0,52.3 507.9,52.3 509.8,52.3 511.7,52.2 513.5,52.2 515.4,52.2 517.3,52.2 519.2,52.2 521.0,52.1 522.9,52.1 524.8,52.1 526.7,52.1 528.6,52.1 530.4,52.1 532.3,52.1 534.2,52.1 536.1,52.1 537.9,52.1 539.8,52.1 541.7,52.1" fill="none" stroke="#a8d6f4" stroke-width="0.5" stroke-dasharray="0.6 1.2"/>
<polygon points="393.8,129.1 394.6,127.4 395.4,125.5 396.2,123.4 397.0,121.2 397.7,119.0 398.5,116.7 399.3,114.4 400.0,112.1 400.8,109.9 401.6,107.6 402.3,105.5 403.1,103.3 403.9,101.3 404.6,99.3 405.4,97.4 406.1,95.6 406.9,93.9 407.6,92.3 408.4,90.8 409.1,89.3 409.8,87.9 410.5,86.6 411.2,85.4 411.9,84.2 412.6,83.2 413.3,82.1 414.0,81.2 414.7,80.3 415.4,79.4 416.0,78.6 416.7,77.8 417.4,77.1 418.1,76.4 418.8,75.8 419.5,75.1 420.2,74.5 420.9,74.0 421.6,73.4 422.3,72.9 423.0,72.4 423.7,71.9 424.4,71.4 425.1,70.9 425.8,70.5 426.5,70.1 427.2,69.6 428.0,69.2 428.7,68.8 429.4,68.5 430.1,68.1 430.8,67.7 431.5,67.4 432.3,67.0 433.0,66.7 433.7,66.4 434.4,66.0 435.2,65.7 435.9,65.4 436.6,65.1 437.3,64.9 438.1,64.6 438.8,64.3 439.5,64.0 440.3,63.8 441.0,63.5 441.7,63.3 442.4,63.1 443.2,62.8 443.9,62.6 444.6,62.4 445.4,62.2 446.1,62.0 446.9,61.8 447.6,61.6 448.3,61.4 449.1,61.2 449.8,61.1 450.6,60.9 451.3,60.7 452.0,60.6 452.8,60.4 453.5,60.3 454.3,60.1 455.0,60.0 455.7,59.9 456.5,59.7 457.2,59.6 458.0,59.5 458.7,59.3 459.5,59.2 460.2,59.1 460.9,59.0 461.7,58.9 462.4,58.8 463.2,58.7 463.9,58.6 464.7,58.5 465.4,58.4 466.1,58.3 466.9,58.2 467.6,58.1 468.4,58.0 469.1,57.9 469.9,57.8 470.6,57.7 471.4,57.7 472.1,57.6 472.9,57.5 473.6,57.4 474.3,57.4 475.1,57.3 475.8,57.2 476.6,57.2 477.3,57.1 478.1,57.0 478.8,57.0 479.6,56.9 480.3,56.9 481.1,56.8 481.8,56.7 482.6,56.7 483.3,56.6 484.0,56.6 484.8,56.5 485.5,56.5 486.3,56.4 487.0,56.4 487.8,56.4 488.5,56.3 489.3,56.3 490.0,56.2 490.8,56.2 491.5,56.2 492.3,56.1 493.0,56.1 493.8,56.0 494.5,56.0 495.3,56.0 496.0,55.9 496.8,55.9 497.5,55.9 498.3,55.8 499.0,55.8 499.8,55.8 500.5,55.7 501.2,55.7 502.0,55.7 502.7,55.7 503.5,55.6 504.2,55.6 505.0,55.6 505.7,55.6 506.5,55.5 507.2,55.5 508.0,55.5 508.7,55.5 509.5,55.4 510.2,55.4 511.0,55.4 511.7,55.4 512.5,55.4 513.2,55.3 514.0,55.3 514.7,55.3 515.5,55.3 516.2,55.3 517.0,55.3 517.7,55.2 518.5,55.2 519.2,55.2 520.0,55.2 520.7,55.2 521.5,55.2 522.2,55.1 523.0,55.1 523.7,55.1 524.5,55.1 525.2,55.1 526.0,55.1 526.7,55.1 527.5,55.0 528.2,55.0 529.0,55.0 529.7,55.0 530.5,55.0 531.2,55.0 532.0,55.0 532.7,55.0 533.5,55.0 534.2,54.9 535.0,54.9 535.7,54.9 536.5,54.9 537.2,54.9 538.0,54.9 538.7,54.9 539.5,54.9 540.2,54.9 541.0,54.9 541.7,54.8 541.7,52.2 540.9,52.3 540.2,52.3 539.4,52.3 538.7,52.3 537.9,52.3 537.2,52.3 536.4,52.3 535.7,52.3 534.9,52.3 534.2,52.3 533.4,52.3 532.7,52.3 531.9,52.3 531.2,52.3 530.4,52.3 529.7,52.3 528.9,52.3 528.2,52.3 527.4,52.3 526.7,52.3 525.9,52.3 525.2,52.4 524.4,52.4 523.7,52.4 522.9,52.4 522.2,52.4 521.4,52.4 520.7,52.4 519.9,52.4 519.2,52.4 518.4,52.4 517.7,52.4 516.9,52.5 516.2,52.5 515.4,52.5 514.7,52.5 513.9,52.5 513.2,52.5 512.4,52.5 511.7,52.5 510.9,52.6 510.2,52.6 509.4,52.6 508.7,52.6 507.9,52.6 507.2,52.6 506.4,52.7 505.7,52.7 504.9,52.7 504.2,52.7 503.4,52.7 502.7,52.7 501.9,52.8 501.2,52.8 500.4,52.8 499.6,52.8 498.9,52.9 498.1,52.9 497.4,52.9 496.6,52.9 495.9,53.0 495.1,53.0 494.4,53.0 493.6,53.0 492.9,53.1 492.1,53.1 491.4,53.1 490.6,53.2 489.9,53.2 489.1,53.2 488.4,53.3 487.6,53.3 486.9,53.4 486.1,53.4 485.4,53.4 484.6,53.5 483.9,53.5 483.1,53.6 482.3,53.6 481.6,53.7 480.8,53.7 480.1,53.8 479.3,53.8 478.6,53.9 477.8,53.9 477.1,54.0 476.3,54.0 475.6,54.1 474.8,54.2 474.1,54.2 473.3,54.3 472.5,54.4 471.8,54.4 471.0,54.5 470.3,54.6 469.5,54.7 468.8,54.7 468.0,54.8 467.3,54.9 466.5,55.0 465.8,55.1 465.0,55.2 464.2,55.3 463.5,55.3 462.7,55.4 462.0,55.5 461.2,55.7 460.5,55.8 459.7,55.9 458.9,56.0 458.2,56.1 457.4,56.2 456.7,56.3 455.9,56.5 455.2,56.6 454.4,56.7 453.6,56.9 452.9,57.0 452.1,57.2 451.4,57.3 450.6,57.5 449.8,57.6 449.1,57.8 448.3,58.0 447.6,58.1 446.8,58.3 446.0,58.5 445.3,58.7 444.5,58.9 443.8,59.1 443.0,59.3 442.2,59.5 441.5,59.7 440.7,59.9 439.9,60.1 439.1,60.3 438.4,60.6 437.6,60.8 436.8,61.0 436.1,61.3 435.3,61.5 434.5,61.8 433.7,62.1 433.0,62.4 432.2,62.7 431.4,63.0 430.6,63.3 429.9,63.6 429.1,63.9 428.3,64.3 427.5,64.7 426.7,65.0 425.9,65.4 425.2,65.8 424.4,66.2 423.6,66.6 422.8,67.1 422.0,67.6 421.2,68.0 420.4,68.6 419.6,69.1 418.8,69.6 418.0,70.2 417.2,70.8 416.4,71.5 415.6,72.1 414.8,72.9 414.0,73.6 413.2,74.4 412.4,75.2 411.5,76.1 410.7,77.1 409.9,78.1 409.1,79.1 408.3,80.2 407.5,81.4 406.7,82.7 405.9,84.0 405.1,85.4 404.3,86.9 403.5,88.4 402.8,90.1 402.0,91.8 401.3,93.6 400.5,95.5 399.8,97.5 399.0,99.5 398.3,101.6 397.6,103.8 396.8,106.0 396.1,108.3 395.4,110.6 394.6,112.9 393.9,115.2 393.2,117.5 392.4,119.7 391.7,121.8 391.0,123.8 390.3,125.6 389.6,127.2" fill="#8e9df4"/>
<polyline points="391.7,128.1 392.4,126.5 393.2,124.6 393.9,122.6 394.7,120.4 395.4,118.2 396.2,116.0 396.9,113.7 397.7,111.4 398.4,109.1 399.2,106.8 399.9,104.6 400.7,102.5 401.4,100.4 402.2,98.4 402.9,96.5 403.7,94.6 404.4,92.9 405.2,91.2 405.9,89.6 406.7,88.1 407.4,86.7 408.2,85.3 408.9,84.0 409.7,82.8 410.4,81.7 411.2,80.6 411.9,79.6 412.7,78.7 413.4,77.8 414.2,76.9 414.9,76.1 415.7,75.4 416.4,74.6 417.2,73.9 417.9,73.3 418.7,72.7 419.4,72.1 420.2,71.5 420.9,71.0 421.7,70.5 422.4,70.0 423.2,69.5 423.9,69.0 424.7,68.6 425.4,68.1 426.2,67.7 426.9,67.3 427.7,66.9 428.4,66.6 429.2,66.2 429.9,65.8 430.7,65.5 431.4,65.2 432.2,64.8 432.9,64.5 433.7,64.2 434.4,63.9 435.2,63.6 435.9,63.3 436.7,63.1 437.4,62.8 438.2,62.6 438.9,62.3 439.7,62.1 440.4,61.8 441.2,61.6 441.9,61.4 442.7,61.1 443.4,60.9 444.2,60.7 444.9,60.5 445.7,60.3 446.4,60.1 447.2,60.0 447.9,59.8 448.7,59.6 449.4,59.4 450.2,59.3 451.0,59.1 451.7,59.0 452.5,58.8 453.2,58.7 453.9,58.5 454.7,58.4 455.4,58.2 456.2,58.1 457.0,58.0 457.7,57.8 458.5,57.7 459.2,57.6 460.0,57.5 460.7,57.4 461.5,57.3 462.2,57.2 463.0,57.1 463.7,57.0 464.5,56.9 465.2,56.8 466.0,56.7 466.7,56.6 467.5,56.5 468.2,56.4 469.0,56.3 469.7,56.2 470.5,56.2 471.2,56.1 472.0,56.0 472.7,55.9 473.5,55.9 474.2,55.8 475.0,55.7 475.7,55.7 476.5,55.6 477.2,55.5 478.0,55.5 478.7,55.4 479.5,55.4 480.2,55.3 481.0,55.3 481.7,55.2 482.5,55.2 483.2,55.1 484.0,55.1 484.7,55.0 485.5,55.0 486.2,54.9 487.0,54.9 487.7,54.8 488.5,54.8 489.2,54.8 490.0,54.7 490.7,54.7 491.5,54.6 492.2,54.6 493.0,54.6 493.7,54.5 494.5,54.5 495.2,54.5 496.0,54.4 496.7,54.4 497.5,54.4 498.2,54.4 499.0,54.3 499.7,54.3 500.5,54.3 501.2,54.3 502.0,54.2 502.7,54.2 503.5,54.2 504.2,54.2 505.0,54.1 505.7,54.1 506.5,54.1 507.2,54.1 508.0,54.1 508.7,54.0 509.5,54.0 510.2,54.0 511.0,54.0 511.7,54.0 512.5,53.9 513.2,53.9 514.0,53.9 514.7,53.9 515.5,53.9 516.2,53.9 517.0,53.9 517.7,53.8 518.5,53.8 519.2,53.8 520.0,53.8 520.7,53.8 521.5,53.8 522.2,53.8 523.0,53.8 523.7,53.7 524.5,53.7 525.2,53.7 526.0,53.7 526.7,53.7 527.5,53.7 528.2,53.7 529.0,53.7 529.7,53.7 530.5,53.7 531.2,53.6 532.0,53.6 532.7,53.6 533.5,53.6 534.2,53.6 535.0,53.6 535.7,53.6 536.5,53.6 537.2,53.6 538.0,53.6 538.7,53.6 539.5,53.6 540.2,53.6 541.0,53.6 541.7,53.5" fill="none" stroke="#1414d2" stroke-width="1.9" stroke-linejoin="round"/>
<rect x="391.7" y="16.1" width="150.00" height="116.00" fill="none" stroke="#bdbdbd" stroke-width="1"/>
<path d="M391.70,132.1v-1.4M391.70,16.1v1.4M429.20,132.1v-1.4M429.20,16.1v1.4M466.70,132.1v-1.4M466.70,16.1v1.4M504.20,132.1v-1.4M504.20,16.1v1.4M541.70,132.1v-1.4M541.70,16.1v1.4M391.7,132.10h1.4M541.7,132.10h-1.4M391.7,117.60h1.4M541.7,117.60h-1.4M391.7,103.10h1.4M541.7,103.10h-1.4M391.7,88.60h1.4M541.7,88.60h-1.4M391.7,74.10h1.4M541.7,74.10h-1.4M391.7,59.60h1.4M541.7,59.60h-1.4M391.7,45.10h1.4M541.7,45.10h-1.4M391.7,30.60h1.4M541.7,30.60h-1.4M391.7,16.10h1.4M541.7,16.10h-1.4" stroke="#555" stroke-width="0.6" fill="none"/>
<text x="389.10" y="134.30" text-anchor="end" class="tk">0.2</text>
<text x="389.10" y="119.80" text-anchor="end" class="tk">0.3</text>
<text x="389.10" y="105.30" text-anchor="end" class="tk">0.4</text>
<text x="389.10" y="90.80" text-anchor="end" class="tk">0.5</text>
<text x="389.10" y="76.30" text-anchor="end" class="tk">0.6</text>
<text x="389.10" y="61.80" text-anchor="end" class="tk">0.7</text>
<text x="389.10" y="47.30" text-anchor="end" class="tk">0.8</text>
<text x="389.10" y="32.80" text-anchor="end" class="tk">0.9</text>
<text x="389.10" y="18.30" text-anchor="end" class="tk">1</text>
<text x="391.70" y="140.30" text-anchor="middle" class="tk">0</text>
<text x="429.20" y="140.30" text-anchor="middle" class="tk">100</text>
<text x="466.70" y="140.30" text-anchor="middle" class="tk">200</text>
<text x="504.20" y="140.30" text-anchor="middle" class="tk">300</text>
<text x="541.70" y="140.30" text-anchor="middle" class="tk">400</text>
<text x="466.70" y="149.50" text-anchor="middle" class="xl">Iteration Number</text>
<text transform="translate(378.80,74.10) rotate(-90)" text-anchor="middle" class="yl">ME</text>
<text x="466.70" y="11.70" text-anchor="middle" class="ti" textLength="62.3" lengthAdjust="spacingAndGlyphs">SPGD: Δ<tspan font-style="italic">u</tspan>=1</text>
<rect x="461.7" y="112.6" width="76.00" height="15.70" fill="#fff" stroke="#a8a8a8" stroke-width="0.8"/>
<path d="M462.90,117.78h14" stroke="#cde6f8" stroke-width="0.8" stroke-dasharray="0.8 1.4"/>
<path d="M462.10,124.69h15.2" stroke="#3c44ee" stroke-width="2.0"/>
<text x="478.30" y="119.68" class="lg">100 simulations (SPGD)</text>
<text x="478.30" y="126.99" class="lg">Mean and std (SPGD)</text>
<text x="466.70" y="161.80" text-anchor="middle" class="sc">(c)</text>
<rect x="26.5" y="185.4" width="150.00" height="116.40" fill="#fff"/>
<path d="M64.00,185.4V301.8M101.50,185.4V301.8M139.00,185.4V301.8M26.5,287.25H176.5M26.5,272.70H176.5M26.5,258.15H176.5M26.5,243.60H176.5M26.5,229.05H176.5M26.5,214.50H176.5M26.5,199.95H176.5" stroke="#eeeeee" stroke-width="0.7" fill="none"/>
<polygon points="28.9,299.2 29.9,297.7 30.8,295.9 31.8,294.0 32.7,292.0 33.6,289.9 34.5,287.7 35.4,285.5 36.3,283.3 37.2,281.0 38.1,278.7 38.9,276.4 39.8,274.2 40.7,271.9 41.6,269.7 42.5,267.5 43.3,265.3 44.1,263.2 44.9,261.1 45.7,259.1 46.5,257.1 47.3,255.2 48.1,253.3 48.9,251.5 49.7,249.7 50.5,248.0 51.2,246.3 52.0,244.8 52.8,243.2 53.6,241.8 54.4,240.4 55.0,239.0 55.7,237.6 56.4,236.3 57.1,235.1 57.8,233.9 58.4,232.8 59.1,231.7 59.8,230.7 60.4,229.7 61.1,228.8 61.8,227.9 62.4,227.0 63.1,226.2 63.7,225.4 64.4,224.7 65.0,223.9 65.7,223.3 66.3,222.6 67.0,222.0 67.6,221.4 68.2,220.8 68.8,220.2 69.5,219.6 70.1,219.1 70.7,218.6 71.4,218.1 72.0,217.6 72.6,217.2 73.3,216.7 73.9,216.3 74.6,215.9 75.2,215.5 75.9,215.1 76.5,214.7 77.2,214.4 77.9,214.0 78.5,213.7 79.2,213.3 79.9,213.0 80.6,212.7 81.2,212.4 81.9,212.1 82.6,211.8 83.3,211.5 84.0,211.2 84.7,211.0 85.4,210.8 86.1,210.6 86.8,210.4 87.6,210.2 88.3,210.0 89.0,209.8 89.7,209.6 90.4,209.4 91.2,209.3 91.9,209.1 92.6,208.9 93.3,208.8 94.1,208.6 94.8,208.4 95.5,208.3 96.2,208.1 97.0,208.0 97.7,207.9 98.4,207.7 99.2,207.6 99.9,207.5 100.6,207.3 101.4,207.2 102.1,207.1 102.8,207.0 103.6,206.9 104.3,206.7 105.0,206.6 105.8,206.5 106.5,206.4 107.2,206.3 108.0,206.2 108.7,206.1 109.5,206.0 110.2,205.9 110.9,205.8 111.7,205.7 112.4,205.6 113.2,205.5 113.9,205.4 114.6,205.4 115.4,205.3 116.1,205.2 116.9,205.1 117.6,205.0 118.3,204.9 119.1,204.9 119.8,204.8 120.6,204.7 121.3,204.6 122.1,204.6 122.8,204.5 123.5,204.4 124.3,204.4 125.0,204.3 125.8,204.2 126.5,204.2 127.3,204.1 128.0,204.0 128.8,204.0 129.5,203.9 130.2,203.8 131.0,203.8 131.7,203.7 132.5,203.7 133.2,203.6 134.0,203.6 134.7,203.5 135.5,203.5 136.2,203.4 136.9,203.3 137.7,203.3 138.4,203.2 139.2,203.2 139.9,203.1 140.7,203.1 141.4,203.0 142.2,203.0 142.9,203.0 143.7,202.9 144.4,202.9 145.2,202.8 145.9,202.8 146.6,202.7 147.4,202.7 148.1,202.7 148.9,202.6 149.6,202.6 150.4,202.5 151.1,202.5 151.9,202.5 152.6,202.4 153.4,202.4 154.1,202.3 154.9,202.3 155.6,202.3 156.4,202.2 157.1,202.2 157.9,202.2 158.6,202.1 159.4,202.1 160.1,202.1 160.8,202.0 161.6,202.0 162.3,202.0 163.1,201.9 163.8,201.9 164.6,201.9 165.3,201.9 166.1,201.8 166.8,201.8 167.6,201.8 168.3,201.7 169.1,201.7 169.8,201.7 170.6,201.7 171.3,201.6 172.1,201.6 172.8,201.6 173.6,201.6 174.3,201.5 175.1,201.5 175.8,201.5 176.6,201.5 176.4,195.5 175.7,195.5 174.9,195.5 174.2,195.5 173.4,195.5 172.7,195.5 171.9,195.5 171.2,195.5 170.4,195.5 169.7,195.5 168.9,195.5 168.2,195.5 167.4,195.5 166.7,195.5 165.9,195.6 165.2,195.6 164.4,195.6 163.7,195.6 162.9,195.6 162.2,195.6 161.4,195.6 160.7,195.6 159.9,195.7 159.1,195.7 158.4,195.7 157.6,195.7 156.9,195.7 156.1,195.7 155.4,195.7 154.6,195.8 153.9,195.8 153.1,195.8 152.4,195.8 151.6,195.8 150.9,195.8 150.1,195.9 149.4,195.9 148.6,195.9 147.9,195.9 147.1,196.0 146.4,196.0 145.6,196.0 144.8,196.0 144.1,196.0 143.3,196.1 142.6,196.1 141.8,196.1 141.1,196.2 140.3,196.2 139.6,196.2 138.8,196.2 138.1,196.3 137.3,196.3 136.6,196.3 135.8,196.4 135.0,196.4 134.3,196.4 133.5,196.5 132.8,196.5 132.0,196.6 131.3,196.6 130.5,196.6 129.8,196.7 129.0,196.7 128.2,196.8 127.5,196.8 126.7,196.8 126.0,196.9 125.2,196.9 124.5,197.0 123.7,197.0 123.0,197.1 122.2,197.1 121.4,197.2 120.7,197.2 119.9,197.3 119.2,197.4 118.4,197.4 117.7,197.5 116.9,197.5 116.1,197.6 115.4,197.7 114.6,197.7 113.9,197.8 113.1,197.9 112.3,197.9 111.6,198.0 110.8,198.1 110.1,198.2 109.3,198.2 108.5,198.3 107.8,198.4 107.0,198.5 106.3,198.6 105.5,198.7 104.7,198.8 104.0,198.9 103.2,199.0 102.4,199.1 101.7,199.2 100.9,199.3 100.1,199.4 99.4,199.5 98.6,199.6 97.8,199.7 97.1,199.8 96.3,200.0 95.5,200.1 94.8,200.2 94.0,200.3 93.2,200.5 92.4,200.6 91.7,200.8 90.9,200.9 90.1,201.1 89.3,201.2 88.6,201.4 87.8,201.6 87.0,201.8 86.2,202.0 85.4,202.1 84.7,202.3 83.9,202.6 83.1,202.8 82.3,203.0 81.5,203.2 80.7,203.4 79.9,203.6 79.1,203.9 78.3,204.1 77.4,204.3 76.6,204.6 75.8,204.9 75.0,205.2 74.1,205.5 73.3,205.8 72.5,206.1 71.6,206.5 70.8,206.8 69.9,207.2 69.1,207.6 68.2,208.0 67.4,208.5 66.5,209.0 65.6,209.5 64.8,210.0 63.9,210.5 63.0,211.1 62.2,211.7 61.3,212.4 60.4,213.0 59.5,213.8 58.7,214.5 57.8,215.3 57.0,216.1 56.1,217.0 55.3,217.9 54.4,218.8 53.6,219.8 52.7,220.8 51.9,221.9 51.1,223.0 50.2,224.1 49.4,225.3 48.6,226.5 47.7,227.8 46.9,229.1 46.1,230.5 45.3,231.9 44.5,233.4 43.6,235.0 42.9,236.6 42.2,238.2 41.5,240.0 40.8,241.7 40.0,243.5 39.3,245.4 38.6,247.3 37.9,249.3 37.2,251.3 36.5,253.4 35.8,255.5 35.1,257.7 34.4,259.8 33.7,262.1 33.0,264.3 32.4,266.7 31.8,269.0 31.2,271.3 30.6,273.7 29.9,276.1 29.3,278.4 28.7,280.8 28.1,283.1 27.5,285.4 26.9,287.6 26.3,289.7 25.7,291.7 25.2,293.5 24.6,295.0 24.1,296.1" fill="#fef4f5"/>
<polygon points="28.2,298.8 29.2,297.3 30.1,295.6 31.0,293.7 31.9,291.7 32.7,289.6 33.6,287.4 34.4,285.2 35.3,282.9 36.2,280.7 37.0,278.4 37.9,276.1 38.7,273.8 39.6,271.5 40.4,269.3 41.3,267.1 42.0,264.9 42.8,262.8 43.6,260.7 44.4,258.6 45.2,256.6 46.0,254.7 46.8,252.8 47.6,250.9 48.3,249.1 49.1,247.4 49.9,245.7 50.7,244.1 51.4,242.6 52.2,241.1 53.0,239.7 53.7,238.2 54.4,236.9 55.1,235.6 55.8,234.3 56.5,233.1 57.2,232.0 57.8,230.9 58.5,229.8 59.2,228.8 59.9,227.9 60.6,227.0 61.3,226.1 61.9,225.2 62.6,224.4 63.3,223.7 64.0,222.9 64.6,222.2 65.3,221.5 66.0,220.9 66.7,220.3 67.3,219.7 68.0,219.1 68.6,218.5 69.3,218.0 70.0,217.5 70.6,217.0 71.3,216.5 72.0,216.0 72.6,215.6 73.3,215.2 74.0,214.8 74.7,214.4 75.3,214.0 76.0,213.6 76.7,213.2 77.4,212.9 78.1,212.6 78.8,212.2 79.5,211.9 80.2,211.6 80.9,211.3 81.6,211.0 82.3,210.7 83.0,210.5 83.7,210.2 84.4,210.0 85.1,209.8 85.8,209.5 86.6,209.3 87.3,209.1 88.0,208.9 88.7,208.8 89.5,208.6 90.2,208.4 90.9,208.2 91.6,208.0 92.4,207.9 93.1,207.7 93.8,207.6 94.6,207.4 95.3,207.3 96.0,207.1 96.8,207.0 97.5,206.8 98.2,206.7 99.0,206.6 99.7,206.4 100.5,206.3 101.2,206.2 101.9,206.1 102.7,206.0 103.4,205.8 104.2,205.7 104.9,205.6 105.6,205.5 106.4,205.4 107.1,205.3 107.9,205.2 108.6,205.1 109.3,205.0 110.1,204.9 110.8,204.8 111.6,204.7 112.3,204.6 113.1,204.5 113.8,204.5 114.5,204.4 115.3,204.3 116.0,204.2 116.8,204.1 117.5,204.1 118.3,204.0 119.0,203.9 119.7,203.8 120.5,203.8 121.2,203.7 122.0,203.6 122.7,203.5 123.5,203.5 124.2,203.4 125.0,203.3 125.7,203.3 126.5,203.2 127.2,203.2 127.9,203.1 128.7,203.0 129.4,203.0 130.2,202.9 130.9,202.9 131.7,202.8 132.4,202.7 133.2,202.7 133.9,202.6 134.7,202.6 135.4,202.5 136.1,202.5 136.9,202.4 137.6,202.4 138.4,202.3 139.1,202.3 139.9,202.2 140.6,202.2 141.4,202.2 142.1,202.1 142.9,202.1 143.6,202.0 144.4,202.0 145.1,201.9 145.9,201.9 146.6,201.9 147.4,201.8 148.1,201.8 148.9,201.7 149.6,201.7 150.3,201.7 151.1,201.6 151.8,201.6 152.6,201.6 153.3,201.5 154.1,201.5 154.8,201.5 155.6,201.4 156.3,201.4 157.1,201.4 157.8,201.3 158.6,201.3 159.3,201.3 160.1,201.2 160.8,201.2 161.6,201.2 162.3,201.1 163.1,201.1 163.8,201.1 164.6,201.1 165.3,201.0 166.1,201.0 166.8,201.0 167.6,201.0 168.3,200.9 169.1,200.9 169.8,200.9 170.6,200.9 171.3,200.8 172.1,200.8 172.8,200.8 173.5,200.8 174.3,200.7 175.0,200.7 175.8,200.7 176.5,200.7 176.5,196.2 175.7,196.2 175.0,196.2 174.2,196.3 173.5,196.3 172.7,196.3 171.9,196.3 171.2,196.3 170.4,196.3 169.7,196.3 168.9,196.3 168.2,196.3 167.4,196.3 166.7,196.4 165.9,196.4 165.2,196.4 164.4,196.4 163.7,196.4 162.9,196.4 162.2,196.4 161.4,196.5 160.7,196.5 159.9,196.5 159.2,196.5 158.4,196.5 157.7,196.5 156.9,196.6 156.2,196.6 155.4,196.6 154.7,196.6 153.9,196.6 153.2,196.6 152.4,196.7 151.7,196.7 150.9,196.7 150.2,196.7 149.4,196.8 148.6,196.8 147.9,196.8 147.1,196.8 146.4,196.9 145.6,196.9 144.9,196.9 144.1,196.9 143.4,197.0 142.6,197.0 141.9,197.0 141.1,197.1 140.4,197.1 139.6,197.1 138.9,197.1 138.1,197.2 137.4,197.2 136.6,197.2 135.9,197.3 135.1,197.3 134.3,197.4 133.6,197.4 132.8,197.4 132.1,197.5 131.3,197.5 130.6,197.6 129.8,197.6 129.1,197.6 128.3,197.7 127.6,197.7 126.8,197.8 126.0,197.8 125.3,197.9 124.5,197.9 123.8,198.0 123.0,198.0 122.3,198.1 121.5,198.2 120.8,198.2 120.0,198.3 119.3,198.3 118.5,198.4 117.7,198.5 117.0,198.5 116.2,198.6 115.5,198.6 114.7,198.7 114.0,198.8 113.2,198.9 112.4,198.9 111.7,199.0 110.9,199.1 110.2,199.2 109.4,199.2 108.7,199.3 107.9,199.4 107.1,199.5 106.4,199.6 105.6,199.7 104.9,199.8 104.1,199.9 103.3,200.0 102.6,200.1 101.8,200.2 101.1,200.3 100.3,200.4 99.5,200.5 98.8,200.6 98.0,200.7 97.3,200.9 96.5,201.0 95.7,201.1 95.0,201.2 94.2,201.4 93.4,201.5 92.7,201.7 91.9,201.8 91.1,202.0 90.4,202.1 89.6,202.3 88.8,202.5 88.0,202.6 87.3,202.8 86.5,203.0 85.7,203.2 84.9,203.4 84.2,203.6 83.4,203.8 82.6,204.0 81.8,204.3 81.0,204.5 80.2,204.7 79.4,204.9 78.6,205.2 77.8,205.4 77.0,205.7 76.2,206.0 75.4,206.3 74.6,206.6 73.8,206.9 73.0,207.2 72.2,207.6 71.3,207.9 70.5,208.3 69.7,208.7 68.9,209.2 68.0,209.6 67.2,210.1 66.4,210.6 65.5,211.1 64.7,211.7 63.9,212.2 63.0,212.8 62.2,213.5 61.3,214.1 60.5,214.8 59.7,215.6 58.9,216.3 58.0,217.1 57.2,218.0 56.4,218.9 55.6,219.8 54.7,220.7 53.9,221.7 53.1,222.8 52.3,223.8 51.5,225.0 50.7,226.1 49.8,227.4 49.0,228.6 48.2,229.9 47.4,231.3 46.6,232.7 45.8,234.1 45.0,235.7 44.3,237.2 43.6,238.9 42.8,240.6 42.1,242.3 41.4,244.1 40.7,246.0 39.9,247.9 39.2,249.8 38.5,251.8 37.8,253.9 37.1,256.0 36.4,258.1 35.7,260.3 35.0,262.5 34.2,264.8 33.6,267.1 32.9,269.4 32.3,271.7 31.6,274.1 31.0,276.4 30.3,278.8 29.7,281.1 29.1,283.4 28.4,285.7 27.8,287.9 27.1,290.0 26.5,292.0 25.9,293.8 25.3,295.4 24.8,296.5" fill="#fde8eb"/>
<polygon points="27.7,298.4 28.6,297.0 29.4,295.3 30.3,293.4 31.1,291.4 31.9,289.3 32.7,287.1 33.6,284.9 34.4,282.6 35.2,280.3 36.0,278.0 36.8,275.8 37.7,273.5 38.5,271.2 39.3,268.9 40.1,266.7 40.9,264.5 41.7,262.4 42.5,260.3 43.2,258.2 44.0,256.2 44.8,254.2 45.5,252.3 46.3,250.4 47.1,248.6 47.9,246.9 48.6,245.2 49.4,243.6 50.2,242.0 50.9,240.5 51.7,239.0 52.4,237.6 53.1,236.2 53.8,234.9 54.5,233.6 55.3,232.4 56.0,231.2 56.7,230.1 57.4,229.1 58.1,228.0 58.8,227.0 59.5,226.1 60.2,225.2 60.9,224.3 61.6,223.5 62.3,222.7 63.0,222.0 63.7,221.3 64.4,220.6 65.1,219.9 65.8,219.3 66.5,218.7 67.2,218.1 67.9,217.5 68.6,217.0 69.2,216.5 69.9,215.9 70.6,215.5 71.3,215.0 72.0,214.6 72.7,214.1 73.4,213.7 74.1,213.3 74.8,212.9 75.5,212.6 76.2,212.2 76.9,211.9 77.6,211.5 78.4,211.2 79.1,210.9 79.8,210.6 80.5,210.3 81.2,210.0 81.9,209.8 82.7,209.5 83.4,209.2 84.1,209.0 84.8,208.8 85.6,208.6 86.3,208.4 87.0,208.2 87.8,208.0 88.5,207.8 89.2,207.6 90.0,207.4 90.7,207.3 91.4,207.1 92.2,206.9 92.9,206.8 93.7,206.6 94.4,206.5 95.1,206.3 95.9,206.2 96.6,206.0 97.3,205.9 98.1,205.8 98.8,205.6 99.6,205.5 100.3,205.4 101.1,205.3 101.8,205.1 102.5,205.0 103.3,204.9 104.0,204.8 104.8,204.7 105.5,204.6 106.3,204.5 107.0,204.4 107.7,204.3 108.5,204.2 109.2,204.1 110.0,204.0 110.7,203.9 111.5,203.8 112.2,203.7 113.0,203.6 113.7,203.6 114.4,203.5 115.2,203.4 115.9,203.3 116.7,203.2 117.4,203.2 118.2,203.1 118.9,203.0 119.7,202.9 120.4,202.9 121.2,202.8 121.9,202.7 122.7,202.7 123.4,202.6 124.1,202.5 124.9,202.5 125.6,202.4 126.4,202.3 127.1,202.3 127.9,202.2 128.6,202.2 129.4,202.1 130.1,202.1 130.9,202.0 131.6,201.9 132.4,201.9 133.1,201.8 133.9,201.8 134.6,201.7 135.4,201.7 136.1,201.6 136.8,201.6 137.6,201.5 138.3,201.5 139.1,201.5 139.8,201.4 140.6,201.4 141.3,201.3 142.1,201.3 142.8,201.2 143.6,201.2 144.3,201.2 145.1,201.1 145.8,201.1 146.6,201.0 147.3,201.0 148.1,201.0 148.8,200.9 149.6,200.9 150.3,200.9 151.1,200.8 151.8,200.8 152.6,200.8 153.3,200.7 154.1,200.7 154.8,200.7 155.6,200.6 156.3,200.6 157.1,200.6 157.8,200.6 158.6,200.5 159.3,200.5 160.0,200.5 160.8,200.4 161.5,200.4 162.3,200.4 163.0,200.4 163.8,200.3 164.5,200.3 165.3,200.3 166.0,200.3 166.8,200.2 167.5,200.2 168.3,200.2 169.0,200.2 169.8,200.1 170.5,200.1 171.3,200.1 172.0,200.1 172.8,200.1 173.5,200.0 174.3,200.0 175.0,200.0 175.8,200.0 176.5,200.0 176.5,197.0 175.7,197.0 175.0,197.0 174.2,197.0 173.5,197.0 172.7,197.0 172.0,197.0 171.2,197.0 170.5,197.0 169.7,197.1 169.0,197.1 168.2,197.1 167.5,197.1 166.7,197.1 166.0,197.1 165.2,197.1 164.5,197.2 163.7,197.2 163.0,197.2 162.2,197.2 161.5,197.2 160.7,197.2 160.0,197.3 159.2,197.3 158.4,197.3 157.7,197.3 156.9,197.3 156.2,197.4 155.4,197.4 154.7,197.4 153.9,197.4 153.2,197.4 152.4,197.5 151.7,197.5 150.9,197.5 150.2,197.5 149.4,197.6 148.7,197.6 147.9,197.6 147.2,197.6 146.4,197.7 145.7,197.7 144.9,197.7 144.2,197.8 143.4,197.8 142.7,197.8 141.9,197.8 141.2,197.9 140.4,197.9 139.7,197.9 138.9,198.0 138.2,198.0 137.4,198.1 136.7,198.1 135.9,198.1 135.1,198.2 134.4,198.2 133.6,198.2 132.9,198.3 132.1,198.3 131.4,198.4 130.6,198.4 129.9,198.5 129.1,198.5 128.4,198.6 127.6,198.6 126.9,198.7 126.1,198.7 125.4,198.8 124.6,198.8 123.9,198.9 123.1,198.9 122.3,199.0 121.6,199.0 120.8,199.1 120.1,199.2 119.3,199.2 118.6,199.3 117.8,199.3 117.1,199.4 116.3,199.5 115.6,199.5 114.8,199.6 114.1,199.7 113.3,199.8 112.5,199.8 111.8,199.9 111.0,200.0 110.3,200.1 109.5,200.2 108.8,200.2 108.0,200.3 107.3,200.4 106.5,200.5 105.7,200.6 105.0,200.7 104.2,200.8 103.5,200.9 102.7,201.0 102.0,201.1 101.2,201.2 100.4,201.3 99.7,201.4 98.9,201.6 98.2,201.7 97.4,201.8 96.7,201.9 95.9,202.1 95.1,202.2 94.4,202.3 93.6,202.5 92.8,202.6 92.1,202.8 91.3,202.9 90.6,203.1 89.8,203.2 89.0,203.4 88.3,203.6 87.5,203.8 86.7,204.0 86.0,204.2 85.2,204.4 84.4,204.6 83.7,204.8 82.9,205.0 82.1,205.2 81.3,205.5 80.6,205.7 79.8,205.9 79.0,206.2 78.2,206.4 77.4,206.7 76.6,207.0 75.9,207.3 75.1,207.6 74.3,207.9 73.5,208.3 72.7,208.6 71.9,209.0 71.1,209.4 70.3,209.8 69.5,210.2 68.7,210.7 67.9,211.1 67.1,211.6 66.3,212.1 65.4,212.7 64.6,213.3 63.8,213.8 63.0,214.5 62.2,215.1 61.4,215.8 60.6,216.5 59.8,217.3 59.0,218.1 58.2,218.9 57.4,219.8 56.6,220.7 55.8,221.6 55.0,222.6 54.2,223.6 53.4,224.7 52.6,225.8 51.8,226.9 51.0,228.1 50.2,229.3 49.5,230.6 48.7,232.0 47.9,233.4 47.1,234.8 46.3,236.3 45.6,237.9 44.8,239.5 44.1,241.2 43.4,242.9 42.6,244.7 41.9,246.5 41.2,248.4 40.5,250.3 39.7,252.3 39.0,254.3 38.3,256.4 37.5,258.5 36.8,260.7 36.1,262.9 35.4,265.1 34.7,267.4 34.0,269.7 33.3,272.1 32.7,274.4 32.0,276.7 31.3,279.1 30.6,281.4 29.9,283.7 29.3,285.9 28.6,288.1 27.9,290.3 27.2,292.2 26.6,294.1 25.9,295.7 25.3,296.9" fill="#fbd9dd"/>
<polygon points="28.6,299.0 29.6,297.5 30.6,295.8 31.5,293.9 32.4,291.9 33.3,289.8 34.1,287.6 35.0,285.4 35.9,283.1 36.8,280.9 37.7,278.6 38.5,276.3 39.4,274.0 40.3,271.8 41.1,269.6 42.0,267.4 42.8,265.2 43.6,263.0 44.4,260.9 45.2,258.9 46.0,256.9 46.8,255.0 47.6,253.1 48.4,251.3 49.2,249.5 49.9,247.8 50.7,246.1 51.5,244.5 52.3,243.0 53.1,241.5 53.8,240.1 54.5,238.7 55.2,237.3 55.9,236.1 56.6,234.8 57.3,233.6 57.9,232.5 58.6,231.4 59.3,230.4 60.0,229.4 60.6,228.4 61.3,227.5 62.0,226.7 62.6,225.8 63.3,225.0 64.0,224.3 64.6,223.5 65.3,222.9 65.9,222.2 66.6,221.6 67.2,220.9 67.9,220.3 68.5,219.8 69.2,219.2 69.8,218.7 70.4,218.2 71.1,217.7 71.7,217.2 72.4,216.7 73.0,216.3 73.7,215.9 74.3,215.5 75.0,215.1 75.7,214.7 76.3,214.3 77.0,213.9 77.7,213.6 78.4,213.2 79.0,212.9 79.7,212.6 80.4,212.3 81.1,212.0 81.8,211.7 82.5,211.4 83.2,211.1 83.9,210.8 84.6,210.6 85.3,210.4 86.0,210.2 86.7,210.0 87.5,209.8 88.2,209.6 88.9,209.4 89.6,209.2 90.3,209.0 91.1,208.9 91.8,208.7 92.5,208.5 93.2,208.4 94.0,208.2 94.7,208.0 95.4,207.9 96.2,207.8 96.9,207.6 97.6,207.5 98.4,207.3 99.1,207.2 99.8,207.1 100.6,206.9 101.3,206.8 102.0,206.7 102.8,206.6 103.5,206.5 104.2,206.4 105.0,206.2 105.7,206.1 106.5,206.0 107.2,205.9 107.9,205.8 108.7,205.7 109.4,205.6 110.2,205.5 110.9,205.4 111.6,205.3 112.4,205.2 113.1,205.2 113.9,205.1 114.6,205.0 115.3,204.9 116.1,204.8 116.8,204.7 117.6,204.7 118.3,204.6 119.1,204.5 119.8,204.4 120.5,204.3 121.3,204.3 122.0,204.2 122.8,204.1 123.5,204.1 124.3,204.0 125.0,203.9 125.7,203.9 126.5,203.8 127.2,203.7 128.0,203.7 128.7,203.6 129.5,203.5 130.2,203.5 131.0,203.4 131.7,203.4 132.5,203.3 133.2,203.3 133.9,203.2 134.7,203.2 135.4,203.1 136.2,203.0 136.9,203.0 137.7,202.9 138.4,202.9 139.2,202.8 139.9,202.8 140.7,202.8 141.4,202.7 142.2,202.7 142.9,202.6 143.6,202.6 144.4,202.5 145.1,202.5 145.9,202.4 146.6,202.4 147.4,202.4 148.1,202.3 148.9,202.3 149.6,202.2 150.4,202.2 151.1,202.2 151.9,202.1 152.6,202.1 153.4,202.1 154.1,202.0 154.9,202.0 155.6,201.9 156.3,201.9 157.1,201.9 157.8,201.8 158.6,201.8 159.3,201.8 160.1,201.7 160.8,201.7 161.6,201.7 162.3,201.7 163.1,201.6 163.8,201.6 164.6,201.6 165.3,201.5 166.1,201.5 166.8,201.5 167.6,201.5 168.3,201.4 169.1,201.4 169.8,201.4 170.6,201.3 171.3,201.3 172.1,201.3 172.8,201.3 173.6,201.2 174.3,201.2 175.1,201.2 175.8,201.2 176.6,201.2 176.4,195.8 175.7,195.8 174.9,195.8 174.2,195.8 173.4,195.8 172.7,195.8 171.9,195.8 171.2,195.8 170.4,195.8 169.7,195.8 168.9,195.8 168.2,195.8 167.4,195.8 166.7,195.9 165.9,195.9 165.2,195.9 164.4,195.9 163.7,195.9 162.9,195.9 162.2,195.9 161.4,195.9 160.7,196.0 159.9,196.0 159.2,196.0 158.4,196.0 157.7,196.0 156.9,196.0 156.2,196.1 155.4,196.1 154.6,196.1 153.9,196.1 153.1,196.1 152.4,196.1 151.6,196.2 150.9,196.2 150.1,196.2 149.4,196.2 148.6,196.2 147.9,196.3 147.1,196.3 146.4,196.3 145.6,196.3 144.9,196.4 144.1,196.4 143.4,196.4 142.6,196.4 141.8,196.5 141.1,196.5 140.3,196.5 139.6,196.6 138.8,196.6 138.1,196.6 137.3,196.7 136.6,196.7 135.8,196.7 135.1,196.8 134.3,196.8 133.6,196.8 132.8,196.9 132.0,196.9 131.3,196.9 130.5,197.0 129.8,197.0 129.0,197.1 128.3,197.1 127.5,197.2 126.8,197.2 126.0,197.3 125.3,197.3 124.5,197.4 123.7,197.4 123.0,197.5 122.2,197.5 121.5,197.6 120.7,197.6 120.0,197.7 119.2,197.7 118.4,197.8 117.7,197.9 116.9,197.9 116.2,198.0 115.4,198.0 114.7,198.1 113.9,198.2 113.1,198.3 112.4,198.3 111.6,198.4 110.9,198.5 110.1,198.6 109.3,198.6 108.6,198.7 107.8,198.8 107.1,198.9 106.3,199.0 105.5,199.1 104.8,199.2 104.0,199.2 103.3,199.3 102.5,199.4 101.7,199.5 101.0,199.7 100.2,199.8 99.4,199.9 98.7,200.0 97.9,200.1 97.1,200.2 96.4,200.3 95.6,200.5 94.8,200.6 94.1,200.7 93.3,200.9 92.5,201.0 91.8,201.2 91.0,201.3 90.2,201.5 89.4,201.6 88.7,201.8 87.9,202.0 87.1,202.2 86.3,202.4 85.5,202.5 84.8,202.8 84.0,203.0 83.2,203.2 82.4,203.4 81.6,203.6 80.8,203.8 80.0,204.0 79.2,204.3 78.4,204.5 77.6,204.8 76.8,205.0 76.0,205.3 75.1,205.6 74.3,205.9 73.5,206.2 72.7,206.5 71.8,206.9 71.0,207.3 70.2,207.6 69.3,208.0 68.5,208.5 67.6,208.9 66.8,209.4 65.9,209.9 65.1,210.4 64.2,211.0 63.3,211.5 62.5,212.2 61.6,212.8 60.8,213.5 59.9,214.2 59.1,214.9 58.2,215.7 57.4,216.5 56.5,217.4 55.7,218.3 54.9,219.2 54.0,220.2 53.2,221.2 52.4,222.2 51.5,223.3 50.7,224.4 49.9,225.6 49.1,226.9 48.2,228.1 47.4,229.4 46.6,230.8 45.8,232.2 45.0,233.7 44.2,235.2 43.4,236.8 42.7,238.5 42.0,240.2 41.3,242.0 40.6,243.8 39.8,245.6 39.1,247.5 38.4,249.5 37.7,251.5 37.0,253.6 36.3,255.7 35.6,257.8 34.9,260.0 34.2,262.2 33.5,264.5 32.9,266.8 32.2,269.1 31.6,271.5 31.0,273.9 30.3,276.2 29.7,278.6 29.1,280.9 28.5,283.2 27.9,285.5 27.2,287.7 26.6,289.8 26.0,291.8 25.4,293.6 24.9,295.2 24.4,296.3" fill="url(#dotred)" opacity="0.25"/>
<polyline points="27.9,298.6 30.1,294.5 32.3,289.4 34.4,283.9 36.4,278.2 38.5,272.5 40.6,266.9 42.6,261.5 44.5,256.4 46.5,251.6 48.4,247.1 50.3,243.0 52.2,239.3 54.0,235.8 55.8,232.7 57.5,229.9 59.3,227.4 61.0,225.1 62.7,223.1 64.5,221.3 66.2,219.7 67.9,218.2 69.5,216.9 71.3,215.7 73.0,214.6 74.7,213.6 76.4,212.7 78.2,211.8 79.9,211.0 81.7,210.3 83.5,209.7 85.3,209.1 87.1,208.6 89.0,208.1 90.8,207.7 92.6,207.3 94.5,206.9 96.3,206.5 98.2,206.2 100.0,205.8 101.9,205.5 103.7,205.3 105.6,205.0 107.4,204.7 109.3,204.5 111.1,204.2 113.0,204.0 114.9,203.8 116.7,203.6 118.6,203.4 120.4,203.2 122.3,203.1 124.2,202.9 126.0,202.7 127.9,202.6 129.8,202.4 131.6,202.3 133.5,202.2 135.4,202.1 137.2,201.9 139.1,201.8 141.0,201.7 142.8,201.6 144.7,201.5 146.6,201.4 148.5,201.3 150.3,201.2 152.2,201.1 154.1,201.0 155.9,201.0 157.8,200.9 159.7,200.8 161.6,200.7 163.4,200.7 165.3,200.6 167.2,200.5 169.0,200.5 170.9,200.4 172.8,200.4 174.7,200.3 176.5,200.3" fill="none" stroke="#f8b4bc" stroke-width="0.5" stroke-dasharray="0.6 1.2"/>
<polyline points="26.9,297.9 28.9,294.0 30.8,288.9 32.8,283.4 34.7,277.6 36.6,271.9 38.6,266.2 40.5,260.7 42.4,255.6 44.3,250.7 46.2,246.2 48.0,242.0 49.9,238.1 51.8,234.6 53.6,231.4 55.5,228.5 57.3,225.9 59.1,223.6 61.0,221.5 62.8,219.6 64.6,217.9 66.4,216.4 68.3,215.0 70.1,213.8 71.9,212.7 73.8,211.7 75.6,210.8 77.4,210.0 79.3,209.2 81.1,208.6 83.0,207.9 84.8,207.4 86.7,206.9 88.5,206.4 90.4,205.9 92.3,205.5 94.1,205.2 96.0,204.8 97.9,204.5 99.7,204.2 101.6,203.9 103.5,203.6 105.3,203.3 107.2,203.1 109.1,202.8 111.0,202.6 112.8,202.4 114.7,202.2 116.6,202.0 118.4,201.8 120.3,201.7 122.2,201.5 124.1,201.3 125.9,201.2 127.8,201.0 129.7,200.9 131.5,200.8 133.4,200.7 135.3,200.5 137.2,200.4 139.0,200.3 140.9,200.2 142.8,200.1 144.7,200.0 146.5,199.9 148.4,199.9 150.3,199.8 152.1,199.7 154.0,199.6 155.9,199.6 157.8,199.5 159.6,199.4 161.5,199.4 163.4,199.3 165.3,199.3 167.1,199.2 169.0,199.2 170.9,199.1 172.8,199.1 174.6,199.0 176.5,199.0" fill="none" stroke="#f8b4bc" stroke-width="0.5" stroke-dasharray="0.6 1.2"/>
<polyline points="25.6,297.1 27.3,293.3 29.0,288.3 30.7,282.7 32.5,276.9 34.2,271.1 35.9,265.3 37.8,259.8 39.6,254.5 41.4,249.6 43.3,244.9 45.1,240.6 47.0,236.6 48.9,233.0 50.8,229.7 52.8,226.7 54.8,224.0 56.7,221.6 58.7,219.4 60.7,217.4 62.6,215.6 64.6,214.1 66.6,212.7 68.6,211.4 70.6,210.3 72.5,209.3 74.5,208.4 76.5,207.6 78.4,206.9 80.3,206.3 82.3,205.7 84.2,205.2 86.1,204.6 88.0,204.2 89.9,203.7 91.8,203.3 93.7,203.0 95.6,202.6 97.5,202.3 99.4,202.0 101.3,201.7 103.2,201.4 105.1,201.2 106.9,200.9 108.8,200.7 110.7,200.5 112.6,200.3 114.5,200.1 116.4,199.9 118.2,199.8 120.1,199.6 122.0,199.4 123.9,199.3 125.8,199.2 127.7,199.0 129.5,198.9 131.4,198.8 133.3,198.7 135.2,198.6 137.1,198.5 138.9,198.4 140.8,198.3 142.7,198.2 144.6,198.1 146.4,198.1 148.3,198.0 150.2,197.9 152.1,197.9 154.0,197.8 155.8,197.8 157.7,197.7 159.6,197.7 161.5,197.6 163.3,197.6 165.2,197.5 167.1,197.5 169.0,197.4 170.8,197.4 172.7,197.4 174.6,197.3 176.5,197.3" fill="none" stroke="#f8b4bc" stroke-width="0.5" stroke-dasharray="0.6 1.2"/>
<polyline points="24.6,296.4 26.0,292.8 27.5,287.8 29.1,282.2 30.7,276.3 32.3,270.4 33.9,264.6 35.6,259.0 37.4,253.7 39.2,248.7 41.0,243.9 42.8,239.5 44.6,235.4 46.6,231.7 48.6,228.4 50.7,225.3 52.7,222.5 54.8,220.0 56.9,217.7 58.9,215.6 61.0,213.8 63.2,212.2 65.3,210.8 67.4,209.5 69.5,208.4 71.6,207.4 73.6,206.5 75.7,205.8 77.7,205.1 79.7,204.5 81.7,203.9 83.7,203.4 85.6,202.9 87.6,202.4 89.5,202.0 91.4,201.6 93.4,201.2 95.3,200.8 97.2,200.5 99.1,200.2 101.0,200.0 102.9,199.7 104.8,199.5 106.7,199.2 108.6,199.0 110.5,198.8 112.4,198.6 114.3,198.4 116.2,198.3 118.1,198.1 120.0,198.0 121.9,197.8 123.8,197.7 125.6,197.6 127.5,197.4 129.4,197.3 131.3,197.2 133.2,197.1 135.1,197.0 137.0,196.9 138.8,196.9 140.7,196.8 142.6,196.7 144.5,196.6 146.4,196.6 148.3,196.5 150.1,196.5 152.0,196.4 153.9,196.4 155.8,196.3 157.7,196.3 159.5,196.2 161.4,196.2 163.3,196.2 165.2,196.1 167.1,196.1 168.9,196.1 170.8,196.0 172.7,196.0 174.6,196.0 176.5,196.0" fill="none" stroke="#f8b4bc" stroke-width="0.5" stroke-dasharray="0.6 1.2"/>
<polyline points="28.5,298.9 30.9,294.8 33.1,289.7 35.3,284.2 37.5,278.5 39.6,272.8 41.8,267.3 43.8,261.9 45.8,256.8 47.7,252.1 49.7,247.7 51.6,243.6 53.6,240.0 55.3,236.6 57.0,233.5 58.7,230.7 60.4,228.3 62.1,226.1 63.8,224.1 65.4,222.3 67.1,220.8 68.7,219.3 70.3,218.0 71.9,216.8 73.6,215.7 75.2,214.7 76.9,213.7 78.6,212.9 80.3,212.1 82.1,211.3 83.8,210.7 85.6,210.1 87.4,209.6 89.2,209.1 91.0,208.7 92.8,208.2 94.7,207.9 96.5,207.5 98.3,207.1 100.2,206.8 102.0,206.5 103.8,206.2 105.7,205.9 107.5,205.7 109.4,205.4 111.2,205.2 113.1,205.0 115.0,204.8 116.8,204.6 118.7,204.4 120.5,204.2 122.4,204.0 124.2,203.8 126.1,203.7 128.0,203.5 129.8,203.3 131.7,203.2 133.6,203.1 135.4,202.9 137.3,202.8 139.2,202.7 141.0,202.6 142.9,202.5 144.8,202.3 146.6,202.2 148.5,202.1 150.4,202.0 152.2,202.0 154.1,201.9 156.0,201.8 157.8,201.7 159.7,201.6 161.6,201.5 163.5,201.5 165.3,201.4 167.2,201.3 169.1,201.3 170.9,201.2 172.8,201.1 174.7,201.1 176.6,201.0" fill="none" stroke="#f8b4bc" stroke-width="0.5" stroke-dasharray="0.6 1.2"/>
<polyline points="26.9,297.9 28.9,294.0 30.8,288.9 32.8,283.4 34.7,277.6 36.6,271.9 38.6,266.2 40.5,260.7 42.4,255.6 44.3,250.7 46.2,246.2 48.0,242.0 49.9,238.1 51.8,234.6 53.6,231.4 55.5,228.5 57.3,225.9 59.1,223.6 61.0,221.5 62.8,219.6 64.6,217.9 66.4,216.4 68.3,215.0 70.1,213.8 71.9,212.7 73.8,211.7 75.6,210.8 77.4,210.0 79.3,209.2 81.1,208.6 83.0,207.9 84.8,207.4 86.7,206.9 88.5,206.4 90.4,205.9 92.3,205.5 94.1,205.2 96.0,204.8 97.9,204.5 99.7,204.2 101.6,203.9 103.5,203.6 105.3,203.3 107.2,203.1 109.1,202.8 111.0,202.6 112.8,202.4 114.7,202.2 116.6,202.0 118.4,201.8 120.3,201.7 122.2,201.5 124.1,201.3 125.9,201.2 127.8,201.0 129.7,200.9 131.5,200.8 133.4,200.7 135.3,200.5 137.2,200.4 139.0,200.3 140.9,200.2 142.8,200.1 144.7,200.0 146.5,199.9 148.4,199.9 150.3,199.8 152.1,199.7 154.0,199.6 155.9,199.6 157.8,199.5 159.6,199.4 161.5,199.4 163.4,199.3 165.3,199.3 167.1,199.2 169.0,199.2 170.9,199.1 172.8,199.1 174.6,199.0 176.5,199.0" fill="none" stroke="#f8b4bc" stroke-width="0.5" stroke-dasharray="0.6 1.2"/>
<polyline points="27.7,298.4 29.9,294.4 32.0,289.3 34.1,283.8 36.1,278.1 38.2,272.4 40.2,266.8 42.2,261.3 44.1,256.2 46.0,251.4 48.0,246.9 49.9,242.8 51.8,239.1 53.6,235.6 55.4,232.5 57.1,229.7 58.9,227.1 60.7,224.9 62.4,222.8 64.1,221.0 65.9,219.4 67.6,217.9 69.3,216.5 71.0,215.3 72.8,214.2 74.5,213.2 76.3,212.3 78.0,211.5 79.8,210.7 81.6,210.0 83.4,209.3 85.2,208.8 87.1,208.3 88.9,207.8 90.7,207.3 92.6,206.9 94.4,206.5 96.3,206.2 98.1,205.8 100.0,205.5 101.8,205.2 103.7,204.9 105.5,204.7 107.4,204.4 109.2,204.2 111.1,203.9 113.0,203.7 114.8,203.5 116.7,203.3 118.6,203.1 120.4,202.9 122.3,202.8 124.2,202.6 126.0,202.5 127.9,202.3 129.8,202.2 131.6,202.0 133.5,201.9 135.4,201.8 137.2,201.6 139.1,201.5 141.0,201.4 142.8,201.3 144.7,201.2 146.6,201.1 148.4,201.0 150.3,200.9 152.2,200.9 154.1,200.8 155.9,200.7 157.8,200.6 159.7,200.6 161.5,200.5 163.4,200.4 165.3,200.4 167.2,200.3 169.0,200.2 170.9,200.2 172.8,200.1 174.7,200.1 176.5,200.0" fill="none" stroke="#f8b4bc" stroke-width="0.5" stroke-dasharray="0.6 1.2"/>
<polyline points="28.2,298.8 30.5,294.7 32.7,289.6 34.9,284.1 37.0,278.4 39.1,272.7 41.3,267.1 43.2,261.7 45.2,256.6 47.2,251.8 49.1,247.4 51.0,243.3 53.0,239.7 54.7,236.2 56.5,233.1 58.2,230.4 59.9,227.9 61.6,225.6 63.3,223.7 65.0,221.9 66.7,220.3 68.3,218.8 70.0,217.5 71.6,216.3 73.3,215.2 75.0,214.2 76.7,213.2 78.4,212.4 80.2,211.6 81.9,210.9 83.7,210.2 85.5,209.6 87.3,209.1 89.1,208.7 90.9,208.2 92.7,207.8 94.6,207.4 96.4,207.0 98.2,206.7 100.1,206.4 101.9,206.1 103.8,205.8 105.6,205.5 107.5,205.2 109.3,205.0 111.2,204.8 113.1,204.5 114.9,204.3 116.8,204.1 118.6,203.9 120.5,203.7 122.4,203.6 124.2,203.4 126.1,203.2 127.9,203.1 129.8,202.9 131.7,202.8 133.5,202.7 135.4,202.5 137.3,202.4 139.1,202.3 141.0,202.2 142.9,202.1 144.7,202.0 146.6,201.9 148.5,201.8 150.3,201.7 152.2,201.6 154.1,201.5 156.0,201.4 157.8,201.3 159.7,201.2 161.6,201.2 163.4,201.1 165.3,201.0 167.2,201.0 169.1,200.9 170.9,200.8 172.8,200.8 174.7,200.7 176.5,200.7" fill="none" stroke="#f8b4bc" stroke-width="0.5" stroke-dasharray="0.6 1.2"/>
<polyline points="27.3,298.2 29.4,294.2 31.4,289.1 33.4,283.6 35.4,277.8 37.4,272.1 39.4,266.5 41.3,261.0 43.2,255.9 45.1,251.0 47.0,246.5 48.9,242.4 50.8,238.6 52.6,235.1 54.4,231.9 56.3,229.1 58.1,226.5 59.9,224.2 61.6,222.1 63.4,220.3 65.2,218.6 67.0,217.1 68.8,215.8 70.5,214.5 72.3,213.4 74.1,212.4 75.9,211.5 77.7,210.7 79.5,209.9 81.3,209.2 83.2,208.6 85.0,208.0 86.9,207.5 88.7,207.0 90.6,206.6 92.4,206.2 94.3,205.8 96.1,205.5 98.0,205.1 99.8,204.8 101.7,204.5 103.6,204.2 105.4,204.0 107.3,203.7 109.2,203.5 111.0,203.2 112.9,203.0 114.8,202.8 116.6,202.6 118.5,202.4 120.4,202.3 122.2,202.1 124.1,201.9 126.0,201.8 127.8,201.6 129.7,201.5 131.6,201.4 133.4,201.2 135.3,201.1 137.2,201.0 139.1,200.9 140.9,200.8 142.8,200.7 144.7,200.6 146.5,200.5 148.4,200.4 150.3,200.3 152.2,200.2 154.0,200.2 155.9,200.1 157.8,200.0 159.7,200.0 161.5,199.9 163.4,199.8 165.3,199.8 167.2,199.7 169.0,199.7 170.9,199.6 172.8,199.6 174.6,199.5 176.5,199.5" fill="none" stroke="#f8b4bc" stroke-width="0.5" stroke-dasharray="0.6 1.2"/>
<polyline points="25.2,296.8 26.7,293.1 28.4,288.1 30.1,282.5 31.7,276.7 33.4,270.8 35.1,265.0 36.9,259.5 38.7,254.2 40.5,249.2 42.3,244.5 44.2,240.2 46.0,236.1 48.0,232.5 50.0,229.2 51.9,226.1 53.9,223.4 55.9,220.9 58.0,218.7 60.0,216.7 62.0,214.9 64.0,213.3 66.1,211.9 68.1,210.6 70.1,209.5 72.2,208.5 74.2,207.7 76.1,206.9 78.1,206.2 80.1,205.6 82.1,205.0 84.0,204.4 85.9,203.9 87.8,203.5 89.7,203.0 91.7,202.6 93.6,202.2 95.5,201.9 97.4,201.6 99.3,201.3 101.2,201.0 103.1,200.7 105.0,200.5 106.9,200.2 108.7,200.0 110.6,199.8 112.5,199.6 114.4,199.4 116.3,199.3 118.2,199.1 120.1,198.9 122.0,198.8 123.8,198.7 125.7,198.5 127.6,198.4 129.5,198.3 131.4,198.2 133.3,198.1 135.1,198.0 137.0,197.9 138.9,197.8 140.8,197.7 142.7,197.6 144.5,197.5 146.4,197.5 148.3,197.4 150.2,197.3 152.1,197.3 153.9,197.2 155.8,197.2 157.7,197.1 159.6,197.1 161.4,197.0 163.3,197.0 165.2,197.0 167.1,196.9 169.0,196.9 170.8,196.9 172.7,196.8 174.6,196.8 176.5,196.8" fill="none" stroke="#f8b4bc" stroke-width="0.5" stroke-dasharray="0.6 1.2"/>
<polyline points="28.5,299.0 30.9,294.8 33.1,289.7 35.3,284.2 37.5,278.5 39.7,272.9 41.9,267.3 43.9,261.9 45.8,256.8 47.8,252.1 49.8,247.7 51.7,243.7 53.6,240.0 55.4,236.6 57.1,233.5 58.8,230.8 60.5,228.3 62.2,226.1 63.8,224.1 65.5,222.4 67.1,220.8 68.7,219.4 70.3,218.0 72.0,216.8 73.6,215.7 75.3,214.7 76.9,213.8 78.6,212.9 80.4,212.1 82.1,211.4 83.8,210.7 85.6,210.2 87.4,209.6 89.2,209.2 91.0,208.7 92.8,208.3 94.7,207.9 96.5,207.5 98.3,207.2 100.2,206.9 102.0,206.6 103.9,206.3 105.7,206.0 107.5,205.7 109.4,205.5 111.3,205.3 113.1,205.0 115.0,204.8 116.8,204.6 118.7,204.4 120.5,204.2 122.4,204.0 124.3,203.9 126.1,203.7 128.0,203.5 129.8,203.4 131.7,203.3 133.6,203.1 135.4,203.0 137.3,202.9 139.2,202.7 141.0,202.6 142.9,202.5 144.8,202.4 146.6,202.3 148.5,202.2 150.4,202.1 152.2,202.0 154.1,201.9 156.0,201.8 157.8,201.7 159.7,201.7 161.6,201.6 163.5,201.5 165.3,201.4 167.2,201.4 169.1,201.3 170.9,201.2 172.8,201.2 174.7,201.1 176.6,201.1" fill="none" stroke="#f8b4bc" stroke-width="0.5" stroke-dasharray="0.6 1.2"/>
<polyline points="25.6,297.1 27.2,293.3 29.0,288.3 30.7,282.7 32.4,276.9 34.2,271.0 35.9,265.3 37.7,259.8 39.6,254.5 41.4,249.6 43.2,244.9 45.1,240.6 46.9,236.6 48.9,233.0 50.8,229.7 52.8,226.7 54.7,224.0 56.7,221.5 58.7,219.3 60.6,217.4 62.6,215.6 64.6,214.0 66.6,212.6 68.6,211.4 70.6,210.3 72.5,209.3 74.5,208.4 76.4,207.6 78.4,206.9 80.3,206.3 82.3,205.7 84.2,205.1 86.1,204.6 88.0,204.1 89.9,203.7 91.8,203.3 93.7,202.9 95.6,202.6 97.5,202.2 99.4,201.9 101.3,201.7 103.2,201.4 105.0,201.1 106.9,200.9 108.8,200.7 110.7,200.5 112.6,200.3 114.5,200.1 116.4,199.9 118.2,199.7 120.1,199.6 122.0,199.4 123.9,199.3 125.8,199.1 127.6,199.0 129.5,198.9 131.4,198.8 133.3,198.7 135.2,198.6 137.0,198.5 138.9,198.4 140.8,198.3 142.7,198.2 144.6,198.1 146.4,198.0 148.3,198.0 150.2,197.9 152.1,197.8 154.0,197.8 155.8,197.7 157.7,197.7 159.6,197.6 161.5,197.6 163.3,197.5 165.2,197.5 167.1,197.5 169.0,197.4 170.8,197.4 172.7,197.3 174.6,197.3 176.5,197.3" fill="none" stroke="#f8b4bc" stroke-width="0.5" stroke-dasharray="0.6 1.2"/>
<polygon points="27.9,298.6 28.8,297.1 29.6,295.4 30.4,293.5 31.1,291.4 31.9,289.3 32.7,287.1 33.4,284.9 34.2,282.6 35.0,280.3 35.7,277.9 36.5,275.6 37.2,273.3 38.0,271.0 38.7,268.8 39.5,266.5 40.3,264.3 41.0,262.1 41.8,260.0 42.5,257.9 43.3,255.9 44.0,253.9 44.8,252.0 45.5,250.1 46.3,248.3 47.0,246.5 47.8,244.8 48.5,243.2 49.3,241.6 50.0,240.0 50.8,238.6 51.5,237.1 52.2,235.7 53.0,234.4 53.7,233.1 54.4,231.9 55.2,230.7 55.9,229.6 56.6,228.5 57.3,227.5 58.1,226.5 58.8,225.5 59.5,224.6 60.2,223.8 60.9,222.9 61.7,222.1 62.4,221.4 63.1,220.6 63.8,220.0 64.5,219.3 65.2,218.6 66.0,218.0 66.7,217.5 67.4,216.9 68.1,216.4 68.8,215.8 69.5,215.4 70.3,214.9 71.0,214.4 71.7,214.0 72.4,213.6 73.1,213.2 73.8,212.8 74.6,212.4 75.3,212.1 76.0,211.7 76.7,211.4 77.5,211.1 78.2,210.8 78.9,210.5 79.6,210.2 80.4,210.0 81.1,209.7 81.8,209.4 82.6,209.2 83.3,209.0 84.0,208.7 84.8,208.5 85.5,208.3 86.2,208.1 87.0,207.9 87.7,207.7 88.4,207.5 89.2,207.3 89.9,207.2 90.6,207.0 91.4,206.8 92.1,206.7 92.9,206.5 93.6,206.4 94.3,206.2 95.1,206.1 95.8,205.9 96.6,205.8 97.3,205.7 98.0,205.5 98.8,205.4 99.5,205.3 100.3,205.1 101.0,205.0 101.8,204.9 102.5,204.8 103.3,204.7 104.0,204.6 104.7,204.5 105.5,204.4 106.2,204.3 107.0,204.2 107.7,204.1 108.5,204.0 109.2,203.9 110.0,203.8 110.7,203.7 111.4,203.6 112.2,203.5 112.9,203.5 113.7,203.4 114.4,203.3 115.2,203.2 115.9,203.2 116.7,203.1 117.4,203.0 118.2,202.9 118.9,202.9 119.7,202.8 120.4,202.7 121.1,202.7 121.9,202.6 122.6,202.5 123.4,202.5 124.1,202.4 124.9,202.3 125.6,202.3 126.4,202.2 127.1,202.2 127.9,202.1 128.6,202.1 129.4,202.0 130.1,202.0 130.9,201.9 131.6,201.9 132.4,201.8 133.1,201.8 133.9,201.7 134.6,201.7 135.3,201.6 136.1,201.6 136.8,201.5 137.6,201.5 138.3,201.4 139.1,201.4 139.8,201.4 140.6,201.3 141.3,201.3 142.1,201.2 142.8,201.2 143.6,201.2 144.3,201.1 145.1,201.1 145.8,201.1 146.6,201.0 147.3,201.0 148.1,201.0 148.8,200.9 149.6,200.9 150.3,200.9 151.1,200.8 151.8,200.8 152.6,200.8 153.3,200.7 154.1,200.7 154.8,200.7 155.6,200.7 156.3,200.6 157.1,200.6 157.8,200.6 158.6,200.5 159.3,200.5 160.1,200.5 160.8,200.5 161.5,200.4 162.3,200.4 163.0,200.4 163.8,200.4 164.5,200.4 165.3,200.3 166.0,200.3 166.8,200.3 167.5,200.3 168.3,200.3 169.0,200.2 169.8,200.2 170.5,200.2 171.3,200.2 172.0,200.2 172.8,200.1 173.5,200.1 174.3,200.1 175.0,200.1 175.8,200.1 176.5,200.1 176.5,196.9 175.7,196.9 175.0,196.9 174.2,196.9 173.5,196.9 172.7,196.9 172.0,196.9 171.2,197.0 170.5,197.0 169.7,197.0 169.0,197.0 168.2,197.0 167.5,197.0 166.7,197.1 166.0,197.1 165.2,197.1 164.5,197.1 163.7,197.1 163.0,197.1 162.2,197.2 161.5,197.2 160.7,197.2 159.9,197.2 159.2,197.2 158.4,197.3 157.7,197.3 156.9,197.3 156.2,197.3 155.4,197.4 154.7,197.4 153.9,197.4 153.2,197.4 152.4,197.5 151.7,197.5 150.9,197.5 150.2,197.5 149.4,197.6 148.7,197.6 147.9,197.6 147.2,197.7 146.4,197.7 145.7,197.7 144.9,197.8 144.2,197.8 143.4,197.8 142.7,197.9 141.9,197.9 141.2,197.9 140.4,198.0 139.7,198.0 138.9,198.0 138.2,198.1 137.4,198.1 136.7,198.2 135.9,198.2 135.2,198.2 134.4,198.3 133.6,198.3 132.9,198.4 132.1,198.4 131.4,198.5 130.6,198.5 129.9,198.6 129.1,198.6 128.4,198.7 127.6,198.7 126.9,198.8 126.1,198.8 125.4,198.9 124.6,198.9 123.9,199.0 123.1,199.0 122.4,199.1 121.6,199.2 120.9,199.2 120.1,199.3 119.3,199.4 118.6,199.4 117.8,199.5 117.1,199.6 116.3,199.6 115.6,199.7 114.8,199.8 114.1,199.9 113.3,199.9 112.6,200.0 111.8,200.1 111.1,200.2 110.3,200.3 109.5,200.3 108.8,200.4 108.0,200.5 107.3,200.6 106.5,200.7 105.8,200.8 105.0,200.9 104.3,201.0 103.5,201.1 102.7,201.2 102.0,201.3 101.2,201.4 100.5,201.5 99.7,201.7 99.0,201.8 98.2,201.9 97.5,202.0 96.7,202.2 95.9,202.3 95.2,202.4 94.4,202.6 93.7,202.7 92.9,202.9 92.1,203.0 91.4,203.2 90.6,203.3 89.9,203.5 89.1,203.7 88.3,203.9 87.6,204.0 86.8,204.2 86.0,204.4 85.3,204.6 84.5,204.8 83.7,205.1 83.0,205.3 82.2,205.5 81.4,205.8 80.7,206.0 79.9,206.3 79.1,206.5 78.4,206.8 77.6,207.1 76.8,207.4 76.0,207.7 75.3,208.0 74.5,208.4 73.7,208.7 72.9,209.1 72.2,209.5 71.4,209.9 70.6,210.3 69.8,210.8 69.0,211.2 68.2,211.7 67.5,212.2 66.7,212.7 65.9,213.3 65.1,213.9 64.3,214.5 63.5,215.1 62.8,215.8 62.0,216.4 61.2,217.2 60.4,217.9 59.6,218.7 58.8,219.5 58.1,220.4 57.3,221.2 56.5,222.2 55.7,223.1 54.9,224.2 54.2,225.2 53.4,226.3 52.6,227.4 51.8,228.6 51.1,229.8 50.3,231.1 49.5,232.5 48.8,233.8 48.0,235.3 47.2,236.8 46.5,238.3 45.7,239.9 45.0,241.5 44.2,243.2 43.5,245.0 42.7,246.8 42.0,248.7 41.2,250.6 40.5,252.6 39.7,254.6 39.0,256.6 38.2,258.8 37.5,260.9 36.7,263.1 36.0,265.3 35.3,267.6 34.5,269.9 33.8,272.2 33.0,274.5 32.3,276.8 31.5,279.2 30.8,281.5 30.1,283.7 29.3,286.0 28.6,288.1 27.9,290.2 27.1,292.2 26.4,294.0 25.7,295.6 25.1,296.7" fill="#f4979f"/>
<polyline points="26.5,297.6 27.2,296.4 28.0,294.7 28.8,292.8 29.5,290.8 30.2,288.7 31.0,286.5 31.8,284.3 32.5,282.0 33.2,279.7 34.0,277.4 34.8,275.1 35.5,272.8 36.2,270.5 37.0,268.2 37.8,265.9 38.5,263.7 39.2,261.5 40.0,259.4 40.8,257.3 41.5,255.2 42.2,253.2 43.0,251.3 43.8,249.4 44.5,247.6 45.2,245.8 46.0,244.0 46.8,242.4 47.5,240.7 48.2,239.2 49.0,237.7 49.8,236.2 50.5,234.8 51.2,233.4 52.0,232.1 52.8,230.9 53.5,229.7 54.2,228.5 55.0,227.4 55.8,226.3 56.5,225.3 57.2,224.3 58.0,223.4 58.8,222.5 59.5,221.6 60.2,220.8 61.0,220.0 61.8,219.3 62.5,218.6 63.2,217.9 64.0,217.2 64.8,216.6 65.5,216.0 66.2,215.4 67.0,214.8 67.8,214.3 68.5,213.8 69.2,213.3 70.0,212.8 70.8,212.4 71.5,212.0 72.2,211.5 73.0,211.2 73.8,210.8 74.5,210.4 75.2,210.1 76.0,209.7 76.8,209.4 77.5,209.1 78.2,208.8 79.0,208.5 79.8,208.2 80.5,208.0 81.2,207.7 82.0,207.5 82.8,207.2 83.5,207.0 84.2,206.8 85.0,206.6 85.8,206.4 86.5,206.2 87.2,206.0 88.0,205.8 88.8,205.6 89.5,205.4 90.2,205.3 91.0,205.1 91.8,204.9 92.5,204.8 93.2,204.6 94.0,204.5 94.8,204.3 95.5,204.2 96.2,204.0 97.0,203.9 97.8,203.8 98.5,203.7 99.2,203.5 100.0,203.4 100.8,203.3 101.5,203.2 102.2,203.1 103.0,203.0 103.8,202.8 104.5,202.7 105.2,202.6 106.0,202.5 106.8,202.4 107.5,202.4 108.2,202.3 109.0,202.2 109.8,202.1 110.5,202.0 111.2,201.9 112.0,201.8 112.8,201.7 113.5,201.7 114.2,201.6 115.0,201.5 115.8,201.4 116.5,201.4 117.2,201.3 118.0,201.2 118.8,201.1 119.5,201.1 120.2,201.0 121.0,200.9 121.8,200.9 122.5,200.8 123.2,200.8 124.0,200.7 124.8,200.6 125.5,200.6 126.2,200.5 127.0,200.5 127.8,200.4 128.5,200.4 129.2,200.3 130.0,200.3 130.8,200.2 131.5,200.2 132.2,200.1 133.0,200.1 133.8,200.0 134.5,200.0 135.2,199.9 136.0,199.9 136.8,199.8 137.5,199.8 138.2,199.8 139.0,199.7 139.8,199.7 140.5,199.6 141.2,199.6 142.0,199.6 142.8,199.5 143.5,199.5 144.2,199.5 145.0,199.4 145.8,199.4 146.5,199.4 147.2,199.3 148.0,199.3 148.8,199.3 149.5,199.2 150.2,199.2 151.0,199.2 151.8,199.1 152.5,199.1 153.2,199.1 154.0,199.1 154.8,199.0 155.5,199.0 156.2,199.0 157.0,199.0 157.8,198.9 158.5,198.9 159.2,198.9 160.0,198.9 160.8,198.8 161.5,198.8 162.2,198.8 163.0,198.8 163.8,198.8 164.5,198.7 165.2,198.7 166.0,198.7 166.8,198.7 167.5,198.7 168.2,198.6 169.0,198.6 169.8,198.6 170.5,198.6 171.2,198.6 172.0,198.5 172.8,198.5 173.5,198.5 174.2,198.5 175.0,198.5 175.8,198.5 176.5,198.5" fill="none" stroke="#e6202f" stroke-width="1.6" stroke-linejoin="round"/>
<rect x="26.5" y="185.4" width="150.00" height="116.40" fill="none" stroke="#bdbdbd" stroke-width="1"/>
<path d="M26.50,301.8v-1.4M26.50,185.4v1.4M64.00,301.8v-1.4M64.00,185.4v1.4M101.50,301.8v-1.4M101.50,185.4v1.4M139.00,301.8v-1.4M139.00,185.4v1.4M176.50,301.8v-1.4M176.50,185.4v1.4M26.5,301.80h1.4M176.5,301.80h-1.4M26.5,287.25h1.4M176.5,287.25h-1.4M26.5,272.70h1.4M176.5,272.70h-1.4M26.5,258.15h1.4M176.5,258.15h-1.4M26.5,243.60h1.4M176.5,243.60h-1.4M26.5,229.05h1.4M176.5,229.05h-1.4M26.5,214.50h1.4M176.5,214.50h-1.4M26.5,199.95h1.4M176.5,199.95h-1.4M26.5,185.40h1.4M176.5,185.40h-1.4" stroke="#555" stroke-width="0.6" fill="none"/>
<text x="23.90" y="304.00" text-anchor="end" class="tk">0.2</text>
<text x="23.90" y="289.45" text-anchor="end" class="tk">0.3</text>
<text x="23.90" y="274.90" text-anchor="end" class="tk">0.4</text>
<text x="23.90" y="260.35" text-anchor="end" class="tk">0.5</text>
<text x="23.90" y="245.80" text-anchor="end" class="tk">0.6</text>
<text x="23.90" y="231.25" text-anchor="end" class="tk">0.7</text>
<text x="23.90" y="216.70" text-anchor="end" class="tk">0.8</text>
<text x="23.90" y="202.15" text-anchor="end" class="tk">0.9</text>
<text x="23.90" y="187.60" text-anchor="end" class="tk">1</text>
<text x="26.50" y="310.00" text-anchor="middle" class="tk">0</text>
<text x="64.00" y="310.00" text-anchor="middle" class="tk">100</text>
<text x="101.50" y="310.00" text-anchor="middle" class="tk">200</text>
<text x="139.00" y="310.00" text-anchor="middle" class="tk">300</text>
<text x="176.50" y="310.00" text-anchor="middle" class="tk">400</text>
<text x="101.50" y="319.20" text-anchor="middle" class="xl">Iteration Number</text>
<text transform="translate(13.10,243.60) rotate(-90)" text-anchor="middle" class="yl">ME</text>
<text x="101.50" y="181.00" text-anchor="middle" class="ti" textLength="111.8" lengthAdjust="spacingAndGlyphs">NadamSPGD: Δ<tspan font-style="italic">u</tspan>=0.01</text>
<rect x="77.5" y="281.7" width="94.00" height="15.40" fill="#fff" stroke="#a8a8a8" stroke-width="0.8"/>
<path d="M78.70,286.78h14" stroke="#f8d4d8" stroke-width="0.8" stroke-dasharray="0.8 1.4"/>
<path d="M77.90,293.56h15.2" stroke="#e24a5a" stroke-width="2.3"/>
<text x="94.10" y="288.68" class="lg">100 simulations (NadamSPGD)</text>
<text x="94.10" y="295.86" class="lg">Mean and std (NadamSPGD)</text>
<text x="101.50" y="331.50" text-anchor="middle" class="sc">(d)</text>
<rect x="209.4" y="185.4" width="150.00" height="116.40" fill="#fff"/>
<path d="M246.90,185.4V301.8M284.40,185.4V301.8M321.90,185.4V301.8M209.4,287.25H359.4M209.4,272.70H359.4M209.4,258.15H359.4M209.4,243.60H359.4M209.4,229.05H359.4M209.4,214.50H359.4M209.4,199.95H359.4" stroke="#eeeeee" stroke-width="0.7" fill="none"/>
<polygon points="211.8,299.2 212.8,297.7 213.7,295.9 214.7,294.0 215.6,292.0 216.5,289.9 217.4,287.7 218.3,285.5 219.2,283.3 220.1,281.0 221.0,278.7 221.8,276.4 222.7,274.2 223.6,271.9 224.5,269.7 225.4,267.5 226.2,265.3 227.0,263.2 227.8,261.1 228.6,259.1 229.4,257.1 230.2,255.2 231.0,253.3 231.8,251.5 232.6,249.7 233.4,248.0 234.1,246.3 234.9,244.8 235.7,243.2 236.5,241.8 237.3,240.4 237.9,239.0 238.6,237.6 239.3,236.3 240.0,235.1 240.7,233.9 241.3,232.8 242.0,231.7 242.7,230.7 243.3,229.7 244.0,228.8 244.7,227.9 245.3,227.0 246.0,226.2 246.6,225.4 247.3,224.7 247.9,223.9 248.6,223.3 249.2,222.6 249.9,222.0 250.5,221.4 251.1,220.8 251.7,220.2 252.4,219.6 253.0,219.1 253.6,218.6 254.3,218.1 254.9,217.6 255.5,217.2 256.2,216.7 256.8,216.3 257.5,215.9 258.1,215.5 258.8,215.1 259.4,214.7 260.1,214.4 260.8,214.0 261.4,213.7 262.1,213.3 262.8,213.0 263.5,212.7 264.1,212.4 264.8,212.1 265.5,211.8 266.2,211.5 266.9,211.2 267.6,211.0 268.3,210.8 269.0,210.6 269.7,210.4 270.5,210.2 271.2,210.0 271.9,209.8 272.6,209.6 273.3,209.4 274.1,209.3 274.8,209.1 275.5,208.9 276.2,208.8 277.0,208.6 277.7,208.4 278.4,208.3 279.1,208.1 279.9,208.0 280.6,207.9 281.3,207.7 282.1,207.6 282.8,207.5 283.5,207.3 284.3,207.2 285.0,207.1 285.7,207.0 286.5,206.9 287.2,206.7 287.9,206.6 288.7,206.5 289.4,206.4 290.1,206.3 290.9,206.2 291.6,206.1 292.4,206.0 293.1,205.9 293.8,205.8 294.6,205.7 295.3,205.6 296.1,205.5 296.8,205.4 297.5,205.4 298.3,205.3 299.0,205.2 299.8,205.1 300.5,205.0 301.2,204.9 302.0,204.9 302.7,204.8 303.5,204.7 304.2,204.6 305.0,204.6 305.7,204.5 306.4,204.4 307.2,204.4 307.9,204.3 308.7,204.2 309.4,204.2 310.2,204.1 310.9,204.0 311.7,204.0 312.4,203.9 313.1,203.8 313.9,203.8 314.6,203.7 315.4,203.7 316.1,203.6 316.9,203.6 317.6,203.5 318.4,203.5 319.1,203.4 319.8,203.3 320.6,203.3 321.3,203.2 322.1,203.2 322.8,203.1 323.6,203.1 324.3,203.0 325.1,203.0 325.8,203.0 326.6,202.9 327.3,202.9 328.1,202.8 328.8,202.8 329.5,202.7 330.3,202.7 331.0,202.7 331.8,202.6 332.5,202.6 333.3,202.5 334.0,202.5 334.8,202.5 335.5,202.4 336.3,202.4 337.0,202.3 337.8,202.3 338.5,202.3 339.3,202.2 340.0,202.2 340.8,202.2 341.5,202.1 342.3,202.1 343.0,202.1 343.7,202.0 344.5,202.0 345.2,202.0 346.0,201.9 346.7,201.9 347.5,201.9 348.2,201.9 349.0,201.8 349.7,201.8 350.5,201.8 351.2,201.7 352.0,201.7 352.7,201.7 353.5,201.7 354.2,201.6 355.0,201.6 355.7,201.6 356.5,201.6 357.2,201.5 358.0,201.5 358.7,201.5 359.5,201.5 359.3,195.5 358.6,195.5 357.8,195.5 357.1,195.5 356.3,195.5 355.6,195.5 354.8,195.5 354.1,195.5 353.3,195.5 352.6,195.5 351.8,195.5 351.1,195.5 350.3,195.5 349.6,195.5 348.8,195.6 348.1,195.6 347.3,195.6 346.6,195.6 345.8,195.6 345.1,195.6 344.3,195.6 343.6,195.6 342.8,195.7 342.0,195.7 341.3,195.7 340.5,195.7 339.8,195.7 339.0,195.7 338.3,195.7 337.5,195.8 336.8,195.8 336.0,195.8 335.3,195.8 334.5,195.8 333.8,195.8 333.0,195.9 332.3,195.9 331.5,195.9 330.8,195.9 330.0,196.0 329.3,196.0 328.5,196.0 327.7,196.0 327.0,196.0 326.2,196.1 325.5,196.1 324.7,196.1 324.0,196.2 323.2,196.2 322.5,196.2 321.7,196.2 321.0,196.3 320.2,196.3 319.5,196.3 318.7,196.4 317.9,196.4 317.2,196.4 316.4,196.5 315.7,196.5 314.9,196.6 314.2,196.6 313.4,196.6 312.7,196.7 311.9,196.7 311.1,196.8 310.4,196.8 309.6,196.8 308.9,196.9 308.1,196.9 307.4,197.0 306.6,197.0 305.9,197.1 305.1,197.1 304.3,197.2 303.6,197.2 302.8,197.3 302.1,197.4 301.3,197.4 300.6,197.5 299.8,197.5 299.0,197.6 298.3,197.7 297.5,197.7 296.8,197.8 296.0,197.9 295.2,197.9 294.5,198.0 293.7,198.1 293.0,198.2 292.2,198.2 291.4,198.3 290.7,198.4 289.9,198.5 289.2,198.6 288.4,198.7 287.6,198.8 286.9,198.9 286.1,199.0 285.3,199.1 284.6,199.2 283.8,199.3 283.0,199.4 282.3,199.5 281.5,199.6 280.7,199.7 280.0,199.8 279.2,200.0 278.4,200.1 277.7,200.2 276.9,200.3 276.1,200.5 275.3,200.6 274.6,200.8 273.8,200.9 273.0,201.1 272.2,201.2 271.5,201.4 270.7,201.6 269.9,201.8 269.1,202.0 268.3,202.1 267.6,202.3 266.8,202.6 266.0,202.8 265.2,203.0 264.4,203.2 263.6,203.4 262.8,203.6 262.0,203.9 261.2,204.1 260.3,204.3 259.5,204.6 258.7,204.9 257.9,205.2 257.0,205.5 256.2,205.8 255.4,206.1 254.5,206.5 253.7,206.8 252.8,207.2 252.0,207.6 251.1,208.0 250.3,208.5 249.4,209.0 248.5,209.5 247.7,210.0 246.8,210.5 245.9,211.1 245.1,211.7 244.2,212.4 243.3,213.0 242.4,213.8 241.6,214.5 240.7,215.3 239.9,216.1 239.0,217.0 238.2,217.9 237.3,218.8 236.5,219.8 235.6,220.8 234.8,221.9 234.0,223.0 233.1,224.1 232.3,225.3 231.5,226.5 230.6,227.8 229.8,229.1 229.0,230.5 228.2,231.9 227.4,233.4 226.5,235.0 225.8,236.6 225.1,238.2 224.4,240.0 223.7,241.7 222.9,243.5 222.2,245.4 221.5,247.3 220.8,249.3 220.1,251.3 219.4,253.4 218.7,255.5 218.0,257.7 217.3,259.8 216.6,262.1 215.9,264.3 215.3,266.7 214.7,269.0 214.1,271.3 213.5,273.7 212.8,276.1 212.2,278.4 211.6,280.8 211.0,283.1 210.4,285.4 209.8,287.6 209.2,289.7 208.6,291.7 208.1,293.5 207.5,295.0 207.0,296.1" fill="#fef4f5"/>
<polygon points="211.1,298.8 212.1,297.3 213.0,295.6 213.9,293.7 214.8,291.7 215.6,289.6 216.5,287.4 217.3,285.2 218.2,282.9 219.1,280.7 219.9,278.4 220.8,276.1 221.6,273.8 222.5,271.5 223.3,269.3 224.2,267.1 224.9,264.9 225.7,262.8 226.5,260.7 227.3,258.6 228.1,256.6 228.9,254.7 229.7,252.8 230.5,250.9 231.2,249.1 232.0,247.4 232.8,245.7 233.6,244.1 234.3,242.6 235.1,241.1 235.9,239.7 236.6,238.2 237.3,236.9 238.0,235.6 238.7,234.3 239.4,233.1 240.1,232.0 240.7,230.9 241.4,229.8 242.1,228.8 242.8,227.9 243.5,227.0 244.2,226.1 244.8,225.2 245.5,224.4 246.2,223.7 246.9,222.9 247.5,222.2 248.2,221.5 248.9,220.9 249.6,220.3 250.2,219.7 250.9,219.1 251.5,218.5 252.2,218.0 252.9,217.5 253.5,217.0 254.2,216.5 254.9,216.0 255.5,215.6 256.2,215.2 256.9,214.8 257.6,214.4 258.2,214.0 258.9,213.6 259.6,213.2 260.3,212.9 261.0,212.6 261.7,212.2 262.4,211.9 263.1,211.6 263.8,211.3 264.5,211.0 265.2,210.7 265.9,210.5 266.6,210.2 267.3,210.0 268.0,209.8 268.7,209.5 269.5,209.3 270.2,209.1 270.9,208.9 271.6,208.8 272.4,208.6 273.1,208.4 273.8,208.2 274.5,208.0 275.3,207.9 276.0,207.7 276.7,207.6 277.5,207.4 278.2,207.3 278.9,207.1 279.7,207.0 280.4,206.8 281.1,206.7 281.9,206.6 282.6,206.4 283.4,206.3 284.1,206.2 284.8,206.1 285.6,206.0 286.3,205.8 287.1,205.7 287.8,205.6 288.5,205.5 289.3,205.4 290.0,205.3 290.8,205.2 291.5,205.1 292.2,205.0 293.0,204.9 293.7,204.8 294.5,204.7 295.2,204.6 296.0,204.5 296.7,204.5 297.4,204.4 298.2,204.3 298.9,204.2 299.7,204.1 300.4,204.1 301.2,204.0 301.9,203.9 302.6,203.8 303.4,203.8 304.1,203.7 304.9,203.6 305.6,203.5 306.4,203.5 307.1,203.4 307.9,203.3 308.6,203.3 309.4,203.2 310.1,203.2 310.8,203.1 311.6,203.0 312.3,203.0 313.1,202.9 313.8,202.9 314.6,202.8 315.3,202.7 316.1,202.7 316.8,202.6 317.6,202.6 318.3,202.5 319.0,202.5 319.8,202.4 320.5,202.4 321.3,202.3 322.0,202.3 322.8,202.2 323.5,202.2 324.3,202.2 325.0,202.1 325.8,202.1 326.5,202.0 327.3,202.0 328.0,201.9 328.8,201.9 329.5,201.9 330.3,201.8 331.0,201.8 331.8,201.7 332.5,201.7 333.2,201.7 334.0,201.6 334.7,201.6 335.5,201.6 336.2,201.5 337.0,201.5 337.7,201.5 338.5,201.4 339.2,201.4 340.0,201.4 340.7,201.3 341.5,201.3 342.2,201.3 343.0,201.2 343.7,201.2 344.5,201.2 345.2,201.1 346.0,201.1 346.7,201.1 347.5,201.1 348.2,201.0 349.0,201.0 349.7,201.0 350.5,201.0 351.2,200.9 352.0,200.9 352.7,200.9 353.5,200.9 354.2,200.8 355.0,200.8 355.7,200.8 356.4,200.8 357.2,200.7 357.9,200.7 358.7,200.7 359.4,200.7 359.4,196.2 358.6,196.2 357.9,196.2 357.1,196.3 356.4,196.3 355.6,196.3 354.8,196.3 354.1,196.3 353.3,196.3 352.6,196.3 351.8,196.3 351.1,196.3 350.3,196.3 349.6,196.4 348.8,196.4 348.1,196.4 347.3,196.4 346.6,196.4 345.8,196.4 345.1,196.4 344.3,196.5 343.6,196.5 342.8,196.5 342.1,196.5 341.3,196.5 340.6,196.5 339.8,196.6 339.1,196.6 338.3,196.6 337.6,196.6 336.8,196.6 336.1,196.6 335.3,196.7 334.6,196.7 333.8,196.7 333.1,196.7 332.3,196.8 331.5,196.8 330.8,196.8 330.0,196.8 329.3,196.9 328.5,196.9 327.8,196.9 327.0,196.9 326.3,197.0 325.5,197.0 324.8,197.0 324.0,197.1 323.3,197.1 322.5,197.1 321.8,197.1 321.0,197.2 320.3,197.2 319.5,197.2 318.8,197.3 318.0,197.3 317.2,197.4 316.5,197.4 315.7,197.4 315.0,197.5 314.2,197.5 313.5,197.6 312.7,197.6 312.0,197.6 311.2,197.7 310.5,197.7 309.7,197.8 308.9,197.8 308.2,197.9 307.4,197.9 306.7,198.0 305.9,198.0 305.2,198.1 304.4,198.2 303.7,198.2 302.9,198.3 302.2,198.3 301.4,198.4 300.6,198.5 299.9,198.5 299.1,198.6 298.4,198.6 297.6,198.7 296.9,198.8 296.1,198.9 295.3,198.9 294.6,199.0 293.8,199.1 293.1,199.2 292.3,199.2 291.6,199.3 290.8,199.4 290.0,199.5 289.3,199.6 288.5,199.7 287.8,199.8 287.0,199.9 286.2,200.0 285.5,200.1 284.7,200.2 284.0,200.3 283.2,200.4 282.4,200.5 281.7,200.6 280.9,200.7 280.2,200.9 279.4,201.0 278.6,201.1 277.9,201.2 277.1,201.4 276.3,201.5 275.6,201.7 274.8,201.8 274.0,202.0 273.3,202.1 272.5,202.3 271.7,202.5 270.9,202.6 270.2,202.8 269.4,203.0 268.6,203.2 267.8,203.4 267.1,203.6 266.3,203.8 265.5,204.0 264.7,204.3 263.9,204.5 263.1,204.7 262.3,204.9 261.5,205.2 260.7,205.4 259.9,205.7 259.1,206.0 258.3,206.3 257.5,206.6 256.7,206.9 255.9,207.2 255.1,207.6 254.2,207.9 253.4,208.3 252.6,208.7 251.8,209.2 250.9,209.6 250.1,210.1 249.3,210.6 248.4,211.1 247.6,211.7 246.8,212.2 245.9,212.8 245.1,213.5 244.2,214.1 243.4,214.8 242.6,215.6 241.8,216.3 240.9,217.1 240.1,218.0 239.3,218.9 238.5,219.8 237.6,220.7 236.8,221.7 236.0,222.8 235.2,223.8 234.4,225.0 233.6,226.1 232.7,227.4 231.9,228.6 231.1,229.9 230.3,231.3 229.5,232.7 228.7,234.1 227.9,235.7 227.2,237.2 226.5,238.9 225.7,240.6 225.0,242.3 224.3,244.1 223.6,246.0 222.8,247.9 222.1,249.8 221.4,251.8 220.7,253.9 220.0,256.0 219.3,258.1 218.6,260.3 217.9,262.5 217.1,264.8 216.5,267.1 215.8,269.4 215.2,271.7 214.5,274.1 213.9,276.4 213.2,278.8 212.6,281.1 212.0,283.4 211.3,285.7 210.7,287.9 210.0,290.0 209.4,292.0 208.8,293.8 208.2,295.4 207.7,296.5" fill="#fde8eb"/>
<polygon points="210.6,298.4 211.5,297.0 212.3,295.3 213.2,293.4 214.0,291.4 214.8,289.3 215.6,287.1 216.5,284.9 217.3,282.6 218.1,280.3 218.9,278.0 219.7,275.8 220.6,273.5 221.4,271.2 222.2,268.9 223.0,266.7 223.8,264.5 224.6,262.4 225.4,260.3 226.1,258.2 226.9,256.2 227.7,254.2 228.4,252.3 229.2,250.4 230.0,248.6 230.8,246.9 231.5,245.2 232.3,243.6 233.1,242.0 233.8,240.5 234.6,239.0 235.3,237.6 236.0,236.2 236.7,234.9 237.4,233.6 238.2,232.4 238.9,231.2 239.6,230.1 240.3,229.1 241.0,228.0 241.7,227.0 242.4,226.1 243.1,225.2 243.8,224.3 244.5,223.5 245.2,222.7 245.9,222.0 246.6,221.3 247.3,220.6 248.0,219.9 248.7,219.3 249.4,218.7 250.1,218.1 250.8,217.5 251.5,217.0 252.1,216.5 252.8,215.9 253.5,215.5 254.2,215.0 254.9,214.6 255.6,214.1 256.3,213.7 257.0,213.3 257.7,212.9 258.4,212.6 259.1,212.2 259.8,211.9 260.5,211.5 261.3,211.2 262.0,210.9 262.7,210.6 263.4,210.3 264.1,210.0 264.8,209.8 265.6,209.5 266.3,209.2 267.0,209.0 267.7,208.8 268.5,208.6 269.2,208.4 269.9,208.2 270.7,208.0 271.4,207.8 272.1,207.6 272.9,207.4 273.6,207.3 274.3,207.1 275.1,206.9 275.8,206.8 276.6,206.6 277.3,206.5 278.0,206.3 278.8,206.2 279.5,206.0 280.2,205.9 281.0,205.8 281.7,205.6 282.5,205.5 283.2,205.4 284.0,205.3 284.7,205.1 285.4,205.0 286.2,204.9 286.9,204.8 287.7,204.7 288.4,204.6 289.2,204.5 289.9,204.4 290.6,204.3 291.4,204.2 292.1,204.1 292.9,204.0 293.6,203.9 294.4,203.8 295.1,203.7 295.9,203.6 296.6,203.6 297.3,203.5 298.1,203.4 298.8,203.3 299.6,203.2 300.3,203.2 301.1,203.1 301.8,203.0 302.6,202.9 303.3,202.9 304.1,202.8 304.8,202.7 305.6,202.7 306.3,202.6 307.0,202.5 307.8,202.5 308.5,202.4 309.3,202.3 310.0,202.3 310.8,202.2 311.5,202.2 312.3,202.1 313.0,202.1 313.8,202.0 314.5,201.9 315.3,201.9 316.0,201.8 316.8,201.8 317.5,201.7 318.3,201.7 319.0,201.6 319.7,201.6 320.5,201.5 321.2,201.5 322.0,201.5 322.7,201.4 323.5,201.4 324.2,201.3 325.0,201.3 325.7,201.2 326.5,201.2 327.2,201.2 328.0,201.1 328.7,201.1 329.5,201.0 330.2,201.0 331.0,201.0 331.7,200.9 332.5,200.9 333.2,200.9 334.0,200.8 334.7,200.8 335.5,200.8 336.2,200.7 337.0,200.7 337.7,200.7 338.5,200.6 339.2,200.6 340.0,200.6 340.7,200.6 341.5,200.5 342.2,200.5 342.9,200.5 343.7,200.4 344.4,200.4 345.2,200.4 345.9,200.4 346.7,200.3 347.4,200.3 348.2,200.3 348.9,200.3 349.7,200.2 350.4,200.2 351.2,200.2 351.9,200.2 352.7,200.1 353.4,200.1 354.2,200.1 354.9,200.1 355.7,200.1 356.4,200.0 357.2,200.0 357.9,200.0 358.7,200.0 359.4,200.0 359.4,197.0 358.6,197.0 357.9,197.0 357.1,197.0 356.4,197.0 355.6,197.0 354.9,197.0 354.1,197.0 353.4,197.0 352.6,197.1 351.9,197.1 351.1,197.1 350.4,197.1 349.6,197.1 348.9,197.1 348.1,197.1 347.4,197.2 346.6,197.2 345.9,197.2 345.1,197.2 344.4,197.2 343.6,197.2 342.9,197.3 342.1,197.3 341.3,197.3 340.6,197.3 339.8,197.3 339.1,197.4 338.3,197.4 337.6,197.4 336.8,197.4 336.1,197.4 335.3,197.5 334.6,197.5 333.8,197.5 333.1,197.5 332.3,197.6 331.6,197.6 330.8,197.6 330.1,197.6 329.3,197.7 328.6,197.7 327.8,197.7 327.1,197.8 326.3,197.8 325.6,197.8 324.8,197.8 324.1,197.9 323.3,197.9 322.6,197.9 321.8,198.0 321.1,198.0 320.3,198.1 319.6,198.1 318.8,198.1 318.0,198.2 317.3,198.2 316.5,198.2 315.8,198.3 315.0,198.3 314.3,198.4 313.5,198.4 312.8,198.5 312.0,198.5 311.3,198.6 310.5,198.6 309.8,198.7 309.0,198.7 308.3,198.8 307.5,198.8 306.8,198.9 306.0,198.9 305.2,199.0 304.5,199.0 303.7,199.1 303.0,199.2 302.2,199.2 301.5,199.3 300.7,199.3 300.0,199.4 299.2,199.5 298.5,199.5 297.7,199.6 297.0,199.7 296.2,199.8 295.4,199.8 294.7,199.9 293.9,200.0 293.2,200.1 292.4,200.2 291.7,200.2 290.9,200.3 290.2,200.4 289.4,200.5 288.6,200.6 287.9,200.7 287.1,200.8 286.4,200.9 285.6,201.0 284.9,201.1 284.1,201.2 283.3,201.3 282.6,201.4 281.8,201.6 281.1,201.7 280.3,201.8 279.6,201.9 278.8,202.1 278.0,202.2 277.3,202.3 276.5,202.5 275.7,202.6 275.0,202.8 274.2,202.9 273.5,203.1 272.7,203.2 271.9,203.4 271.2,203.6 270.4,203.8 269.6,204.0 268.9,204.2 268.1,204.4 267.3,204.6 266.6,204.8 265.8,205.0 265.0,205.2 264.2,205.5 263.5,205.7 262.7,205.9 261.9,206.2 261.1,206.4 260.3,206.7 259.5,207.0 258.8,207.3 258.0,207.6 257.2,207.9 256.4,208.3 255.6,208.6 254.8,209.0 254.0,209.4 253.2,209.8 252.4,210.2 251.6,210.7 250.8,211.1 250.0,211.6 249.2,212.1 248.3,212.7 247.5,213.3 246.7,213.8 245.9,214.5 245.1,215.1 244.3,215.8 243.5,216.5 242.7,217.3 241.9,218.1 241.1,218.9 240.3,219.8 239.5,220.7 238.7,221.6 237.9,222.6 237.1,223.6 236.3,224.7 235.5,225.8 234.7,226.9 233.9,228.1 233.1,229.3 232.4,230.6 231.6,232.0 230.8,233.4 230.0,234.8 229.2,236.3 228.5,237.9 227.7,239.5 227.0,241.2 226.3,242.9 225.5,244.7 224.8,246.5 224.1,248.4 223.4,250.3 222.6,252.3 221.9,254.3 221.2,256.4 220.4,258.5 219.7,260.7 219.0,262.9 218.3,265.1 217.6,267.4 216.9,269.7 216.2,272.1 215.6,274.4 214.9,276.7 214.2,279.1 213.5,281.4 212.8,283.7 212.2,285.9 211.5,288.1 210.8,290.3 210.1,292.2 209.5,294.1 208.8,295.7 208.2,296.9" fill="#fbd9dd"/>
<polygon points="211.5,299.0 212.5,297.5 213.5,295.8 214.4,293.9 215.3,291.9 216.2,289.8 217.0,287.6 217.9,285.4 218.8,283.1 219.7,280.9 220.6,278.6 221.4,276.3 222.3,274.0 223.2,271.8 224.0,269.6 224.9,267.4 225.7,265.2 226.5,263.0 227.3,260.9 228.1,258.9 228.9,256.9 229.7,255.0 230.5,253.1 231.3,251.3 232.1,249.5 232.8,247.8 233.6,246.1 234.4,244.5 235.2,243.0 236.0,241.5 236.7,240.1 237.4,238.7 238.1,237.3 238.8,236.1 239.5,234.8 240.2,233.6 240.8,232.5 241.5,231.4 242.2,230.4 242.9,229.4 243.5,228.4 244.2,227.5 244.9,226.7 245.5,225.8 246.2,225.0 246.9,224.3 247.5,223.5 248.2,222.9 248.8,222.2 249.5,221.6 250.1,220.9 250.8,220.3 251.4,219.8 252.1,219.2 252.7,218.7 253.3,218.2 254.0,217.7 254.6,217.2 255.3,216.7 255.9,216.3 256.6,215.9 257.2,215.5 257.9,215.1 258.6,214.7 259.2,214.3 259.9,213.9 260.6,213.6 261.3,213.2 261.9,212.9 262.6,212.6 263.3,212.3 264.0,212.0 264.7,211.7 265.4,211.4 266.1,211.1 266.8,210.8 267.5,210.6 268.2,210.4 268.9,210.2 269.6,210.0 270.4,209.8 271.1,209.6 271.8,209.4 272.5,209.2 273.2,209.0 274.0,208.9 274.7,208.7 275.4,208.5 276.1,208.4 276.9,208.2 277.6,208.0 278.3,207.9 279.1,207.8 279.8,207.6 280.5,207.5 281.3,207.3 282.0,207.2 282.7,207.1 283.5,206.9 284.2,206.8 284.9,206.7 285.7,206.6 286.4,206.5 287.1,206.4 287.9,206.2 288.6,206.1 289.4,206.0 290.1,205.9 290.8,205.8 291.6,205.7 292.3,205.6 293.1,205.5 293.8,205.4 294.5,205.3 295.3,205.2 296.0,205.2 296.8,205.1 297.5,205.0 298.2,204.9 299.0,204.8 299.7,204.7 300.5,204.7 301.2,204.6 302.0,204.5 302.7,204.4 303.4,204.3 304.2,204.3 304.9,204.2 305.7,204.1 306.4,204.1 307.2,204.0 307.9,203.9 308.6,203.9 309.4,203.8 310.1,203.7 310.9,203.7 311.6,203.6 312.4,203.5 313.1,203.5 313.9,203.4 314.6,203.4 315.4,203.3 316.1,203.3 316.8,203.2 317.6,203.2 318.3,203.1 319.1,203.0 319.8,203.0 320.6,202.9 321.3,202.9 322.1,202.8 322.8,202.8 323.6,202.8 324.3,202.7 325.1,202.7 325.8,202.6 326.5,202.6 327.3,202.5 328.0,202.5 328.8,202.4 329.5,202.4 330.3,202.4 331.0,202.3 331.8,202.3 332.5,202.2 333.3,202.2 334.0,202.2 334.8,202.1 335.5,202.1 336.3,202.1 337.0,202.0 337.8,202.0 338.5,201.9 339.2,201.9 340.0,201.9 340.7,201.8 341.5,201.8 342.2,201.8 343.0,201.7 343.7,201.7 344.5,201.7 345.2,201.7 346.0,201.6 346.7,201.6 347.5,201.6 348.2,201.5 349.0,201.5 349.7,201.5 350.5,201.5 351.2,201.4 352.0,201.4 352.7,201.4 353.5,201.3 354.2,201.3 355.0,201.3 355.7,201.3 356.5,201.2 357.2,201.2 358.0,201.2 358.7,201.2 359.5,201.2 359.3,195.8 358.6,195.8 357.8,195.8 357.1,195.8 356.3,195.8 355.6,195.8 354.8,195.8 354.1,195.8 353.3,195.8 352.6,195.8 351.8,195.8 351.1,195.8 350.3,195.8 349.6,195.9 348.8,195.9 348.1,195.9 347.3,195.9 346.6,195.9 345.8,195.9 345.1,195.9 344.3,195.9 343.6,196.0 342.8,196.0 342.1,196.0 341.3,196.0 340.6,196.0 339.8,196.0 339.1,196.1 338.3,196.1 337.5,196.1 336.8,196.1 336.0,196.1 335.3,196.1 334.5,196.2 333.8,196.2 333.0,196.2 332.3,196.2 331.5,196.2 330.8,196.3 330.0,196.3 329.3,196.3 328.5,196.3 327.8,196.4 327.0,196.4 326.3,196.4 325.5,196.4 324.7,196.5 324.0,196.5 323.2,196.5 322.5,196.6 321.7,196.6 321.0,196.6 320.2,196.7 319.5,196.7 318.7,196.7 318.0,196.8 317.2,196.8 316.5,196.8 315.7,196.9 314.9,196.9 314.2,196.9 313.4,197.0 312.7,197.0 311.9,197.1 311.2,197.1 310.4,197.2 309.7,197.2 308.9,197.3 308.2,197.3 307.4,197.4 306.6,197.4 305.9,197.5 305.1,197.5 304.4,197.6 303.6,197.6 302.9,197.7 302.1,197.7 301.3,197.8 300.6,197.9 299.8,197.9 299.1,198.0 298.3,198.0 297.6,198.1 296.8,198.2 296.0,198.3 295.3,198.3 294.5,198.4 293.8,198.5 293.0,198.6 292.2,198.6 291.5,198.7 290.7,198.8 290.0,198.9 289.2,199.0 288.4,199.1 287.7,199.2 286.9,199.2 286.2,199.3 285.4,199.4 284.6,199.5 283.9,199.7 283.1,199.8 282.3,199.9 281.6,200.0 280.8,200.1 280.0,200.2 279.3,200.3 278.5,200.5 277.7,200.6 277.0,200.7 276.2,200.9 275.4,201.0 274.7,201.2 273.9,201.3 273.1,201.5 272.3,201.6 271.6,201.8 270.8,202.0 270.0,202.2 269.2,202.4 268.4,202.5 267.7,202.8 266.9,203.0 266.1,203.2 265.3,203.4 264.5,203.6 263.7,203.8 262.9,204.0 262.1,204.3 261.3,204.5 260.5,204.8 259.7,205.0 258.9,205.3 258.0,205.6 257.2,205.9 256.4,206.2 255.6,206.5 254.7,206.9 253.9,207.3 253.1,207.6 252.2,208.0 251.4,208.5 250.5,208.9 249.7,209.4 248.8,209.9 248.0,210.4 247.1,211.0 246.2,211.5 245.4,212.2 244.5,212.8 243.7,213.5 242.8,214.2 242.0,214.9 241.1,215.7 240.3,216.5 239.4,217.4 238.6,218.3 237.8,219.2 236.9,220.2 236.1,221.2 235.3,222.2 234.4,223.3 233.6,224.4 232.8,225.6 232.0,226.9 231.1,228.1 230.3,229.4 229.5,230.8 228.7,232.2 227.9,233.7 227.1,235.2 226.3,236.8 225.6,238.5 224.9,240.2 224.2,242.0 223.5,243.8 222.7,245.6 222.0,247.5 221.3,249.5 220.6,251.5 219.9,253.6 219.2,255.7 218.5,257.8 217.8,260.0 217.1,262.2 216.4,264.5 215.8,266.8 215.1,269.1 214.5,271.5 213.9,273.9 213.2,276.2 212.6,278.6 212.0,280.9 211.4,283.2 210.8,285.5 210.1,287.7 209.5,289.8 208.9,291.8 208.3,293.6 207.8,295.2 207.3,296.3" fill="url(#dotred)" opacity="0.25"/>
<polyline points="211.3,298.9 213.6,294.7 215.8,289.7 218.0,284.1 220.1,278.4 222.3,272.8 224.4,267.2 226.4,261.8 228.4,256.7 230.4,252.0 232.3,247.5 234.3,243.5 236.2,239.8 237.9,236.4 239.7,233.3 241.4,230.6 243.1,228.1 244.8,225.9 246.4,223.9 248.1,222.1 249.8,220.5 251.4,219.1 253.0,217.7 254.7,216.5 256.3,215.4 258.0,214.4 259.7,213.5 261.4,212.6 263.1,211.9 264.9,211.1 266.6,210.4 268.4,209.9 270.2,209.4 272.1,208.9 273.9,208.4 275.7,208.0 277.5,207.6 279.4,207.3 281.2,206.9 283.0,206.6 284.9,206.3 286.7,206.0 288.6,205.7 290.4,205.5 292.3,205.2 294.1,205.0 296.0,204.8 297.8,204.6 299.7,204.3 301.5,204.2 303.4,204.0 305.3,203.8 307.1,203.6 309.0,203.5 310.9,203.3 312.7,203.2 314.6,203.0 316.4,202.9 318.3,202.7 320.2,202.6 322.0,202.5 323.9,202.4 325.8,202.3 327.6,202.2 329.5,202.1 331.4,202.0 333.3,201.9 335.1,201.8 337.0,201.7 338.9,201.6 340.7,201.5 342.6,201.4 344.5,201.4 346.3,201.3 348.2,201.2 350.1,201.2 352.0,201.1 353.8,201.0 355.7,201.0 357.6,200.9 359.4,200.8" fill="none" stroke="#f8b4bc" stroke-width="0.5" stroke-dasharray="0.6 1.2"/>
<polyline points="208.8,297.3 210.5,293.5 212.3,288.4 214.1,282.9 215.9,277.1 217.7,271.2 219.5,265.5 221.3,260.0 223.1,254.8 225.0,249.8 226.8,245.2 228.7,240.9 230.5,237.0 232.5,233.4 234.4,230.1 236.3,227.1 238.2,224.5 240.2,222.0 242.1,219.9 244.0,217.9 246.0,216.1 247.9,214.6 249.9,213.2 251.8,212.0 253.8,210.9 255.7,209.9 257.7,209.0 259.6,208.2 261.5,207.5 263.4,206.8 265.3,206.2 267.2,205.7 269.1,205.1 271.0,204.7 272.9,204.2 274.8,203.8 276.7,203.5 278.6,203.1 280.5,202.8 282.4,202.5 284.3,202.2 286.1,201.9 288.0,201.7 289.9,201.4 291.8,201.2 293.7,201.0 295.5,200.8 297.4,200.6 299.3,200.4 301.2,200.2 303.1,200.1 304.9,199.9 306.8,199.8 308.7,199.6 310.6,199.5 312.5,199.4 314.3,199.3 316.2,199.1 318.1,199.0 320.0,198.9 321.9,198.8 323.7,198.7 325.6,198.7 327.5,198.6 329.4,198.5 331.2,198.4 333.1,198.4 335.0,198.3 336.9,198.2 338.7,198.2 340.6,198.1 342.5,198.1 344.4,198.0 346.3,198.0 348.1,197.9 350.0,197.9 351.9,197.8 353.8,197.8 355.6,197.8 357.5,197.7 359.4,197.7" fill="none" stroke="#f8b4bc" stroke-width="0.5" stroke-dasharray="0.6 1.2"/>
<polyline points="210.6,298.4 212.8,294.4 214.9,289.3 216.9,283.8 219.0,278.1 221.0,272.3 223.1,266.7 225.0,261.3 227.0,256.2 228.9,251.4 230.8,246.9 232.7,242.8 234.6,239.0 236.4,235.6 238.2,232.4 240.0,229.6 241.8,227.1 243.5,224.8 245.3,222.8 247.0,221.0 248.7,219.3 250.5,217.8 252.2,216.5 253.9,215.3 255.6,214.2 257.4,213.2 259.2,212.3 260.9,211.4 262.7,210.7 264.5,210.0 266.3,209.3 268.1,208.7 269.9,208.2 271.8,207.7 273.6,207.3 275.5,206.9 277.3,206.5 279.1,206.1 281.0,205.8 282.8,205.5 284.7,205.2 286.6,204.9 288.4,204.6 290.3,204.4 292.1,204.1 294.0,203.9 295.9,203.7 297.7,203.5 299.6,203.3 301.5,203.1 303.3,202.9 305.2,202.7 307.0,202.6 308.9,202.4 310.8,202.3 312.7,202.1 314.5,202.0 316.4,201.9 318.3,201.7 320.1,201.6 322.0,201.5 323.9,201.4 325.7,201.3 327.6,201.2 329.5,201.1 331.3,201.0 333.2,200.9 335.1,200.8 337.0,200.7 338.8,200.7 340.7,200.6 342.6,200.5 344.4,200.5 346.3,200.4 348.2,200.3 350.1,200.3 351.9,200.2 353.8,200.1 355.7,200.1 357.6,200.0 359.4,200.0" fill="none" stroke="#f8b4bc" stroke-width="0.5" stroke-dasharray="0.6 1.2"/>
<polyline points="209.8,297.9 211.8,294.0 213.7,288.9 215.6,283.4 217.6,277.6 219.5,271.8 221.4,266.2 223.3,260.7 225.2,255.5 227.1,250.7 229.0,246.1 230.9,241.9 232.8,238.1 234.6,234.6 236.5,231.4 238.3,228.5 240.2,225.9 242.0,223.6 243.8,221.5 245.7,219.6 247.5,217.9 249.3,216.4 251.1,215.0 253.0,213.8 254.8,212.7 256.6,211.7 258.5,210.8 260.3,210.0 262.2,209.2 264.0,208.5 265.9,207.9 267.7,207.3 269.6,206.8 271.4,206.3 273.3,205.9 275.2,205.5 277.0,205.1 278.9,204.8 280.8,204.4 282.6,204.1 284.5,203.8 286.4,203.5 288.2,203.3 290.1,203.0 292.0,202.8 293.8,202.6 295.7,202.4 297.6,202.2 299.5,202.0 301.3,201.8 303.2,201.6 305.1,201.5 306.9,201.3 308.8,201.2 310.7,201.0 312.6,200.9 314.4,200.7 316.3,200.6 318.2,200.5 320.1,200.4 321.9,200.3 323.8,200.2 325.7,200.1 327.6,200.0 329.4,199.9 331.3,199.8 333.2,199.7 335.0,199.7 336.9,199.6 338.8,199.5 340.7,199.5 342.5,199.4 344.4,199.3 346.3,199.3 348.2,199.2 350.0,199.2 351.9,199.1 353.8,199.1 355.7,199.0 357.5,199.0 359.4,198.9" fill="none" stroke="#f8b4bc" stroke-width="0.5" stroke-dasharray="0.6 1.2"/>
<polyline points="208.5,297.1 210.2,293.3 211.9,288.3 213.7,282.7 215.4,276.9 217.1,271.1 218.9,265.3 220.7,259.8 222.5,254.6 224.4,249.6 226.2,244.9 228.1,240.6 229.9,236.7 231.9,233.0 233.8,229.7 235.7,226.8 237.7,224.0 239.7,221.6 241.6,219.4 243.6,217.4 245.6,215.7 247.6,214.1 249.5,212.7 251.5,211.5 253.5,210.4 255.5,209.4 257.4,208.5 259.4,207.7 261.3,207.0 263.3,206.3 265.2,205.8 267.1,205.2 269.0,204.7 270.9,204.2 272.8,203.8 274.7,203.4 276.6,203.0 278.5,202.6 280.4,202.3 282.3,202.0 284.2,201.7 286.1,201.5 288.0,201.2 289.8,201.0 291.7,200.7 293.6,200.5 295.5,200.3 297.4,200.1 299.3,200.0 301.1,199.8 303.0,199.6 304.9,199.5 306.8,199.3 308.7,199.2 310.6,199.1 312.4,199.0 314.3,198.8 316.2,198.7 318.1,198.6 320.0,198.5 321.8,198.4 323.7,198.3 325.6,198.3 327.5,198.2 329.3,198.1 331.2,198.0 333.1,198.0 335.0,197.9 336.9,197.8 338.7,197.8 340.6,197.7 342.5,197.7 344.4,197.6 346.2,197.6 348.1,197.5 350.0,197.5 351.9,197.5 353.7,197.4 355.6,197.4 357.5,197.4 359.4,197.3" fill="none" stroke="#f8b4bc" stroke-width="0.5" stroke-dasharray="0.6 1.2"/>
<polyline points="211.2,298.8 213.5,294.7 215.7,289.6 217.8,284.1 220.0,278.4 222.1,272.7 224.3,267.1 226.2,261.8 228.2,256.7 230.2,251.9 232.1,247.5 234.1,243.4 236.0,239.7 237.7,236.3 239.5,233.2 241.2,230.4 242.9,227.9 244.6,225.7 246.3,223.7 248.0,222.0 249.6,220.4 251.3,218.9 252.9,217.6 254.6,216.4 256.2,215.3 257.9,214.3 259.6,213.3 261.4,212.5 263.1,211.7 264.8,211.0 266.6,210.3 268.4,209.7 270.2,209.2 272.0,208.7 273.8,208.3 275.7,207.9 277.5,207.5 279.3,207.1 281.2,206.8 283.0,206.5 284.8,206.2 286.7,205.9 288.5,205.6 290.4,205.3 292.3,205.1 294.1,204.9 296.0,204.6 297.8,204.4 299.7,204.2 301.5,204.0 303.4,203.8 305.3,203.7 307.1,203.5 309.0,203.3 310.8,203.2 312.7,203.0 314.6,202.9 316.4,202.7 318.3,202.6 320.2,202.5 322.0,202.4 323.9,202.2 325.8,202.1 327.6,202.0 329.5,201.9 331.4,201.8 333.3,201.7 335.1,201.6 337.0,201.6 338.9,201.5 340.7,201.4 342.6,201.3 344.5,201.2 346.3,201.2 348.2,201.1 350.1,201.0 352.0,201.0 353.8,200.9 355.7,200.8 357.6,200.8 359.4,200.7" fill="none" stroke="#f8b4bc" stroke-width="0.5" stroke-dasharray="0.6 1.2"/>
<polyline points="211.0,298.7 213.2,294.6 215.4,289.5 217.5,284.0 219.6,278.3 221.7,272.6 223.8,267.0 225.8,261.6 227.7,256.5 229.7,251.7 231.6,247.2 233.5,243.2 235.5,239.5 237.2,236.0 239.0,232.9 240.7,230.1 242.5,227.6 244.2,225.4 245.9,223.4 247.6,221.6 249.3,220.0 251.0,218.5 252.6,217.2 254.3,215.9 256.0,214.8 257.7,213.8 259.4,212.9 261.2,212.1 262.9,211.3 264.7,210.6 266.5,209.9 268.3,209.3 270.1,208.8 271.9,208.4 273.7,207.9 275.6,207.5 277.4,207.1 279.3,206.7 281.1,206.4 282.9,206.1 284.8,205.8 286.6,205.5 288.5,205.2 290.4,205.0 292.2,204.7 294.1,204.5 295.9,204.3 297.8,204.1 299.6,203.8 301.5,203.7 303.4,203.5 305.2,203.3 307.1,203.1 309.0,203.0 310.8,202.8 312.7,202.7 314.6,202.5 316.4,202.4 318.3,202.3 320.2,202.1 322.0,202.0 323.9,201.9 325.8,201.8 327.6,201.7 329.5,201.6 331.4,201.5 333.2,201.4 335.1,201.3 337.0,201.2 338.8,201.2 340.7,201.1 342.6,201.0 344.5,200.9 346.3,200.9 348.2,200.8 350.1,200.7 351.9,200.7 353.8,200.6 355.7,200.6 357.6,200.5 359.4,200.4" fill="none" stroke="#f8b4bc" stroke-width="0.5" stroke-dasharray="0.6 1.2"/>
<polyline points="208.8,297.3 210.6,293.5 212.3,288.4 214.1,282.9 215.9,277.1 217.7,271.3 219.5,265.5 221.3,260.0 223.2,254.8 225.0,249.8 226.9,245.2 228.7,240.9 230.6,237.0 232.5,233.4 234.4,230.1 236.3,227.2 238.3,224.5 240.2,222.1 242.1,219.9 244.1,217.9 246.0,216.2 248.0,214.6 249.9,213.2 251.9,212.0 253.8,210.9 255.7,209.9 257.7,209.0 259.6,208.2 261.5,207.5 263.4,206.8 265.3,206.3 267.2,205.7 269.1,205.2 271.0,204.7 272.9,204.3 274.8,203.9 276.7,203.5 278.6,203.1 280.5,202.8 282.4,202.5 284.3,202.2 286.1,201.9 288.0,201.7 289.9,201.5 291.8,201.2 293.7,201.0 295.5,200.8 297.4,200.6 299.3,200.4 301.2,200.3 303.1,200.1 305.0,199.9 306.8,199.8 308.7,199.7 310.6,199.5 312.5,199.4 314.3,199.3 316.2,199.2 318.1,199.1 320.0,199.0 321.9,198.9 323.7,198.8 325.6,198.7 327.5,198.6 329.4,198.5 331.2,198.5 333.1,198.4 335.0,198.3 336.9,198.3 338.7,198.2 340.6,198.1 342.5,198.1 344.4,198.0 346.3,198.0 348.1,197.9 350.0,197.9 351.9,197.9 353.8,197.8 355.6,197.8 357.5,197.7 359.4,197.7" fill="none" stroke="#f8b4bc" stroke-width="0.5" stroke-dasharray="0.6 1.2"/>
<polyline points="211.4,298.9 213.8,294.8 216.0,289.7 218.2,284.2 220.4,278.5 222.5,272.8 224.7,267.3 226.7,261.9 228.7,256.8 230.6,252.1 232.6,247.7 234.5,243.6 236.5,240.0 238.2,236.6 239.9,233.5 241.6,230.7 243.3,228.3 245.0,226.1 246.7,224.1 248.3,222.3 250.0,220.7 251.6,219.3 253.2,218.0 254.8,216.8 256.5,215.7 258.1,214.7 259.8,213.7 261.5,212.9 263.2,212.1 265.0,211.3 266.7,210.7 268.5,210.1 270.3,209.6 272.1,209.1 273.9,208.7 275.7,208.2 277.6,207.9 279.4,207.5 281.2,207.1 283.1,206.8 284.9,206.5 286.7,206.2 288.6,205.9 290.4,205.7 292.3,205.4 294.1,205.2 296.0,205.0 297.9,204.8 299.7,204.5 301.6,204.4 303.4,204.2 305.3,204.0 307.1,203.8 309.0,203.7 310.9,203.5 312.7,203.3 314.6,203.2 316.5,203.1 318.3,202.9 320.2,202.8 322.1,202.7 323.9,202.6 325.8,202.4 327.7,202.3 329.5,202.2 331.4,202.1 333.3,202.0 335.1,201.9 337.0,201.9 338.9,201.8 340.7,201.7 342.6,201.6 344.5,201.5 346.4,201.5 348.2,201.4 350.1,201.3 352.0,201.3 353.8,201.2 355.7,201.1 357.6,201.1 359.5,201.0" fill="none" stroke="#f8b4bc" stroke-width="0.5" stroke-dasharray="0.6 1.2"/>
<polyline points="208.2,296.9 209.8,293.2 211.5,288.1 213.2,282.6 214.9,276.7 216.6,270.9 218.3,265.1 220.1,259.6 221.9,254.3 223.7,249.3 225.6,244.7 227.4,240.3 229.2,236.3 231.2,232.7 233.2,229.4 235.1,226.3 237.1,223.6 239.1,221.1 241.1,218.9 243.1,216.9 245.1,215.1 247.1,213.6 249.2,212.2 251.2,210.9 253.2,209.8 255.2,208.8 257.2,207.9 259.2,207.2 261.1,206.4 263.1,205.8 265.0,205.2 267.0,204.7 268.9,204.2 270.8,203.7 272.7,203.3 274.6,202.9 276.5,202.5 278.4,202.1 280.3,201.8 282.2,201.5 284.1,201.2 286.0,201.0 287.9,200.7 289.8,200.5 291.7,200.3 293.6,200.1 295.4,199.9 297.3,199.7 299.2,199.5 301.1,199.3 303.0,199.2 304.9,199.0 306.8,198.9 308.6,198.7 310.5,198.6 312.4,198.5 314.3,198.4 316.2,198.3 318.0,198.2 319.9,198.1 321.8,198.0 323.7,197.9 325.6,197.8 327.4,197.8 329.3,197.7 331.2,197.6 333.1,197.5 335.0,197.5 336.8,197.4 338.7,197.4 340.6,197.3 342.5,197.3 344.4,197.2 346.2,197.2 348.1,197.2 350.0,197.1 351.9,197.1 353.7,197.0 355.6,197.0 357.5,197.0 359.4,197.0" fill="none" stroke="#f8b4bc" stroke-width="0.5" stroke-dasharray="0.6 1.2"/>
<polyline points="210.7,298.5 212.9,294.4 215.0,289.4 217.1,283.8 219.1,278.1 221.2,272.4 223.3,266.8 225.2,261.4 227.2,256.3 229.1,251.5 231.0,247.0 232.9,242.9 234.8,239.1 236.6,235.7 238.4,232.6 240.2,229.7 241.9,227.2 243.7,225.0 245.4,222.9 247.1,221.1 248.9,219.5 250.6,218.0 252.3,216.7 254.0,215.5 255.7,214.3 257.5,213.3 259.2,212.4 261.0,211.6 262.8,210.8 264.5,210.1 266.3,209.4 268.2,208.9 270.0,208.4 271.8,207.9 273.6,207.5 275.5,207.0 277.3,206.7 279.2,206.3 281.0,206.0 282.9,205.6 284.7,205.3 286.6,205.0 288.4,204.8 290.3,204.5 292.2,204.3 294.0,204.0 295.9,203.8 297.7,203.6 299.6,203.4 301.5,203.2 303.3,203.0 305.2,202.9 307.1,202.7 308.9,202.6 310.8,202.4 312.7,202.3 314.5,202.1 316.4,202.0 318.3,201.9 320.1,201.7 322.0,201.6 323.9,201.5 325.7,201.4 327.6,201.3 329.5,201.2 331.4,201.1 333.2,201.0 335.1,200.9 337.0,200.9 338.8,200.8 340.7,200.7 342.6,200.6 344.5,200.6 346.3,200.5 348.2,200.4 350.1,200.4 351.9,200.3 353.8,200.3 355.7,200.2 357.6,200.2 359.4,200.1" fill="none" stroke="#f8b4bc" stroke-width="0.5" stroke-dasharray="0.6 1.2"/>
<polyline points="210.2,298.1 212.2,294.2 214.2,289.1 216.2,283.6 218.2,277.8 220.2,272.1 222.2,266.4 224.1,261.0 226.0,255.8 227.9,251.0 229.8,246.5 231.7,242.3 233.6,238.5 235.5,235.0 237.3,231.9 239.1,229.0 240.9,226.4 242.7,224.1 244.5,222.1 246.3,220.2 248.1,218.6 249.8,217.1 251.6,215.7 253.4,214.5 255.2,213.4 257.0,212.4 258.8,211.5 260.6,210.6 262.4,209.9 264.2,209.2 266.1,208.5 267.9,208.0 269.7,207.5 271.6,207.0 273.4,206.6 275.3,206.1 277.2,205.8 279.0,205.4 280.9,205.1 282.7,204.7 284.6,204.5 286.5,204.2 288.3,203.9 290.2,203.7 292.1,203.4 293.9,203.2 295.8,203.0 297.7,202.8 299.5,202.6 301.4,202.4 303.3,202.2 305.1,202.0 307.0,201.9 308.9,201.7 310.7,201.6 312.6,201.5 314.5,201.3 316.3,201.2 318.2,201.1 320.1,201.0 322.0,200.9 323.8,200.7 325.7,200.6 327.6,200.5 329.4,200.5 331.3,200.4 333.2,200.3 335.1,200.2 336.9,200.1 338.8,200.1 340.7,200.0 342.6,199.9 344.4,199.9 346.3,199.8 348.2,199.7 350.1,199.7 351.9,199.6 353.8,199.6 355.7,199.5 357.5,199.5 359.4,199.4" fill="none" stroke="#f8b4bc" stroke-width="0.5" stroke-dasharray="0.6 1.2"/>
<polygon points="210.8,298.6 211.7,297.1 212.5,295.4 213.3,293.5 214.0,291.4 214.8,289.3 215.6,287.1 216.3,284.9 217.1,282.6 217.9,280.3 218.6,277.9 219.4,275.6 220.1,273.3 220.9,271.0 221.6,268.8 222.4,266.5 223.2,264.3 223.9,262.1 224.7,260.0 225.4,257.9 226.2,255.9 226.9,253.9 227.7,252.0 228.4,250.1 229.2,248.3 229.9,246.5 230.7,244.8 231.4,243.2 232.2,241.6 232.9,240.0 233.7,238.6 234.4,237.1 235.1,235.7 235.9,234.4 236.6,233.1 237.3,231.9 238.1,230.7 238.8,229.6 239.5,228.5 240.2,227.5 241.0,226.5 241.7,225.5 242.4,224.6 243.1,223.8 243.8,222.9 244.6,222.1 245.3,221.4 246.0,220.6 246.7,220.0 247.4,219.3 248.1,218.6 248.9,218.0 249.6,217.5 250.3,216.9 251.0,216.4 251.7,215.8 252.4,215.4 253.2,214.9 253.9,214.4 254.6,214.0 255.3,213.6 256.0,213.2 256.7,212.8 257.5,212.4 258.2,212.1 258.9,211.7 259.6,211.4 260.4,211.1 261.1,210.8 261.8,210.5 262.5,210.2 263.3,210.0 264.0,209.7 264.7,209.4 265.5,209.2 266.2,209.0 266.9,208.7 267.7,208.5 268.4,208.3 269.1,208.1 269.9,207.9 270.6,207.7 271.3,207.5 272.1,207.3 272.8,207.2 273.5,207.0 274.3,206.8 275.0,206.7 275.8,206.5 276.5,206.4 277.2,206.2 278.0,206.1 278.7,205.9 279.5,205.8 280.2,205.7 280.9,205.5 281.7,205.4 282.4,205.3 283.2,205.1 283.9,205.0 284.7,204.9 285.4,204.8 286.2,204.7 286.9,204.6 287.6,204.5 288.4,204.4 289.1,204.3 289.9,204.2 290.6,204.1 291.4,204.0 292.1,203.9 292.9,203.8 293.6,203.7 294.3,203.6 295.1,203.5 295.8,203.5 296.6,203.4 297.3,203.3 298.1,203.2 298.8,203.2 299.6,203.1 300.3,203.0 301.1,202.9 301.8,202.9 302.6,202.8 303.3,202.7 304.0,202.7 304.8,202.6 305.5,202.5 306.3,202.5 307.0,202.4 307.8,202.3 308.5,202.3 309.3,202.2 310.0,202.2 310.8,202.1 311.5,202.1 312.3,202.0 313.0,202.0 313.8,201.9 314.5,201.9 315.3,201.8 316.0,201.8 316.8,201.7 317.5,201.7 318.2,201.6 319.0,201.6 319.7,201.5 320.5,201.5 321.2,201.4 322.0,201.4 322.7,201.4 323.5,201.3 324.2,201.3 325.0,201.2 325.7,201.2 326.5,201.2 327.2,201.1 328.0,201.1 328.7,201.1 329.5,201.0 330.2,201.0 331.0,201.0 331.7,200.9 332.5,200.9 333.2,200.9 334.0,200.8 334.7,200.8 335.5,200.8 336.2,200.7 337.0,200.7 337.7,200.7 338.5,200.7 339.2,200.6 340.0,200.6 340.7,200.6 341.5,200.5 342.2,200.5 343.0,200.5 343.7,200.5 344.4,200.4 345.2,200.4 345.9,200.4 346.7,200.4 347.4,200.4 348.2,200.3 348.9,200.3 349.7,200.3 350.4,200.3 351.2,200.3 351.9,200.2 352.7,200.2 353.4,200.2 354.2,200.2 354.9,200.2 355.7,200.1 356.4,200.1 357.2,200.1 357.9,200.1 358.7,200.1 359.4,200.1 359.4,196.9 358.6,196.9 357.9,196.9 357.1,196.9 356.4,196.9 355.6,196.9 354.9,196.9 354.1,197.0 353.4,197.0 352.6,197.0 351.9,197.0 351.1,197.0 350.4,197.0 349.6,197.1 348.9,197.1 348.1,197.1 347.4,197.1 346.6,197.1 345.9,197.1 345.1,197.2 344.4,197.2 343.6,197.2 342.8,197.2 342.1,197.2 341.3,197.3 340.6,197.3 339.8,197.3 339.1,197.3 338.3,197.4 337.6,197.4 336.8,197.4 336.1,197.4 335.3,197.5 334.6,197.5 333.8,197.5 333.1,197.5 332.3,197.6 331.6,197.6 330.8,197.6 330.1,197.7 329.3,197.7 328.6,197.7 327.8,197.8 327.1,197.8 326.3,197.8 325.6,197.9 324.8,197.9 324.1,197.9 323.3,198.0 322.6,198.0 321.8,198.0 321.1,198.1 320.3,198.1 319.6,198.2 318.8,198.2 318.1,198.2 317.3,198.3 316.5,198.3 315.8,198.4 315.0,198.4 314.3,198.5 313.5,198.5 312.8,198.6 312.0,198.6 311.3,198.7 310.5,198.7 309.8,198.8 309.0,198.8 308.3,198.9 307.5,198.9 306.8,199.0 306.0,199.0 305.3,199.1 304.5,199.2 303.8,199.2 303.0,199.3 302.2,199.4 301.5,199.4 300.7,199.5 300.0,199.6 299.2,199.6 298.5,199.7 297.7,199.8 297.0,199.9 296.2,199.9 295.5,200.0 294.7,200.1 294.0,200.2 293.2,200.3 292.4,200.3 291.7,200.4 290.9,200.5 290.2,200.6 289.4,200.7 288.7,200.8 287.9,200.9 287.2,201.0 286.4,201.1 285.6,201.2 284.9,201.3 284.1,201.4 283.4,201.5 282.6,201.7 281.9,201.8 281.1,201.9 280.4,202.0 279.6,202.2 278.8,202.3 278.1,202.4 277.3,202.6 276.6,202.7 275.8,202.9 275.0,203.0 274.3,203.2 273.5,203.3 272.8,203.5 272.0,203.7 271.2,203.9 270.5,204.0 269.7,204.2 268.9,204.4 268.2,204.6 267.4,204.8 266.6,205.1 265.9,205.3 265.1,205.5 264.3,205.8 263.6,206.0 262.8,206.3 262.0,206.5 261.3,206.8 260.5,207.1 259.7,207.4 258.9,207.7 258.2,208.0 257.4,208.4 256.6,208.7 255.8,209.1 255.1,209.5 254.3,209.9 253.5,210.3 252.7,210.8 251.9,211.2 251.1,211.7 250.4,212.2 249.6,212.7 248.8,213.3 248.0,213.9 247.2,214.5 246.4,215.1 245.7,215.8 244.9,216.4 244.1,217.2 243.3,217.9 242.5,218.7 241.7,219.5 241.0,220.4 240.2,221.2 239.4,222.2 238.6,223.1 237.8,224.2 237.1,225.2 236.3,226.3 235.5,227.4 234.7,228.6 234.0,229.8 233.2,231.1 232.4,232.5 231.7,233.8 230.9,235.3 230.1,236.8 229.4,238.3 228.6,239.9 227.9,241.5 227.1,243.2 226.4,245.0 225.6,246.8 224.9,248.7 224.1,250.6 223.4,252.6 222.6,254.6 221.9,256.6 221.1,258.8 220.4,260.9 219.6,263.1 218.9,265.3 218.2,267.6 217.4,269.9 216.7,272.2 215.9,274.5 215.2,276.8 214.4,279.2 213.7,281.5 213.0,283.7 212.2,286.0 211.5,288.1 210.8,290.2 210.0,292.2 209.3,294.0 208.6,295.6 208.0,296.7" fill="#f4979f"/>
<polyline points="209.4,297.6 210.2,296.4 210.9,294.7 211.7,292.8 212.4,290.8 213.2,288.7 213.9,286.5 214.7,284.3 215.4,282.0 216.2,279.7 216.9,277.4 217.7,275.1 218.4,272.8 219.2,270.5 219.9,268.2 220.7,265.9 221.4,263.7 222.2,261.5 222.9,259.4 223.7,257.3 224.4,255.2 225.2,253.2 225.9,251.3 226.7,249.4 227.4,247.6 228.2,245.8 228.9,244.0 229.7,242.4 230.4,240.7 231.2,239.2 231.9,237.7 232.7,236.2 233.4,234.8 234.2,233.4 234.9,232.1 235.7,230.9 236.4,229.7 237.2,228.5 237.9,227.4 238.7,226.3 239.4,225.3 240.2,224.3 240.9,223.4 241.7,222.5 242.4,221.6 243.2,220.8 243.9,220.0 244.7,219.3 245.4,218.6 246.2,217.9 246.9,217.2 247.7,216.6 248.4,216.0 249.2,215.4 249.9,214.8 250.7,214.3 251.4,213.8 252.1,213.3 252.9,212.8 253.6,212.4 254.4,212.0 255.2,211.5 255.9,211.2 256.6,210.8 257.4,210.4 258.1,210.1 258.9,209.7 259.6,209.4 260.4,209.1 261.1,208.8 261.9,208.5 262.6,208.2 263.4,208.0 264.1,207.7 264.9,207.5 265.6,207.2 266.4,207.0 267.1,206.8 267.9,206.6 268.6,206.4 269.4,206.2 270.1,206.0 270.9,205.8 271.6,205.6 272.4,205.4 273.1,205.3 273.9,205.1 274.6,204.9 275.4,204.8 276.1,204.6 276.9,204.5 277.6,204.3 278.4,204.2 279.1,204.0 279.9,203.9 280.6,203.8 281.4,203.7 282.1,203.5 282.9,203.4 283.6,203.3 284.4,203.2 285.1,203.1 285.9,203.0 286.6,202.8 287.4,202.7 288.1,202.6 288.9,202.5 289.6,202.4 290.4,202.4 291.1,202.3 291.9,202.2 292.6,202.1 293.4,202.0 294.1,201.9 294.9,201.8 295.6,201.7 296.4,201.7 297.1,201.6 297.9,201.5 298.6,201.4 299.4,201.4 300.1,201.3 300.9,201.2 301.6,201.1 302.4,201.1 303.1,201.0 303.9,200.9 304.6,200.9 305.4,200.8 306.1,200.8 306.9,200.7 307.6,200.6 308.4,200.6 309.1,200.5 309.9,200.5 310.6,200.4 311.4,200.4 312.1,200.3 312.9,200.3 313.6,200.2 314.4,200.2 315.1,200.1 315.9,200.1 316.6,200.0 317.4,200.0 318.1,199.9 318.9,199.9 319.6,199.8 320.4,199.8 321.1,199.8 321.9,199.7 322.6,199.7 323.4,199.6 324.1,199.6 324.9,199.6 325.6,199.5 326.4,199.5 327.1,199.5 327.9,199.4 328.6,199.4 329.4,199.4 330.1,199.3 330.9,199.3 331.6,199.3 332.4,199.2 333.1,199.2 333.9,199.2 334.6,199.1 335.4,199.1 336.1,199.1 336.9,199.1 337.6,199.0 338.4,199.0 339.1,199.0 339.9,199.0 340.6,198.9 341.4,198.9 342.1,198.9 342.9,198.9 343.6,198.8 344.4,198.8 345.1,198.8 345.9,198.8 346.6,198.8 347.4,198.7 348.1,198.7 348.9,198.7 349.6,198.7 350.4,198.7 351.1,198.6 351.9,198.6 352.6,198.6 353.4,198.6 354.1,198.6 354.9,198.5 355.6,198.5 356.4,198.5 357.1,198.5 357.9,198.5 358.6,198.5 359.4,198.5" fill="none" stroke="#e6202f" stroke-width="1.6" stroke-linejoin="round"/>
<rect x="209.4" y="185.4" width="150.00" height="116.40" fill="none" stroke="#bdbdbd" stroke-width="1"/>
<path d="M209.40,301.8v-1.4M209.40,185.4v1.4M246.90,301.8v-1.4M246.90,185.4v1.4M284.40,301.8v-1.4M284.40,185.4v1.4M321.90,301.8v-1.4M321.90,185.4v1.4M359.40,301.8v-1.4M359.40,185.4v1.4M209.4,301.80h1.4M359.4,301.80h-1.4M209.4,287.25h1.4M359.4,287.25h-1.4M209.4,272.70h1.4M359.4,272.70h-1.4M209.4,258.15h1.4M359.4,258.15h-1.4M209.4,243.60h1.4M359.4,243.60h-1.4M209.4,229.05h1.4M359.4,229.05h-1.4M209.4,214.50h1.4M359.4,214.50h-1.4M209.4,199.95h1.4M359.4,199.95h-1.4M209.4,185.40h1.4M359.4,185.40h-1.4" stroke="#555" stroke-width="0.6" fill="none"/>
<text x="206.80" y="304.00" text-anchor="end" class="tk">0.2</text>
<text x="206.80" y="289.45" text-anchor="end" class="tk">0.3</text>
<text x="206.80" y="274.90" text-anchor="end" class="tk">0.4</text>
<text x="206.80" y="260.35" text-anchor="end" class="tk">0.5</text>
<text x="206.80" y="245.80" text-anchor="end" class="tk">0.6</text>
<text x="206.80" y="231.25" text-anchor="end" class="tk">0.7</text>
<text x="206.80" y="216.70" text-anchor="end" class="tk">0.8</text>
<text x="206.80" y="202.15" text-anchor="end" class="tk">0.9</text>
<text x="206.80" y="187.60" text-anchor="end" class="tk">1</text>
<text x="209.40" y="310.00" text-anchor="middle" class="tk">0</text>
<text x="246.90" y="310.00" text-anchor="middle" class="tk">100</text>
<text x="284.40" y="310.00" text-anchor="middle" class="tk">200</text>
<text x="321.90" y="310.00" text-anchor="middle" class="tk">300</text>
<text x="359.40" y="310.00" text-anchor="middle" class="tk">400</text>
<text x="284.40" y="319.20" text-anchor="middle" class="xl">Iteration Number</text>
<text transform="translate(196.30,243.60) rotate(-90)" text-anchor="middle" class="yl">ME</text>
<text x="284.40" y="181.00" text-anchor="middle" class="ti" textLength="107.4" lengthAdjust="spacingAndGlyphs">NadamSPGD: Δ<tspan font-style="italic">u</tspan>=0.1</text>
<rect x="260.0" y="282.0" width="94.60" height="15.10" fill="#fff" stroke="#a8a8a8" stroke-width="0.8"/>
<path d="M261.20,286.98h14" stroke="#f8d4d8" stroke-width="0.8" stroke-dasharray="0.8 1.4"/>
<path d="M260.40,293.63h15.2" stroke="#e24a5a" stroke-width="2.3"/>
<text x="276.60" y="288.88" class="lg">100 simulations (NadamSPGD)</text>
<text x="276.60" y="295.93" class="lg">Mean and std (NadamSPGD)</text>
<text x="284.40" y="331.50" text-anchor="middle" class="sc">(e)</text>
<rect x="391.7" y="185.4" width="150.00" height="116.40" fill="#fff"/>
<path d="M429.20,185.4V301.8M466.70,185.4V301.8M504.20,185.4V301.8M391.7,287.25H541.7M391.7,272.70H541.7M391.7,258.15H541.7M391.7,243.60H541.7M391.7,229.05H541.7M391.7,214.50H541.7M391.7,199.95H541.7" stroke="#eeeeee" stroke-width="0.7" fill="none"/>
<polygon points="394.1,299.2 395.1,297.7 396.0,295.9 397.0,294.0 397.9,292.0 398.8,289.9 399.7,287.7 400.6,285.5 401.5,283.3 402.4,281.0 403.3,278.7 404.1,276.4 405.0,274.2 405.9,271.9 406.8,269.7 407.7,267.5 408.5,265.3 409.3,263.2 410.1,261.1 410.9,259.1 411.7,257.1 412.5,255.2 413.3,253.3 414.1,251.5 414.9,249.7 415.7,248.0 416.4,246.3 417.2,244.8 418.0,243.2 418.8,241.8 419.6,240.4 420.2,239.0 420.9,237.6 421.6,236.3 422.3,235.1 423.0,233.9 423.6,232.8 424.3,231.7 425.0,230.7 425.6,229.7 426.3,228.8 427.0,227.9 427.6,227.0 428.3,226.2 428.9,225.4 429.6,224.7 430.2,223.9 430.9,223.3 431.5,222.6 432.2,222.0 432.8,221.4 433.4,220.8 434.0,220.2 434.7,219.6 435.3,219.1 435.9,218.6 436.6,218.1 437.2,217.6 437.8,217.2 438.5,216.7 439.1,216.3 439.8,215.9 440.4,215.5 441.1,215.1 441.7,214.7 442.4,214.4 443.1,214.0 443.7,213.7 444.4,213.3 445.1,213.0 445.8,212.7 446.4,212.4 447.1,212.1 447.8,211.8 448.5,211.5 449.2,211.2 449.9,211.0 450.6,210.8 451.3,210.6 452.0,210.4 452.8,210.2 453.5,210.0 454.2,209.8 454.9,209.6 455.6,209.4 456.4,209.3 457.1,209.1 457.8,208.9 458.5,208.8 459.3,208.6 460.0,208.4 460.7,208.3 461.4,208.1 462.2,208.0 462.9,207.9 463.6,207.7 464.4,207.6 465.1,207.5 465.8,207.3 466.6,207.2 467.3,207.1 468.0,207.0 468.8,206.9 469.5,206.7 470.2,206.6 471.0,206.5 471.7,206.4 472.4,206.3 473.2,206.2 473.9,206.1 474.7,206.0 475.4,205.9 476.1,205.8 476.9,205.7 477.6,205.6 478.4,205.5 479.1,205.4 479.8,205.4 480.6,205.3 481.3,205.2 482.1,205.1 482.8,205.0 483.5,204.9 484.3,204.9 485.0,204.8 485.8,204.7 486.5,204.6 487.3,204.6 488.0,204.5 488.7,204.4 489.5,204.4 490.2,204.3 491.0,204.2 491.7,204.2 492.5,204.1 493.2,204.0 494.0,204.0 494.7,203.9 495.4,203.8 496.2,203.8 496.9,203.7 497.7,203.7 498.4,203.6 499.2,203.6 499.9,203.5 500.7,203.5 501.4,203.4 502.1,203.3 502.9,203.3 503.6,203.2 504.4,203.2 505.1,203.1 505.9,203.1 506.6,203.0 507.4,203.0 508.1,203.0 508.9,202.9 509.6,202.9 510.4,202.8 511.1,202.8 511.8,202.7 512.6,202.7 513.3,202.7 514.1,202.6 514.8,202.6 515.6,202.5 516.3,202.5 517.1,202.5 517.8,202.4 518.6,202.4 519.3,202.3 520.1,202.3 520.8,202.3 521.6,202.2 522.3,202.2 523.1,202.2 523.8,202.1 524.6,202.1 525.3,202.1 526.0,202.0 526.8,202.0 527.5,202.0 528.3,201.9 529.0,201.9 529.8,201.9 530.5,201.9 531.3,201.8 532.0,201.8 532.8,201.8 533.5,201.7 534.3,201.7 535.0,201.7 535.8,201.7 536.5,201.6 537.3,201.6 538.0,201.6 538.8,201.6 539.5,201.5 540.3,201.5 541.0,201.5 541.8,201.5 541.6,195.5 540.9,195.5 540.1,195.5 539.4,195.5 538.6,195.5 537.9,195.5 537.1,195.5 536.4,195.5 535.6,195.5 534.9,195.5 534.1,195.5 533.4,195.5 532.6,195.5 531.9,195.5 531.1,195.6 530.4,195.6 529.6,195.6 528.9,195.6 528.1,195.6 527.4,195.6 526.6,195.6 525.9,195.6 525.1,195.7 524.3,195.7 523.6,195.7 522.8,195.7 522.1,195.7 521.3,195.7 520.6,195.7 519.8,195.8 519.1,195.8 518.3,195.8 517.6,195.8 516.8,195.8 516.1,195.8 515.3,195.9 514.6,195.9 513.8,195.9 513.1,195.9 512.3,196.0 511.6,196.0 510.8,196.0 510.0,196.0 509.3,196.0 508.5,196.1 507.8,196.1 507.0,196.1 506.3,196.2 505.5,196.2 504.8,196.2 504.0,196.2 503.3,196.3 502.5,196.3 501.8,196.3 501.0,196.4 500.2,196.4 499.5,196.4 498.7,196.5 498.0,196.5 497.2,196.6 496.5,196.6 495.7,196.6 495.0,196.7 494.2,196.7 493.4,196.8 492.7,196.8 491.9,196.8 491.2,196.9 490.4,196.9 489.7,197.0 488.9,197.0 488.2,197.1 487.4,197.1 486.6,197.2 485.9,197.2 485.1,197.3 484.4,197.4 483.6,197.4 482.9,197.5 482.1,197.5 481.3,197.6 480.6,197.7 479.8,197.7 479.1,197.8 478.3,197.9 477.5,197.9 476.8,198.0 476.0,198.1 475.3,198.2 474.5,198.2 473.7,198.3 473.0,198.4 472.2,198.5 471.5,198.6 470.7,198.7 469.9,198.8 469.2,198.9 468.4,199.0 467.6,199.1 466.9,199.2 466.1,199.3 465.3,199.4 464.6,199.5 463.8,199.6 463.0,199.7 462.3,199.8 461.5,200.0 460.7,200.1 460.0,200.2 459.2,200.3 458.4,200.5 457.6,200.6 456.9,200.8 456.1,200.9 455.3,201.1 454.5,201.2 453.8,201.4 453.0,201.6 452.2,201.8 451.4,202.0 450.6,202.1 449.9,202.3 449.1,202.6 448.3,202.8 447.5,203.0 446.7,203.2 445.9,203.4 445.1,203.6 444.3,203.9 443.5,204.1 442.6,204.3 441.8,204.6 441.0,204.9 440.2,205.2 439.3,205.5 438.5,205.8 437.7,206.1 436.8,206.5 436.0,206.8 435.1,207.2 434.3,207.6 433.4,208.0 432.6,208.5 431.7,209.0 430.8,209.5 430.0,210.0 429.1,210.5 428.2,211.1 427.4,211.7 426.5,212.4 425.6,213.0 424.7,213.8 423.9,214.5 423.0,215.3 422.2,216.1 421.3,217.0 420.5,217.9 419.6,218.8 418.8,219.8 417.9,220.8 417.1,221.9 416.3,223.0 415.4,224.1 414.6,225.3 413.8,226.5 412.9,227.8 412.1,229.1 411.3,230.5 410.5,231.9 409.7,233.4 408.8,235.0 408.1,236.6 407.4,238.2 406.7,240.0 406.0,241.7 405.2,243.5 404.5,245.4 403.8,247.3 403.1,249.3 402.4,251.3 401.7,253.4 401.0,255.5 400.3,257.7 399.6,259.8 398.9,262.1 398.2,264.3 397.6,266.7 397.0,269.0 396.4,271.3 395.8,273.7 395.1,276.1 394.5,278.4 393.9,280.8 393.3,283.1 392.7,285.4 392.1,287.6 391.5,289.7 390.9,291.7 390.4,293.5 389.8,295.0 389.3,296.1" fill="#fef4f5"/>
<polygon points="393.4,298.8 394.4,297.3 395.3,295.6 396.2,293.7 397.1,291.7 397.9,289.6 398.8,287.4 399.6,285.2 400.5,282.9 401.4,280.7 402.2,278.4 403.1,276.1 403.9,273.8 404.8,271.5 405.6,269.3 406.5,267.1 407.2,264.9 408.0,262.8 408.8,260.7 409.6,258.6 410.4,256.6 411.2,254.7 412.0,252.8 412.8,250.9 413.5,249.1 414.3,247.4 415.1,245.7 415.9,244.1 416.6,242.6 417.4,241.1 418.2,239.7 418.9,238.2 419.6,236.9 420.3,235.6 421.0,234.3 421.7,233.1 422.4,232.0 423.0,230.9 423.7,229.8 424.4,228.8 425.1,227.9 425.8,227.0 426.5,226.1 427.1,225.2 427.8,224.4 428.5,223.7 429.2,222.9 429.8,222.2 430.5,221.5 431.2,220.9 431.9,220.3 432.5,219.7 433.2,219.1 433.8,218.5 434.5,218.0 435.2,217.5 435.8,217.0 436.5,216.5 437.2,216.0 437.8,215.6 438.5,215.2 439.2,214.8 439.9,214.4 440.5,214.0 441.2,213.6 441.9,213.2 442.6,212.9 443.3,212.6 444.0,212.2 444.7,211.9 445.4,211.6 446.1,211.3 446.8,211.0 447.5,210.7 448.2,210.5 448.9,210.2 449.6,210.0 450.3,209.8 451.0,209.5 451.8,209.3 452.5,209.1 453.2,208.9 453.9,208.8 454.7,208.6 455.4,208.4 456.1,208.2 456.8,208.0 457.6,207.9 458.3,207.7 459.0,207.6 459.8,207.4 460.5,207.3 461.2,207.1 462.0,207.0 462.7,206.8 463.4,206.7 464.2,206.6 464.9,206.4 465.7,206.3 466.4,206.2 467.1,206.1 467.9,206.0 468.6,205.8 469.4,205.7 470.1,205.6 470.8,205.5 471.6,205.4 472.3,205.3 473.1,205.2 473.8,205.1 474.5,205.0 475.3,204.9 476.0,204.8 476.8,204.7 477.5,204.6 478.3,204.5 479.0,204.5 479.7,204.4 480.5,204.3 481.2,204.2 482.0,204.1 482.7,204.1 483.5,204.0 484.2,203.9 484.9,203.8 485.7,203.8 486.4,203.7 487.2,203.6 487.9,203.5 488.7,203.5 489.4,203.4 490.2,203.3 490.9,203.3 491.7,203.2 492.4,203.2 493.1,203.1 493.9,203.0 494.6,203.0 495.4,202.9 496.1,202.9 496.9,202.8 497.6,202.7 498.4,202.7 499.1,202.6 499.9,202.6 500.6,202.5 501.3,202.5 502.1,202.4 502.8,202.4 503.6,202.3 504.3,202.3 505.1,202.2 505.8,202.2 506.6,202.2 507.3,202.1 508.1,202.1 508.8,202.0 509.6,202.0 510.3,201.9 511.1,201.9 511.8,201.9 512.6,201.8 513.3,201.8 514.1,201.7 514.8,201.7 515.5,201.7 516.3,201.6 517.0,201.6 517.8,201.6 518.5,201.5 519.3,201.5 520.0,201.5 520.8,201.4 521.5,201.4 522.3,201.4 523.0,201.3 523.8,201.3 524.5,201.3 525.3,201.2 526.0,201.2 526.8,201.2 527.5,201.1 528.3,201.1 529.0,201.1 529.8,201.1 530.5,201.0 531.3,201.0 532.0,201.0 532.8,201.0 533.5,200.9 534.3,200.9 535.0,200.9 535.8,200.9 536.5,200.8 537.3,200.8 538.0,200.8 538.7,200.8 539.5,200.7 540.2,200.7 541.0,200.7 541.7,200.7 541.7,196.2 540.9,196.2 540.2,196.2 539.4,196.3 538.7,196.3 537.9,196.3 537.1,196.3 536.4,196.3 535.6,196.3 534.9,196.3 534.1,196.3 533.4,196.3 532.6,196.3 531.9,196.4 531.1,196.4 530.4,196.4 529.6,196.4 528.9,196.4 528.1,196.4 527.4,196.4 526.6,196.5 525.9,196.5 525.1,196.5 524.4,196.5 523.6,196.5 522.9,196.5 522.1,196.6 521.4,196.6 520.6,196.6 519.9,196.6 519.1,196.6 518.4,196.6 517.6,196.7 516.9,196.7 516.1,196.7 515.4,196.7 514.6,196.8 513.8,196.8 513.1,196.8 512.3,196.8 511.6,196.9 510.8,196.9 510.1,196.9 509.3,196.9 508.6,197.0 507.8,197.0 507.1,197.0 506.3,197.1 505.6,197.1 504.8,197.1 504.1,197.1 503.3,197.2 502.6,197.2 501.8,197.2 501.1,197.3 500.3,197.3 499.5,197.4 498.8,197.4 498.0,197.4 497.3,197.5 496.5,197.5 495.8,197.6 495.0,197.6 494.3,197.6 493.5,197.7 492.8,197.7 492.0,197.8 491.2,197.8 490.5,197.9 489.7,197.9 489.0,198.0 488.2,198.0 487.5,198.1 486.7,198.2 486.0,198.2 485.2,198.3 484.5,198.3 483.7,198.4 482.9,198.5 482.2,198.5 481.4,198.6 480.7,198.6 479.9,198.7 479.2,198.8 478.4,198.9 477.6,198.9 476.9,199.0 476.1,199.1 475.4,199.2 474.6,199.2 473.9,199.3 473.1,199.4 472.3,199.5 471.6,199.6 470.8,199.7 470.1,199.8 469.3,199.9 468.5,200.0 467.8,200.1 467.0,200.2 466.3,200.3 465.5,200.4 464.7,200.5 464.0,200.6 463.2,200.7 462.5,200.9 461.7,201.0 460.9,201.1 460.2,201.2 459.4,201.4 458.6,201.5 457.9,201.7 457.1,201.8 456.3,202.0 455.6,202.1 454.8,202.3 454.0,202.5 453.2,202.6 452.5,202.8 451.7,203.0 450.9,203.2 450.1,203.4 449.4,203.6 448.6,203.8 447.8,204.0 447.0,204.3 446.2,204.5 445.4,204.7 444.6,204.9 443.8,205.2 443.0,205.4 442.2,205.7 441.4,206.0 440.6,206.3 439.8,206.6 439.0,206.9 438.2,207.2 437.4,207.6 436.5,207.9 435.7,208.3 434.9,208.7 434.1,209.2 433.2,209.6 432.4,210.1 431.6,210.6 430.7,211.1 429.9,211.7 429.1,212.2 428.2,212.8 427.4,213.5 426.5,214.1 425.7,214.8 424.9,215.6 424.1,216.3 423.2,217.1 422.4,218.0 421.6,218.9 420.8,219.8 419.9,220.7 419.1,221.7 418.3,222.8 417.5,223.8 416.7,225.0 415.9,226.1 415.0,227.4 414.2,228.6 413.4,229.9 412.6,231.3 411.8,232.7 411.0,234.1 410.2,235.7 409.5,237.2 408.8,238.9 408.0,240.6 407.3,242.3 406.6,244.1 405.9,246.0 405.1,247.9 404.4,249.8 403.7,251.8 403.0,253.9 402.3,256.0 401.6,258.1 400.9,260.3 400.2,262.5 399.4,264.8 398.8,267.1 398.1,269.4 397.5,271.7 396.8,274.1 396.2,276.4 395.5,278.8 394.9,281.1 394.3,283.4 393.6,285.7 393.0,287.9 392.3,290.0 391.7,292.0 391.1,293.8 390.5,295.4 390.0,296.5" fill="#fde8eb"/>
<polygon points="392.9,298.4 393.8,297.0 394.6,295.3 395.5,293.4 396.3,291.4 397.1,289.3 397.9,287.1 398.8,284.9 399.6,282.6 400.4,280.3 401.2,278.0 402.0,275.8 402.9,273.5 403.7,271.2 404.5,268.9 405.3,266.7 406.1,264.5 406.9,262.4 407.7,260.3 408.4,258.2 409.2,256.2 410.0,254.2 410.7,252.3 411.5,250.4 412.3,248.6 413.1,246.9 413.8,245.2 414.6,243.6 415.4,242.0 416.1,240.5 416.9,239.0 417.6,237.6 418.3,236.2 419.0,234.9 419.7,233.6 420.5,232.4 421.2,231.2 421.9,230.1 422.6,229.1 423.3,228.0 424.0,227.0 424.7,226.1 425.4,225.2 426.1,224.3 426.8,223.5 427.5,222.7 428.2,222.0 428.9,221.3 429.6,220.6 430.3,219.9 431.0,219.3 431.7,218.7 432.4,218.1 433.1,217.5 433.8,217.0 434.4,216.5 435.1,215.9 435.8,215.5 436.5,215.0 437.2,214.6 437.9,214.1 438.6,213.7 439.3,213.3 440.0,212.9 440.7,212.6 441.4,212.2 442.1,211.9 442.8,211.5 443.6,211.2 444.3,210.9 445.0,210.6 445.7,210.3 446.4,210.0 447.1,209.8 447.9,209.5 448.6,209.2 449.3,209.0 450.0,208.8 450.8,208.6 451.5,208.4 452.2,208.2 453.0,208.0 453.7,207.8 454.4,207.6 455.2,207.4 455.9,207.3 456.6,207.1 457.4,206.9 458.1,206.8 458.9,206.6 459.6,206.5 460.3,206.3 461.1,206.2 461.8,206.0 462.5,205.9 463.3,205.8 464.0,205.6 464.8,205.5 465.5,205.4 466.3,205.3 467.0,205.1 467.7,205.0 468.5,204.9 469.2,204.8 470.0,204.7 470.7,204.6 471.5,204.5 472.2,204.4 472.9,204.3 473.7,204.2 474.4,204.1 475.2,204.0 475.9,203.9 476.7,203.8 477.4,203.7 478.2,203.6 478.9,203.6 479.6,203.5 480.4,203.4 481.1,203.3 481.9,203.2 482.6,203.2 483.4,203.1 484.1,203.0 484.9,202.9 485.6,202.9 486.4,202.8 487.1,202.7 487.9,202.7 488.6,202.6 489.3,202.5 490.1,202.5 490.8,202.4 491.6,202.3 492.3,202.3 493.1,202.2 493.8,202.2 494.6,202.1 495.3,202.1 496.1,202.0 496.8,201.9 497.6,201.9 498.3,201.8 499.1,201.8 499.8,201.7 500.6,201.7 501.3,201.6 502.0,201.6 502.8,201.5 503.5,201.5 504.3,201.5 505.0,201.4 505.8,201.4 506.5,201.3 507.3,201.3 508.0,201.2 508.8,201.2 509.5,201.2 510.3,201.1 511.0,201.1 511.8,201.0 512.5,201.0 513.3,201.0 514.0,200.9 514.8,200.9 515.5,200.9 516.3,200.8 517.0,200.8 517.8,200.8 518.5,200.7 519.3,200.7 520.0,200.7 520.8,200.6 521.5,200.6 522.3,200.6 523.0,200.6 523.8,200.5 524.5,200.5 525.2,200.5 526.0,200.4 526.7,200.4 527.5,200.4 528.2,200.4 529.0,200.3 529.7,200.3 530.5,200.3 531.2,200.3 532.0,200.2 532.7,200.2 533.5,200.2 534.2,200.2 535.0,200.1 535.7,200.1 536.5,200.1 537.2,200.1 538.0,200.1 538.7,200.0 539.5,200.0 540.2,200.0 541.0,200.0 541.7,200.0 541.7,197.0 540.9,197.0 540.2,197.0 539.4,197.0 538.7,197.0 537.9,197.0 537.2,197.0 536.4,197.0 535.7,197.0 534.9,197.1 534.2,197.1 533.4,197.1 532.7,197.1 531.9,197.1 531.2,197.1 530.4,197.1 529.7,197.2 528.9,197.2 528.2,197.2 527.4,197.2 526.7,197.2 525.9,197.2 525.2,197.3 524.4,197.3 523.6,197.3 522.9,197.3 522.1,197.3 521.4,197.4 520.6,197.4 519.9,197.4 519.1,197.4 518.4,197.4 517.6,197.5 516.9,197.5 516.1,197.5 515.4,197.5 514.6,197.6 513.9,197.6 513.1,197.6 512.4,197.6 511.6,197.7 510.9,197.7 510.1,197.7 509.4,197.8 508.6,197.8 507.9,197.8 507.1,197.8 506.4,197.9 505.6,197.9 504.9,197.9 504.1,198.0 503.4,198.0 502.6,198.1 501.9,198.1 501.1,198.1 500.3,198.2 499.6,198.2 498.8,198.2 498.1,198.3 497.3,198.3 496.6,198.4 495.8,198.4 495.1,198.5 494.3,198.5 493.6,198.6 492.8,198.6 492.1,198.7 491.3,198.7 490.6,198.8 489.8,198.8 489.1,198.9 488.3,198.9 487.5,199.0 486.8,199.0 486.0,199.1 485.3,199.2 484.5,199.2 483.8,199.3 483.0,199.3 482.3,199.4 481.5,199.5 480.8,199.5 480.0,199.6 479.3,199.7 478.5,199.8 477.7,199.8 477.0,199.9 476.2,200.0 475.5,200.1 474.7,200.2 474.0,200.2 473.2,200.3 472.5,200.4 471.7,200.5 470.9,200.6 470.2,200.7 469.4,200.8 468.7,200.9 467.9,201.0 467.2,201.1 466.4,201.2 465.6,201.3 464.9,201.4 464.1,201.6 463.4,201.7 462.6,201.8 461.9,201.9 461.1,202.1 460.3,202.2 459.6,202.3 458.8,202.5 458.0,202.6 457.3,202.8 456.5,202.9 455.8,203.1 455.0,203.2 454.2,203.4 453.5,203.6 452.7,203.8 451.9,204.0 451.2,204.2 450.4,204.4 449.6,204.6 448.9,204.8 448.1,205.0 447.3,205.2 446.5,205.5 445.8,205.7 445.0,205.9 444.2,206.2 443.4,206.4 442.6,206.7 441.8,207.0 441.1,207.3 440.3,207.6 439.5,207.9 438.7,208.3 437.9,208.6 437.1,209.0 436.3,209.4 435.5,209.8 434.7,210.2 433.9,210.7 433.1,211.1 432.3,211.6 431.5,212.1 430.6,212.7 429.8,213.3 429.0,213.8 428.2,214.5 427.4,215.1 426.6,215.8 425.8,216.5 425.0,217.3 424.2,218.1 423.4,218.9 422.6,219.8 421.8,220.7 421.0,221.6 420.2,222.6 419.4,223.6 418.6,224.7 417.8,225.8 417.0,226.9 416.2,228.1 415.4,229.3 414.7,230.6 413.9,232.0 413.1,233.4 412.3,234.8 411.5,236.3 410.8,237.9 410.0,239.5 409.3,241.2 408.6,242.9 407.8,244.7 407.1,246.5 406.4,248.4 405.7,250.3 404.9,252.3 404.2,254.3 403.5,256.4 402.7,258.5 402.0,260.7 401.3,262.9 400.6,265.1 399.9,267.4 399.2,269.7 398.5,272.1 397.9,274.4 397.2,276.7 396.5,279.1 395.8,281.4 395.1,283.7 394.5,285.9 393.8,288.1 393.1,290.3 392.4,292.2 391.8,294.1 391.1,295.7 390.5,296.9" fill="#fbd9dd"/>
<polygon points="393.8,299.0 394.8,297.5 395.8,295.8 396.7,293.9 397.6,291.9 398.5,289.8 399.3,287.6 400.2,285.4 401.1,283.1 402.0,280.9 402.9,278.6 403.7,276.3 404.6,274.0 405.5,271.8 406.3,269.6 407.2,267.4 408.0,265.2 408.8,263.0 409.6,260.9 410.4,258.9 411.2,256.9 412.0,255.0 412.8,253.1 413.6,251.3 414.4,249.5 415.1,247.8 415.9,246.1 416.7,244.5 417.5,243.0 418.3,241.5 419.0,240.1 419.7,238.7 420.4,237.3 421.1,236.1 421.8,234.8 422.5,233.6 423.1,232.5 423.8,231.4 424.5,230.4 425.2,229.4 425.8,228.4 426.5,227.5 427.2,226.7 427.8,225.8 428.5,225.0 429.2,224.3 429.8,223.5 430.5,222.9 431.1,222.2 431.8,221.6 432.4,220.9 433.1,220.3 433.7,219.8 434.4,219.2 435.0,218.7 435.6,218.2 436.3,217.7 436.9,217.2 437.6,216.7 438.2,216.3 438.9,215.9 439.5,215.5 440.2,215.1 440.9,214.7 441.5,214.3 442.2,213.9 442.9,213.6 443.6,213.2 444.2,212.9 444.9,212.6 445.6,212.3 446.3,212.0 447.0,211.7 447.7,211.4 448.4,211.1 449.1,210.8 449.8,210.6 450.5,210.4 451.2,210.2 451.9,210.0 452.7,209.8 453.4,209.6 454.1,209.4 454.8,209.2 455.5,209.0 456.3,208.9 457.0,208.7 457.7,208.5 458.4,208.4 459.2,208.2 459.9,208.0 460.6,207.9 461.4,207.8 462.1,207.6 462.8,207.5 463.6,207.3 464.3,207.2 465.0,207.1 465.8,206.9 466.5,206.8 467.2,206.7 468.0,206.6 468.7,206.5 469.4,206.4 470.2,206.2 470.9,206.1 471.7,206.0 472.4,205.9 473.1,205.8 473.9,205.7 474.6,205.6 475.4,205.5 476.1,205.4 476.8,205.3 477.6,205.2 478.3,205.2 479.1,205.1 479.8,205.0 480.5,204.9 481.3,204.8 482.0,204.7 482.8,204.7 483.5,204.6 484.3,204.5 485.0,204.4 485.7,204.3 486.5,204.3 487.2,204.2 488.0,204.1 488.7,204.1 489.5,204.0 490.2,203.9 490.9,203.9 491.7,203.8 492.4,203.7 493.2,203.7 493.9,203.6 494.7,203.5 495.4,203.5 496.2,203.4 496.9,203.4 497.7,203.3 498.4,203.3 499.1,203.2 499.9,203.2 500.6,203.1 501.4,203.0 502.1,203.0 502.9,202.9 503.6,202.9 504.4,202.8 505.1,202.8 505.9,202.8 506.6,202.7 507.4,202.7 508.1,202.6 508.8,202.6 509.6,202.5 510.3,202.5 511.1,202.4 511.8,202.4 512.6,202.4 513.3,202.3 514.1,202.3 514.8,202.2 515.6,202.2 516.3,202.2 517.1,202.1 517.8,202.1 518.6,202.1 519.3,202.0 520.1,202.0 520.8,201.9 521.5,201.9 522.3,201.9 523.0,201.8 523.8,201.8 524.5,201.8 525.3,201.7 526.0,201.7 526.8,201.7 527.5,201.7 528.3,201.6 529.0,201.6 529.8,201.6 530.5,201.5 531.3,201.5 532.0,201.5 532.8,201.5 533.5,201.4 534.3,201.4 535.0,201.4 535.8,201.3 536.5,201.3 537.3,201.3 538.0,201.3 538.8,201.2 539.5,201.2 540.3,201.2 541.0,201.2 541.8,201.2 541.6,195.8 540.9,195.8 540.1,195.8 539.4,195.8 538.6,195.8 537.9,195.8 537.1,195.8 536.4,195.8 535.6,195.8 534.9,195.8 534.1,195.8 533.4,195.8 532.6,195.8 531.9,195.9 531.1,195.9 530.4,195.9 529.6,195.9 528.9,195.9 528.1,195.9 527.4,195.9 526.6,195.9 525.9,196.0 525.1,196.0 524.4,196.0 523.6,196.0 522.9,196.0 522.1,196.0 521.4,196.1 520.6,196.1 519.8,196.1 519.1,196.1 518.3,196.1 517.6,196.1 516.8,196.2 516.1,196.2 515.3,196.2 514.6,196.2 513.8,196.2 513.1,196.3 512.3,196.3 511.6,196.3 510.8,196.3 510.1,196.4 509.3,196.4 508.6,196.4 507.8,196.4 507.0,196.5 506.3,196.5 505.5,196.5 504.8,196.6 504.0,196.6 503.3,196.6 502.5,196.7 501.8,196.7 501.0,196.7 500.3,196.8 499.5,196.8 498.8,196.8 498.0,196.9 497.2,196.9 496.5,196.9 495.7,197.0 495.0,197.0 494.2,197.1 493.5,197.1 492.7,197.2 492.0,197.2 491.2,197.3 490.5,197.3 489.7,197.4 488.9,197.4 488.2,197.5 487.4,197.5 486.7,197.6 485.9,197.6 485.2,197.7 484.4,197.7 483.6,197.8 482.9,197.9 482.1,197.9 481.4,198.0 480.6,198.0 479.9,198.1 479.1,198.2 478.3,198.3 477.6,198.3 476.8,198.4 476.1,198.5 475.3,198.6 474.5,198.6 473.8,198.7 473.0,198.8 472.3,198.9 471.5,199.0 470.7,199.1 470.0,199.2 469.2,199.2 468.5,199.3 467.7,199.4 466.9,199.5 466.2,199.7 465.4,199.8 464.6,199.9 463.9,200.0 463.1,200.1 462.3,200.2 461.6,200.3 460.8,200.5 460.0,200.6 459.3,200.7 458.5,200.9 457.7,201.0 457.0,201.2 456.2,201.3 455.4,201.5 454.6,201.6 453.9,201.8 453.1,202.0 452.3,202.2 451.5,202.4 450.7,202.5 450.0,202.8 449.2,203.0 448.4,203.2 447.6,203.4 446.8,203.6 446.0,203.8 445.2,204.0 444.4,204.3 443.6,204.5 442.8,204.8 442.0,205.0 441.2,205.3 440.3,205.6 439.5,205.9 438.7,206.2 437.9,206.5 437.0,206.9 436.2,207.3 435.4,207.6 434.5,208.0 433.7,208.5 432.8,208.9 432.0,209.4 431.1,209.9 430.3,210.4 429.4,211.0 428.5,211.5 427.7,212.2 426.8,212.8 426.0,213.5 425.1,214.2 424.3,214.9 423.4,215.7 422.6,216.5 421.7,217.4 420.9,218.3 420.1,219.2 419.2,220.2 418.4,221.2 417.6,222.2 416.7,223.3 415.9,224.4 415.1,225.6 414.3,226.9 413.4,228.1 412.6,229.4 411.8,230.8 411.0,232.2 410.2,233.7 409.4,235.2 408.6,236.8 407.9,238.5 407.2,240.2 406.5,242.0 405.8,243.8 405.0,245.6 404.3,247.5 403.6,249.5 402.9,251.5 402.2,253.6 401.5,255.7 400.8,257.8 400.1,260.0 399.4,262.2 398.7,264.5 398.1,266.8 397.4,269.1 396.8,271.5 396.2,273.9 395.5,276.2 394.9,278.6 394.3,280.9 393.7,283.2 393.1,285.5 392.4,287.7 391.8,289.8 391.2,291.8 390.6,293.6 390.1,295.2 389.6,296.3" fill="url(#dotred)" opacity="0.25"/>
<polyline points="390.3,296.7 391.8,293.1 393.4,288.0 395.1,282.4 396.7,276.6 398.4,270.7 400.0,265.0 401.8,259.4 403.6,254.1 405.4,249.1 407.3,244.4 409.1,240.0 410.9,236.0 412.9,232.3 414.9,229.0 416.9,226.0 418.9,223.2 420.9,220.7 422.9,218.5 425.0,216.5 427.0,214.7 429.1,213.1 431.1,211.7 433.2,210.4 435.2,209.3 437.2,208.3 439.3,207.4 441.3,206.7 443.2,206.0 445.2,205.3 447.2,204.8 449.1,204.2 451.1,203.7 453.0,203.2 454.9,202.8 456.8,202.4 458.7,202.0 460.6,201.7 462.5,201.4 464.4,201.1 466.3,200.8 468.2,200.5 470.1,200.3 472.0,200.0 473.9,199.8 475.8,199.6 477.7,199.4 479.6,199.2 481.5,199.1 483.4,198.9 485.3,198.7 487.1,198.6 489.0,198.5 490.9,198.3 492.8,198.2 494.7,198.1 496.6,198.0 498.4,197.9 500.3,197.8 502.2,197.7 504.1,197.6 506.0,197.5 507.8,197.4 509.7,197.4 511.6,197.3 513.5,197.2 515.4,197.2 517.2,197.1 519.1,197.0 521.0,197.0 522.9,197.0 524.8,196.9 526.6,196.9 528.5,196.8 530.4,196.8 532.3,196.8 534.2,196.7 536.0,196.7 537.9,196.7 539.8,196.6 541.7,196.6" fill="none" stroke="#f8b4bc" stroke-width="0.5" stroke-dasharray="0.6 1.2"/>
<polyline points="392.1,297.9 394.0,294.0 396.0,288.9 397.9,283.4 399.8,277.6 401.8,271.8 403.7,266.2 405.6,260.7 407.5,255.5 409.4,250.7 411.3,246.1 413.1,241.9 415.0,238.1 416.9,234.6 418.7,231.4 420.6,228.5 422.4,225.9 424.3,223.5 426.1,221.4 427.9,219.5 429.8,217.8 431.6,216.3 433.4,215.0 435.2,213.7 437.1,212.6 438.9,211.6 440.8,210.7 442.6,209.9 444.4,209.2 446.3,208.5 448.1,207.9 450.0,207.3 451.9,206.8 453.7,206.3 455.6,205.9 457.5,205.5 459.3,205.1 461.2,204.7 463.1,204.4 464.9,204.1 466.8,203.8 468.7,203.5 470.5,203.2 472.4,203.0 474.3,202.8 476.1,202.5 478.0,202.3 479.9,202.1 481.8,201.9 483.6,201.8 485.5,201.6 487.4,201.4 489.2,201.3 491.1,201.1 493.0,201.0 494.9,200.8 496.7,200.7 498.6,200.6 500.5,200.5 502.4,200.4 504.2,200.3 506.1,200.2 508.0,200.1 509.8,200.0 511.7,199.9 513.6,199.8 515.5,199.7 517.3,199.6 519.2,199.6 521.1,199.5 523.0,199.4 524.8,199.4 526.7,199.3 528.6,199.3 530.5,199.2 532.3,199.1 534.2,199.1 536.1,199.0 538.0,199.0 539.8,199.0 541.7,198.9" fill="none" stroke="#f8b4bc" stroke-width="0.5" stroke-dasharray="0.6 1.2"/>
<polyline points="393.1,298.5 395.3,294.5 397.4,289.4 399.5,283.9 401.6,278.2 403.6,272.4 405.7,266.9 407.7,261.4 409.6,256.3 411.6,251.5 413.5,247.1 415.4,243.0 417.3,239.2 419.1,235.8 420.9,232.7 422.6,229.9 424.4,227.3 426.1,225.1 427.9,223.1 429.6,221.2 431.3,219.6 433.0,218.1 434.7,216.8 436.4,215.6 438.1,214.5 439.8,213.5 441.6,212.6 443.3,211.7 445.1,211.0 446.9,210.2 448.7,209.6 450.5,209.0 452.3,208.5 454.1,208.0 456.0,207.6 457.8,207.2 459.7,206.8 461.5,206.4 463.3,206.1 465.2,205.8 467.0,205.5 468.9,205.2 470.8,204.9 472.6,204.6 474.5,204.4 476.3,204.2 478.2,204.0 480.0,203.7 481.9,203.5 483.8,203.4 485.6,203.2 487.5,203.0 489.4,202.8 491.2,202.7 493.1,202.5 495.0,202.4 496.8,202.2 498.7,202.1 500.6,202.0 502.4,201.9 504.3,201.7 506.2,201.6 508.0,201.5 509.9,201.4 511.8,201.3 513.7,201.2 515.5,201.1 517.4,201.1 519.3,201.0 521.1,200.9 523.0,200.8 524.9,200.7 526.8,200.7 528.6,200.6 530.5,200.5 532.4,200.5 534.2,200.4 536.1,200.4 538.0,200.3 539.9,200.3 541.7,200.2" fill="none" stroke="#f8b4bc" stroke-width="0.5" stroke-dasharray="0.6 1.2"/>
<polyline points="390.8,297.1 392.5,293.4 394.2,288.3 396.0,282.7 397.7,276.9 399.5,271.1 401.2,265.3 403.0,259.8 404.9,254.6 406.7,249.6 408.5,245.0 410.4,240.6 412.2,236.7 414.2,233.1 416.1,229.8 418.1,226.8 420.0,224.1 422.0,221.6 423.9,219.4 425.9,217.5 427.9,215.7 429.9,214.1 431.9,212.7 433.8,211.5 435.8,210.4 437.8,209.4 439.7,208.5 441.7,207.7 443.6,207.0 445.6,206.4 447.5,205.8 449.4,205.2 451.3,204.7 453.2,204.2 455.1,203.8 457.0,203.4 458.9,203.0 460.8,202.7 462.7,202.3 464.6,202.0 466.5,201.7 468.4,201.5 470.3,201.2 472.1,201.0 474.0,200.8 475.9,200.6 477.8,200.4 479.7,200.2 481.6,200.0 483.4,199.8 485.3,199.7 487.2,199.5 489.1,199.4 491.0,199.2 492.9,199.1 494.7,199.0 496.6,198.9 498.5,198.7 500.4,198.6 502.3,198.5 504.1,198.5 506.0,198.4 507.9,198.3 509.8,198.2 511.6,198.1 513.5,198.1 515.4,198.0 517.3,197.9 519.2,197.9 521.0,197.8 522.9,197.8 524.8,197.7 526.7,197.7 528.5,197.6 530.4,197.6 532.3,197.5 534.2,197.5 536.0,197.5 537.9,197.4 539.8,197.4 541.7,197.4" fill="none" stroke="#f8b4bc" stroke-width="0.5" stroke-dasharray="0.6 1.2"/>
<polyline points="392.5,298.2 394.6,294.2 396.6,289.1 398.6,283.6 400.6,277.8 402.5,272.1 404.5,266.5 406.4,261.0 408.4,255.9 410.3,251.0 412.2,246.5 414.1,242.4 416.0,238.6 417.8,235.1 419.6,231.9 421.4,229.0 423.2,226.5 425.0,224.2 426.8,222.1 428.6,220.2 430.4,218.6 432.2,217.1 433.9,215.7 435.7,214.5 437.5,213.4 439.3,212.4 441.1,211.5 442.9,210.7 444.7,209.9 446.5,209.2 448.4,208.6 450.2,208.0 452.1,207.5 453.9,207.0 455.8,206.6 457.6,206.2 459.5,205.8 461.3,205.4 463.2,205.1 465.0,204.8 466.9,204.5 468.8,204.2 470.6,203.9 472.5,203.7 474.4,203.4 476.2,203.2 478.1,203.0 480.0,202.8 481.8,202.6 483.7,202.4 485.6,202.2 487.4,202.1 489.3,201.9 491.2,201.8 493.0,201.6 494.9,201.5 496.8,201.3 498.6,201.2 500.5,201.1 502.4,201.0 504.3,200.9 506.1,200.8 508.0,200.7 509.9,200.6 511.7,200.5 513.6,200.4 515.5,200.3 517.4,200.2 519.2,200.2 521.1,200.1 523.0,200.0 524.9,199.9 526.7,199.9 528.6,199.8 530.5,199.8 532.4,199.7 534.2,199.6 536.1,199.6 538.0,199.5 539.8,199.5 541.7,199.4" fill="none" stroke="#f8b4bc" stroke-width="0.5" stroke-dasharray="0.6 1.2"/>
<polyline points="391.5,297.5 393.4,293.7 395.2,288.6 397.1,283.1 398.9,277.3 400.8,271.5 402.6,265.8 404.5,260.3 406.4,255.1 408.2,250.2 410.1,245.6 412.0,241.4 413.9,237.5 415.7,233.9 417.6,230.7 419.5,227.7 421.4,225.1 423.3,222.7 425.2,220.6 427.1,218.7 429.0,216.9 430.9,215.4 432.8,214.0 434.6,212.8 436.5,211.7 438.4,210.7 440.3,209.8 442.2,209.0 444.1,208.2 446.0,207.6 447.9,207.0 449.8,206.4 451.6,205.9 453.5,205.4 455.4,205.0 457.3,204.6 459.1,204.2 461.0,203.9 462.9,203.5 464.8,203.2 466.7,202.9 468.5,202.6 470.4,202.4 472.3,202.1 474.2,201.9 476.0,201.7 477.9,201.5 479.8,201.3 481.7,201.1 483.6,200.9 485.4,200.8 487.3,200.6 489.2,200.5 491.1,200.3 492.9,200.2 494.8,200.1 496.7,199.9 498.6,199.8 500.4,199.7 502.3,199.6 504.2,199.5 506.1,199.4 507.9,199.3 509.8,199.2 511.7,199.1 513.6,199.1 515.4,199.0 517.3,198.9 519.2,198.8 521.1,198.8 522.9,198.7 524.8,198.7 526.7,198.6 528.6,198.6 530.4,198.5 532.3,198.5 534.2,198.4 536.1,198.4 537.9,198.3 539.8,198.3 541.7,198.3" fill="none" stroke="#f8b4bc" stroke-width="0.5" stroke-dasharray="0.6 1.2"/>
<polyline points="393.4,298.7 395.6,294.6 397.8,289.5 399.9,284.0 402.1,278.3 404.2,272.6 406.3,267.0 408.3,261.7 410.2,256.5 412.2,251.8 414.1,247.3 416.1,243.3 418.0,239.6 419.7,236.1 421.5,233.0 423.2,230.3 424.9,227.8 426.7,225.5 428.4,223.5 430.0,221.7 431.7,220.1 433.4,218.7 435.1,217.3 436.7,216.1 438.4,215.0 440.1,214.0 441.8,213.1 443.6,212.2 445.3,211.5 447.1,210.7 448.8,210.1 450.6,209.5 452.4,209.0 454.3,208.5 456.1,208.1 457.9,207.7 459.7,207.3 461.6,206.9 463.4,206.6 465.3,206.2 467.1,205.9 469.0,205.6 470.8,205.4 472.7,205.1 474.5,204.9 476.4,204.6 478.2,204.4 480.1,204.2 482.0,204.0 483.8,203.8 485.7,203.6 487.5,203.4 489.4,203.3 491.3,203.1 493.1,203.0 495.0,202.8 496.9,202.7 498.7,202.5 500.6,202.4 502.5,202.3 504.3,202.2 506.2,202.1 508.1,201.9 509.9,201.8 511.8,201.7 513.7,201.6 515.5,201.5 517.4,201.5 519.3,201.4 521.2,201.3 523.0,201.2 524.9,201.1 526.8,201.1 528.6,201.0 530.5,200.9 532.4,200.9 534.3,200.8 536.1,200.7 538.0,200.7 539.9,200.6 541.7,200.6" fill="none" stroke="#f8b4bc" stroke-width="0.5" stroke-dasharray="0.6 1.2"/>
<polyline points="392.0,297.8 393.9,293.9 395.8,288.9 397.8,283.3 399.7,277.5 401.6,271.8 403.5,266.1 405.4,260.7 407.3,255.5 409.2,250.6 411.1,246.0 412.9,241.8 414.8,238.0 416.7,234.4 418.5,231.2 420.4,228.3 422.2,225.7 424.1,223.4 425.9,221.3 427.8,219.4 429.6,217.7 431.5,216.2 433.3,214.8 435.1,213.6 437.0,212.5 438.8,211.5 440.7,210.6 442.5,209.8 444.4,209.0 446.2,208.3 448.1,207.7 450.0,207.1 451.8,206.6 453.7,206.2 455.6,205.7 457.4,205.3 459.3,204.9 461.2,204.6 463.0,204.2 464.9,203.9 466.8,203.6 468.6,203.4 470.5,203.1 472.4,202.8 474.3,202.6 476.1,202.4 478.0,202.2 479.9,202.0 481.7,201.8 483.6,201.6 485.5,201.4 487.4,201.3 489.2,201.1 491.1,201.0 493.0,200.8 494.9,200.7 496.7,200.6 498.6,200.5 500.5,200.3 502.3,200.2 504.2,200.1 506.1,200.0 508.0,199.9 509.8,199.8 511.7,199.8 513.6,199.7 515.5,199.6 517.3,199.5 519.2,199.4 521.1,199.4 523.0,199.3 524.8,199.2 526.7,199.2 528.6,199.1 530.5,199.1 532.3,199.0 534.2,199.0 536.1,198.9 538.0,198.9 539.8,198.8 541.7,198.8" fill="none" stroke="#f8b4bc" stroke-width="0.5" stroke-dasharray="0.6 1.2"/>
<polyline points="393.8,299.0 396.2,294.8 398.4,289.8 400.6,284.2 402.8,278.6 405.0,272.9 407.2,267.3 409.2,262.0 411.1,256.9 413.1,252.1 415.1,247.7 417.0,243.7 419.0,240.1 420.7,236.7 422.4,233.6 424.1,230.8 425.8,228.4 427.5,226.2 429.1,224.2 430.8,222.5 432.4,220.9 434.0,219.4 435.6,218.1 437.2,216.9 438.9,215.8 440.5,214.8 442.2,213.9 443.9,213.0 445.6,212.2 447.3,211.5 449.1,210.8 450.8,210.2 452.6,209.7 454.4,209.2 456.3,208.8 458.1,208.4 459.9,208.0 461.7,207.6 463.5,207.3 465.4,207.0 467.2,206.7 469.1,206.4 470.9,206.1 472.8,205.8 474.6,205.6 476.5,205.3 478.3,205.1 480.2,204.9 482.0,204.7 483.9,204.5 485.7,204.3 487.6,204.1 489.5,203.9 491.3,203.8 493.2,203.6 495.0,203.5 496.9,203.3 498.8,203.2 500.6,203.1 502.5,202.9 504.4,202.8 506.2,202.7 508.1,202.6 510.0,202.5 511.8,202.4 513.7,202.3 515.6,202.2 517.4,202.1 519.3,202.0 521.2,201.9 523.0,201.8 524.9,201.7 526.8,201.6 528.7,201.6 530.5,201.5 532.4,201.4 534.3,201.4 536.1,201.3 538.0,201.2 539.9,201.2 541.8,201.1" fill="none" stroke="#f8b4bc" stroke-width="0.5" stroke-dasharray="0.6 1.2"/>
<polyline points="390.6,296.9 392.2,293.2 393.9,288.2 395.6,282.6 397.3,276.8 399.0,270.9 400.8,265.2 402.6,259.7 404.4,254.4 406.2,249.4 408.0,244.7 409.9,240.4 411.7,236.4 413.7,232.8 415.6,229.5 417.6,226.5 419.6,223.7 421.6,221.3 423.5,219.0 425.5,217.1 427.5,215.3 429.6,213.7 431.6,212.3 433.6,211.1 435.6,209.9 437.6,209.0 439.5,208.1 441.5,207.3 443.5,206.6 445.4,205.9 447.4,205.4 449.3,204.8 451.2,204.3 453.1,203.8 455.0,203.4 456.9,203.0 458.8,202.6 460.7,202.3 462.6,201.9 464.5,201.6 466.4,201.4 468.3,201.1 470.2,200.8 472.1,200.6 474.0,200.4 475.9,200.2 477.8,200.0 479.6,199.8 481.5,199.6 483.4,199.5 485.3,199.3 487.2,199.1 489.1,199.0 490.9,198.9 492.8,198.7 494.7,198.6 496.6,198.5 498.5,198.4 500.4,198.3 502.2,198.2 504.1,198.1 506.0,198.0 507.9,197.9 509.8,197.9 511.6,197.8 513.5,197.7 515.4,197.7 517.3,197.6 519.1,197.5 521.0,197.5 522.9,197.4 524.8,197.4 526.7,197.3 528.5,197.3 530.4,197.3 532.3,197.2 534.2,197.2 536.0,197.1 537.9,197.1 539.8,197.1 541.7,197.1" fill="none" stroke="#f8b4bc" stroke-width="0.5" stroke-dasharray="0.6 1.2"/>
<polyline points="390.0,296.6 391.5,293.0 393.1,287.9 394.7,282.3 396.3,276.5 398.0,270.6 399.6,264.8 401.4,259.2 403.2,253.9 405.0,248.9 406.8,244.2 408.6,239.8 410.4,235.8 412.4,232.1 414.4,228.7 416.4,225.7 418.5,222.9 420.5,220.4 422.6,218.1 424.6,216.1 426.7,214.3 428.8,212.7 430.9,211.3 432.9,210.0 435.0,208.9 437.0,207.9 439.1,207.0 441.1,206.3 443.1,205.6 445.1,205.0 447.1,204.4 449.0,203.9 451.0,203.3 452.9,202.9 454.8,202.4 456.7,202.0 458.7,201.7 460.6,201.3 462.5,201.0 464.4,200.7 466.3,200.4 468.2,200.2 470.1,199.9 472.0,199.7 473.9,199.5 475.8,199.3 477.7,199.1 479.6,198.9 481.4,198.7 483.3,198.6 485.2,198.4 487.1,198.3 489.0,198.1 490.9,198.0 492.8,197.9 494.7,197.8 496.5,197.6 498.4,197.5 500.3,197.5 502.2,197.4 504.1,197.3 506.0,197.2 507.8,197.1 509.7,197.0 511.6,197.0 513.5,196.9 515.4,196.9 517.2,196.8 519.1,196.7 521.0,196.7 522.9,196.7 524.8,196.6 526.6,196.6 528.5,196.5 530.4,196.5 532.3,196.5 534.1,196.4 536.0,196.4 537.9,196.4 539.8,196.4 541.7,196.3" fill="none" stroke="#f8b4bc" stroke-width="0.5" stroke-dasharray="0.6 1.2"/>
<polyline points="391.0,297.2 392.8,293.5 394.5,288.4 396.3,282.8 398.1,277.0 399.9,271.2 401.6,265.5 403.5,260.0 405.3,254.7 407.2,249.8 409.0,245.2 410.9,240.9 412.7,236.9 414.6,233.3 416.6,230.0 418.5,227.1 420.4,224.4 422.4,221.9 424.3,219.8 426.3,217.8 428.2,216.0 430.2,214.5 432.1,213.1 434.1,211.9 436.0,210.8 438.0,209.8 439.9,208.9 441.8,208.1 443.8,207.4 445.7,206.7 447.6,206.1 449.5,205.6 451.4,205.0 453.3,204.6 455.2,204.1 457.1,203.7 459.0,203.4 460.9,203.0 462.8,202.7 464.6,202.4 466.5,202.1 468.4,201.8 470.3,201.6 472.2,201.3 474.1,201.1 476.0,200.9 477.8,200.7 479.7,200.5 481.6,200.3 483.5,200.1 485.4,200.0 487.2,199.8 489.1,199.7 491.0,199.5 492.9,199.4 494.8,199.3 496.6,199.2 498.5,199.1 500.4,198.9 502.3,198.8 504.1,198.8 506.0,198.7 507.9,198.6 509.8,198.5 511.7,198.4 513.5,198.3 515.4,198.3 517.3,198.2 519.2,198.1 521.0,198.1 522.9,198.0 524.8,198.0 526.7,197.9 528.6,197.9 530.4,197.8 532.3,197.8 534.2,197.8 536.1,197.7 537.9,197.7 539.8,197.6 541.7,197.6" fill="none" stroke="#f8b4bc" stroke-width="0.5" stroke-dasharray="0.6 1.2"/>
<polygon points="393.1,298.6 394.0,297.1 394.8,295.4 395.6,293.5 396.3,291.4 397.1,289.3 397.9,287.1 398.6,284.9 399.4,282.6 400.2,280.3 400.9,277.9 401.7,275.6 402.4,273.3 403.2,271.0 403.9,268.8 404.7,266.5 405.5,264.3 406.2,262.1 407.0,260.0 407.7,257.9 408.5,255.9 409.2,253.9 410.0,252.0 410.7,250.1 411.5,248.3 412.2,246.5 413.0,244.8 413.7,243.2 414.5,241.6 415.2,240.0 416.0,238.6 416.7,237.1 417.4,235.7 418.2,234.4 418.9,233.1 419.6,231.9 420.4,230.7 421.1,229.6 421.8,228.5 422.5,227.5 423.3,226.5 424.0,225.5 424.7,224.6 425.4,223.8 426.1,222.9 426.9,222.1 427.6,221.4 428.3,220.6 429.0,220.0 429.7,219.3 430.4,218.6 431.2,218.0 431.9,217.5 432.6,216.9 433.3,216.4 434.0,215.8 434.7,215.4 435.5,214.9 436.2,214.4 436.9,214.0 437.6,213.6 438.3,213.2 439.0,212.8 439.8,212.4 440.5,212.1 441.2,211.7 441.9,211.4 442.7,211.1 443.4,210.8 444.1,210.5 444.8,210.2 445.6,210.0 446.3,209.7 447.0,209.4 447.8,209.2 448.5,209.0 449.2,208.7 450.0,208.5 450.7,208.3 451.4,208.1 452.2,207.9 452.9,207.7 453.6,207.5 454.4,207.3 455.1,207.2 455.8,207.0 456.6,206.8 457.3,206.7 458.1,206.5 458.8,206.4 459.5,206.2 460.3,206.1 461.0,205.9 461.8,205.8 462.5,205.7 463.2,205.5 464.0,205.4 464.7,205.3 465.5,205.1 466.2,205.0 467.0,204.9 467.7,204.8 468.5,204.7 469.2,204.6 469.9,204.5 470.7,204.4 471.4,204.3 472.2,204.2 472.9,204.1 473.7,204.0 474.4,203.9 475.2,203.8 475.9,203.7 476.6,203.6 477.4,203.5 478.1,203.5 478.9,203.4 479.6,203.3 480.4,203.2 481.1,203.2 481.9,203.1 482.6,203.0 483.4,202.9 484.1,202.9 484.9,202.8 485.6,202.7 486.3,202.7 487.1,202.6 487.8,202.5 488.6,202.5 489.3,202.4 490.1,202.3 490.8,202.3 491.6,202.2 492.3,202.2 493.1,202.1 493.8,202.1 494.6,202.0 495.3,202.0 496.1,201.9 496.8,201.9 497.6,201.8 498.3,201.8 499.1,201.7 499.8,201.7 500.5,201.6 501.3,201.6 502.0,201.5 502.8,201.5 503.5,201.4 504.3,201.4 505.0,201.4 505.8,201.3 506.5,201.3 507.3,201.2 508.0,201.2 508.8,201.2 509.5,201.1 510.3,201.1 511.0,201.1 511.8,201.0 512.5,201.0 513.3,201.0 514.0,200.9 514.8,200.9 515.5,200.9 516.3,200.8 517.0,200.8 517.8,200.8 518.5,200.7 519.3,200.7 520.0,200.7 520.8,200.7 521.5,200.6 522.3,200.6 523.0,200.6 523.8,200.5 524.5,200.5 525.3,200.5 526.0,200.5 526.7,200.4 527.5,200.4 528.2,200.4 529.0,200.4 529.7,200.4 530.5,200.3 531.2,200.3 532.0,200.3 532.7,200.3 533.5,200.3 534.2,200.2 535.0,200.2 535.7,200.2 536.5,200.2 537.2,200.2 538.0,200.1 538.7,200.1 539.5,200.1 540.2,200.1 541.0,200.1 541.7,200.1 541.7,196.9 540.9,196.9 540.2,196.9 539.4,196.9 538.7,196.9 537.9,196.9 537.2,196.9 536.4,197.0 535.7,197.0 534.9,197.0 534.2,197.0 533.4,197.0 532.7,197.0 531.9,197.1 531.2,197.1 530.4,197.1 529.7,197.1 528.9,197.1 528.2,197.1 527.4,197.2 526.7,197.2 525.9,197.2 525.1,197.2 524.4,197.2 523.6,197.3 522.9,197.3 522.1,197.3 521.4,197.3 520.6,197.4 519.9,197.4 519.1,197.4 518.4,197.4 517.6,197.5 516.9,197.5 516.1,197.5 515.4,197.5 514.6,197.6 513.9,197.6 513.1,197.6 512.4,197.7 511.6,197.7 510.9,197.7 510.1,197.8 509.4,197.8 508.6,197.8 507.9,197.9 507.1,197.9 506.4,197.9 505.6,198.0 504.9,198.0 504.1,198.0 503.4,198.1 502.6,198.1 501.9,198.2 501.1,198.2 500.4,198.2 499.6,198.3 498.8,198.3 498.1,198.4 497.3,198.4 496.6,198.5 495.8,198.5 495.1,198.6 494.3,198.6 493.6,198.7 492.8,198.7 492.1,198.8 491.3,198.8 490.6,198.9 489.8,198.9 489.1,199.0 488.3,199.0 487.6,199.1 486.8,199.2 486.1,199.2 485.3,199.3 484.5,199.4 483.8,199.4 483.0,199.5 482.3,199.6 481.5,199.6 480.8,199.7 480.0,199.8 479.3,199.9 478.5,199.9 477.8,200.0 477.0,200.1 476.3,200.2 475.5,200.3 474.7,200.3 474.0,200.4 473.2,200.5 472.5,200.6 471.7,200.7 471.0,200.8 470.2,200.9 469.5,201.0 468.7,201.1 467.9,201.2 467.2,201.3 466.4,201.4 465.7,201.5 464.9,201.7 464.2,201.8 463.4,201.9 462.7,202.0 461.9,202.2 461.1,202.3 460.4,202.4 459.6,202.6 458.9,202.7 458.1,202.9 457.3,203.0 456.6,203.2 455.8,203.3 455.1,203.5 454.3,203.7 453.5,203.9 452.8,204.0 452.0,204.2 451.2,204.4 450.5,204.6 449.7,204.8 448.9,205.1 448.2,205.3 447.4,205.5 446.6,205.8 445.9,206.0 445.1,206.3 444.3,206.5 443.6,206.8 442.8,207.1 442.0,207.4 441.2,207.7 440.5,208.0 439.7,208.4 438.9,208.7 438.1,209.1 437.4,209.5 436.6,209.9 435.8,210.3 435.0,210.8 434.2,211.2 433.4,211.7 432.7,212.2 431.9,212.7 431.1,213.3 430.3,213.9 429.5,214.5 428.7,215.1 428.0,215.8 427.2,216.4 426.4,217.2 425.6,217.9 424.8,218.7 424.0,219.5 423.3,220.4 422.5,221.2 421.7,222.2 420.9,223.1 420.1,224.2 419.4,225.2 418.6,226.3 417.8,227.4 417.0,228.6 416.3,229.8 415.5,231.1 414.7,232.5 414.0,233.8 413.2,235.3 412.4,236.8 411.7,238.3 410.9,239.9 410.2,241.5 409.4,243.2 408.7,245.0 407.9,246.8 407.2,248.7 406.4,250.6 405.7,252.6 404.9,254.6 404.2,256.6 403.4,258.8 402.7,260.9 401.9,263.1 401.2,265.3 400.5,267.6 399.7,269.9 399.0,272.2 398.2,274.5 397.5,276.8 396.7,279.2 396.0,281.5 395.3,283.7 394.5,286.0 393.8,288.1 393.1,290.2 392.3,292.2 391.6,294.0 390.9,295.6 390.3,296.7" fill="#f4979f"/>
<polyline points="391.7,297.6 392.4,296.4 393.2,294.7 393.9,292.8 394.7,290.8 395.4,288.7 396.2,286.5 396.9,284.3 397.7,282.0 398.4,279.7 399.2,277.4 399.9,275.1 400.7,272.8 401.4,270.5 402.2,268.2 402.9,265.9 403.7,263.7 404.4,261.5 405.2,259.4 405.9,257.3 406.7,255.2 407.4,253.2 408.2,251.3 408.9,249.4 409.7,247.6 410.4,245.8 411.2,244.0 411.9,242.4 412.7,240.7 413.4,239.2 414.2,237.7 414.9,236.2 415.7,234.8 416.4,233.4 417.2,232.1 417.9,230.9 418.7,229.7 419.4,228.5 420.2,227.4 420.9,226.3 421.7,225.3 422.4,224.3 423.2,223.4 423.9,222.5 424.7,221.6 425.4,220.8 426.2,220.0 426.9,219.3 427.7,218.6 428.4,217.9 429.2,217.2 429.9,216.6 430.7,216.0 431.4,215.4 432.2,214.8 432.9,214.3 433.7,213.8 434.4,213.3 435.2,212.8 435.9,212.4 436.7,212.0 437.4,211.5 438.2,211.2 438.9,210.8 439.7,210.4 440.4,210.1 441.2,209.7 441.9,209.4 442.7,209.1 443.4,208.8 444.2,208.5 444.9,208.2 445.7,208.0 446.4,207.7 447.2,207.5 447.9,207.2 448.7,207.0 449.4,206.8 450.2,206.6 451.0,206.4 451.7,206.2 452.5,206.0 453.2,205.8 453.9,205.6 454.7,205.4 455.4,205.3 456.2,205.1 457.0,204.9 457.7,204.8 458.5,204.6 459.2,204.5 460.0,204.3 460.7,204.2 461.5,204.0 462.2,203.9 463.0,203.8 463.7,203.7 464.5,203.5 465.2,203.4 466.0,203.3 466.7,203.2 467.5,203.1 468.2,203.0 469.0,202.8 469.7,202.7 470.5,202.6 471.2,202.5 472.0,202.4 472.7,202.4 473.5,202.3 474.2,202.2 475.0,202.1 475.7,202.0 476.5,201.9 477.2,201.8 478.0,201.7 478.7,201.7 479.5,201.6 480.2,201.5 481.0,201.4 481.7,201.4 482.5,201.3 483.2,201.2 484.0,201.1 484.7,201.1 485.5,201.0 486.2,200.9 487.0,200.9 487.7,200.8 488.5,200.8 489.2,200.7 490.0,200.6 490.7,200.6 491.5,200.5 492.2,200.5 493.0,200.4 493.7,200.4 494.5,200.3 495.2,200.3 496.0,200.2 496.7,200.2 497.5,200.1 498.2,200.1 499.0,200.0 499.7,200.0 500.5,199.9 501.2,199.9 502.0,199.8 502.7,199.8 503.5,199.8 504.2,199.7 505.0,199.7 505.7,199.6 506.5,199.6 507.2,199.6 508.0,199.5 508.7,199.5 509.5,199.5 510.2,199.4 511.0,199.4 511.7,199.4 512.5,199.3 513.2,199.3 514.0,199.3 514.7,199.2 515.5,199.2 516.2,199.2 517.0,199.1 517.7,199.1 518.5,199.1 519.2,199.1 520.0,199.0 520.7,199.0 521.5,199.0 522.2,199.0 523.0,198.9 523.7,198.9 524.5,198.9 525.2,198.9 526.0,198.8 526.7,198.8 527.5,198.8 528.2,198.8 529.0,198.8 529.7,198.7 530.5,198.7 531.2,198.7 532.0,198.7 532.7,198.7 533.5,198.6 534.2,198.6 535.0,198.6 535.7,198.6 536.5,198.6 537.2,198.5 538.0,198.5 538.7,198.5 539.5,198.5 540.2,198.5 541.0,198.5 541.7,198.5" fill="none" stroke="#e6202f" stroke-width="1.6" stroke-linejoin="round"/>
<rect x="391.7" y="185.4" width="150.00" height="116.40" fill="none" stroke="#bdbdbd" stroke-width="1"/>
<path d="M391.70,301.8v-1.4M391.70,185.4v1.4M429.20,301.8v-1.4M429.20,185.4v1.4M466.70,301.8v-1.4M466.70,185.4v1.4M504.20,301.8v-1.4M504.20,185.4v1.4M541.70,301.8v-1.4M541.70,185.4v1.4M391.7,301.80h1.4M541.7,301.80h-1.4M391.7,287.25h1.4M541.7,287.25h-1.4M391.7,272.70h1.4M541.7,272.70h-1.4M391.7,258.15h1.4M541.7,258.15h-1.4M391.7,243.60h1.4M541.7,243.60h-1.4M391.7,229.05h1.4M541.7,229.05h-1.4M391.7,214.50h1.4M541.7,214.50h-1.4M391.7,199.95h1.4M541.7,199.95h-1.4M391.7,185.40h1.4M541.7,185.40h-1.4" stroke="#555" stroke-width="0.6" fill="none"/>
<text x="389.10" y="304.00" text-anchor="end" class="tk">0.2</text>
<text x="389.10" y="289.45" text-anchor="end" class="tk">0.3</text>
<text x="389.10" y="274.90" text-anchor="end" class="tk">0.4</text>
<text x="389.10" y="260.35" text-anchor="end" class="tk">0.5</text>
<text x="389.10" y="245.80" text-anchor="end" class="tk">0.6</text>
<text x="389.10" y="231.25" text-anchor="end" class="tk">0.7</text>
<text x="389.10" y="216.70" text-anchor="end" class="tk">0.8</text>
<text x="389.10" y="202.15" text-anchor="end" class="tk">0.9</text>
<text x="389.10" y="187.60" text-anchor="end" class="tk">1</text>
<text x="391.70" y="310.00" text-anchor="middle" class="tk">0</text>
<text x="429.20" y="310.00" text-anchor="middle" class="tk">100</text>
<text x="466.70" y="310.00" text-anchor="middle" class="tk">200</text>
<text x="504.20" y="310.00" text-anchor="middle" class="tk">300</text>
<text x="541.70" y="310.00" text-anchor="middle" class="tk">400</text>
<text x="466.70" y="319.20" text-anchor="middle" class="xl">Iteration Number</text>
<text transform="translate(378.30,243.60) rotate(-90)" text-anchor="middle" class="yl">ME</text>
<text x="466.70" y="181.00" text-anchor="middle" class="ti" textLength="98.7" lengthAdjust="spacingAndGlyphs">NadamSPGD: Δ<tspan font-style="italic">u</tspan>=1</text>
<rect x="443.6" y="282.0" width="94.10" height="15.10" fill="#fff" stroke="#a8a8a8" stroke-width="0.8"/>
<path d="M444.80,286.98h14" stroke="#f8d4d8" stroke-width="0.8" stroke-dasharray="0.8 1.4"/>
<path d="M444.00,293.63h15.2" stroke="#e24a5a" stroke-width="2.3"/>
<text x="460.20" y="288.88" class="lg">100 simulations (NadamSPGD)</text>
<text x="460.20" y="295.93" class="lg">Mean and std (NadamSPGD)</text>
<text x="466.70" y="331.50" text-anchor="middle" class="sc">(f)</text>
</svg></body></html>
